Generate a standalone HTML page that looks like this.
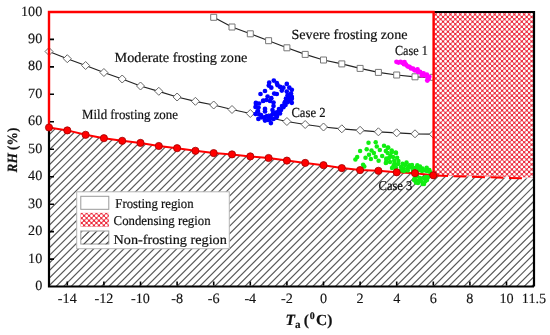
<!DOCTYPE html><html><head><meta charset="utf-8"><style>html,body{margin:0;padding:0;background:#fff;}svg{display:block;}text{font-family:"Liberation Serif",serif;fill:#111;stroke:#111;stroke-width:0.2px;text-rendering:geometricPrecision;}</style></head><body>
<svg width="550" height="335" viewBox="0 0 550 335">
<rect width="550" height="335" fill="#fff"/>
<defs><clipPath id="hc"><polygon points="49.0,127.5 67.3,130.4 85.6,134.8 103.9,138.2 122.2,140.8 140.5,142.9 158.8,146.0 177.1,148.2 195.4,150.8 213.7,153.1 232.0,154.4 250.3,156.4 268.6,158.0 286.9,160.6 305.2,162.9 323.5,165.2 341.8,168.1 360.1,170.1 378.4,170.8 396.7,172.3 415.0,173.2 433.3,175.3 534.0,178.6 534.0,286.5 49.0,286.5"/></clipPath>
<pattern id="xh" patternUnits="userSpaceOnUse" width="4.95" height="4.95" x="0.3" y="0.2">
<rect width="4.95" height="4.95" fill="#fff"/>



<path d="M-1.00,-1.00 L5.95,5.95 M-1.00,3.95 L1.00,5.95 M3.95,-1.00 L5.95,1.00" stroke="#ee3344" stroke-width="1.0" fill="none"/>
<path d="M-1.00,5.95 L5.95,-1.00 M-1.00,1.00 L1.00,-1.00 M3.95,5.95 L5.95,3.95" stroke="#ee3344" stroke-width="1.0" fill="none"/>
</pattern>
<clipPath id="lc"><rect x="81.3" y="231.5" width="27.2" height="12.8"/></clipPath>
</defs>
<path d="M-153.80,300.00L146.20,0.00M-146.25,300.00L153.75,0.00M-138.70,300.00L161.30,0.00M-131.15,300.00L168.85,0.00M-123.60,300.00L176.40,0.00M-116.05,300.00L183.95,0.00M-108.50,300.00L191.50,0.00M-100.95,300.00L199.05,0.00M-93.40,300.00L206.60,0.00M-85.85,300.00L214.15,0.00M-78.30,300.00L221.70,0.00M-70.75,300.00L229.25,0.00M-63.20,300.00L236.80,0.00M-55.65,300.00L244.35,0.00M-48.10,300.00L251.90,0.00M-40.55,300.00L259.45,0.00M-33.00,300.00L267.00,0.00M-25.45,300.00L274.55,0.00M-17.90,300.00L282.10,0.00M-10.35,300.00L289.65,0.00M-2.80,300.00L297.20,0.00M4.75,300.00L304.75,0.00M12.30,300.00L312.30,0.00M19.85,300.00L319.85,0.00M27.40,300.00L327.40,0.00M34.95,300.00L334.95,0.00M42.50,300.00L342.50,0.00M50.05,300.00L350.05,0.00M57.60,300.00L357.60,0.00M65.15,300.00L365.15,0.00M72.70,300.00L372.70,0.00M80.25,300.00L380.25,0.00M87.80,300.00L387.80,0.00M95.35,300.00L395.35,0.00M102.90,300.00L402.90,0.00M110.45,300.00L410.45,0.00M118.00,300.00L418.00,0.00M125.55,300.00L425.55,0.00M133.10,300.00L433.10,0.00M140.65,300.00L440.65,0.00M148.20,300.00L448.20,0.00M155.75,300.00L455.75,0.00M163.30,300.00L463.30,0.00M170.85,300.00L470.85,0.00M178.40,300.00L478.40,0.00M185.95,300.00L485.95,0.00M193.50,300.00L493.50,0.00M201.05,300.00L501.05,0.00M208.60,300.00L508.60,0.00M216.15,300.00L516.15,0.00M223.70,300.00L523.70,0.00M231.25,300.00L531.25,0.00M238.80,300.00L538.80,0.00M246.35,300.00L546.35,0.00M253.90,300.00L553.90,0.00M261.45,300.00L561.45,0.00M269.00,300.00L569.00,0.00M276.55,300.00L576.55,0.00M284.10,300.00L584.10,0.00M291.65,300.00L591.65,0.00M299.20,300.00L599.20,0.00M306.75,300.00L606.75,0.00M314.30,300.00L614.30,0.00M321.85,300.00L621.85,0.00M329.40,300.00L629.40,0.00M336.95,300.00L636.95,0.00M344.50,300.00L644.50,0.00M352.05,300.00L652.05,0.00M359.60,300.00L659.60,0.00M367.15,300.00L667.15,0.00M374.70,300.00L674.70,0.00M382.25,300.00L682.25,0.00M389.80,300.00L689.80,0.00M397.35,300.00L697.35,0.00M404.90,300.00L704.90,0.00M412.45,300.00L712.45,0.00M420.00,300.00L720.00,0.00M427.55,300.00L727.55,0.00M435.10,300.00L735.10,0.00M442.65,300.00L742.65,0.00M450.20,300.00L750.20,0.00M457.75,300.00L757.75,0.00M465.30,300.00L765.30,0.00M472.85,300.00L772.85,0.00M480.40,300.00L780.40,0.00M487.95,300.00L787.95,0.00M495.50,300.00L795.50,0.00M503.05,300.00L803.05,0.00M510.60,300.00L810.60,0.00M518.15,300.00L818.15,0.00M525.70,300.00L825.70,0.00" stroke="#5a5a5a" stroke-width="1.2" fill="none" clip-path="url(#hc)"/>
<polyline points="49.0,51.5 67.3,58.7 85.6,65.5 103.9,72.5 122.2,79.0 140.5,86.0 158.8,91.3 177.1,97.0 195.4,101.3 213.7,105.0 232.0,109.5 250.3,113.5 268.6,117.5 286.9,121.5 305.2,124.5 323.5,127.0 341.8,128.8 360.1,130.3 378.4,131.8 396.7,132.8 415.0,133.8 433.3,134.2" stroke="#222" stroke-width="1.2" fill="none"/>
<polyline points="213.7,17.3 232.0,27.0 250.3,33.8 268.6,40.7 286.9,47.8 305.2,54.4 323.5,60.0 341.8,63.9 360.1,68.4 378.4,72.4 396.7,75.0 415.0,76.8 433.3,77.3" stroke="#222" stroke-width="1.2" fill="none"/>
<polyline points="49.0,127.5 67.3,130.4 85.6,134.8 103.9,138.2 122.2,140.8 140.5,142.9 158.8,146.0 177.1,148.2 195.4,150.8 213.7,153.1 232.0,154.4 250.3,156.4 268.6,158.0 286.9,160.6 305.2,162.9 323.5,165.2 341.8,168.1 360.1,170.1 378.4,170.8 396.7,172.3 415.0,173.2 433.3,175.3" stroke="#f00" stroke-width="2" fill="none"/>
<path d="M49.0,47.5L53.0,51.5L49.0,55.5L45.0,51.5ZM67.3,54.7L71.3,58.7L67.3,62.7L63.3,58.7ZM85.6,61.5L89.6,65.5L85.6,69.5L81.6,65.5ZM103.9,68.5L107.9,72.5L103.9,76.5L99.9,72.5ZM122.2,75.0L126.2,79.0L122.2,83.0L118.2,79.0ZM140.5,82.0L144.5,86.0L140.5,90.0L136.5,86.0ZM158.8,87.3L162.8,91.3L158.8,95.3L154.8,91.3ZM177.1,93.0L181.1,97.0L177.1,101.0L173.1,97.0ZM195.4,97.3L199.4,101.3L195.4,105.3L191.4,101.3ZM213.7,101.0L217.7,105.0L213.7,109.0L209.7,105.0ZM232.0,105.5L236.0,109.5L232.0,113.5L228.0,109.5ZM250.3,109.5L254.3,113.5L250.3,117.5L246.3,113.5ZM268.6,113.5L272.6,117.5L268.6,121.5L264.6,117.5ZM286.9,117.5L290.9,121.5L286.9,125.5L282.9,121.5ZM305.2,120.5L309.2,124.5L305.2,128.5L301.2,124.5ZM323.5,123.0L327.5,127.0L323.5,131.0L319.5,127.0ZM341.8,124.8L345.8,128.8L341.8,132.8L337.8,128.8ZM360.1,126.3L364.1,130.3L360.1,134.3L356.1,130.3ZM378.4,127.8L382.4,131.8L378.4,135.8L374.4,131.8ZM396.7,128.8L400.7,132.8L396.7,136.8L392.7,132.8ZM415.0,129.8L419.0,133.8L415.0,137.8L411.0,133.8ZM433.3,130.2L437.3,134.2L433.3,138.2L429.3,134.2Z" fill="#fff" stroke="#666" stroke-width="1"/>
<path d="M210.7,14.3h6v6h-6ZM229.0,24.0h6v6h-6ZM247.3,30.8h6v6h-6ZM265.6,37.7h6v6h-6ZM283.9,44.8h6v6h-6ZM302.2,51.4h6v6h-6ZM320.5,57.0h6v6h-6ZM338.8,60.9h6v6h-6ZM357.1,65.4h6v6h-6ZM375.4,69.4h6v6h-6ZM393.7,72.0h6v6h-6ZM412.0,73.8h6v6h-6ZM430.3,74.3h6v6h-6Z" fill="#fff" stroke="#777" stroke-width="1"/>
<clipPath id="cc"><polygon points="433.3,12.0 534.0,12.0 534.0,177.6 433.3,175.3"/></clipPath>
<polygon points="433.3,12.0 534.0,12.0 534.0,177.6 433.3,175.3" fill="#fff"/>
<polygon points="433.3,12.0 534.0,12.0 534.0,177.6 433.3,175.3" fill="#ec2a3c"/>
<path d="M431.75,14.44a1.45,1.45 0 1,0 2.90,0a1.45,1.45 0 1,0 -2.90,0M434.21,11.98a1.45,1.45 0 1,0 2.90,0a1.45,1.45 0 1,0 -2.90,0M431.75,19.36a1.45,1.45 0 1,0 2.90,0a1.45,1.45 0 1,0 -2.90,0M434.21,16.90a1.45,1.45 0 1,0 2.90,0a1.45,1.45 0 1,0 -2.90,0M436.67,14.44a1.45,1.45 0 1,0 2.90,0a1.45,1.45 0 1,0 -2.90,0M439.13,11.98a1.45,1.45 0 1,0 2.90,0a1.45,1.45 0 1,0 -2.90,0M431.75,24.28a1.45,1.45 0 1,0 2.90,0a1.45,1.45 0 1,0 -2.90,0M434.21,21.82a1.45,1.45 0 1,0 2.90,0a1.45,1.45 0 1,0 -2.90,0M436.67,19.36a1.45,1.45 0 1,0 2.90,0a1.45,1.45 0 1,0 -2.90,0M439.13,16.90a1.45,1.45 0 1,0 2.90,0a1.45,1.45 0 1,0 -2.90,0M441.59,14.44a1.45,1.45 0 1,0 2.90,0a1.45,1.45 0 1,0 -2.90,0M444.05,11.98a1.45,1.45 0 1,0 2.90,0a1.45,1.45 0 1,0 -2.90,0M431.75,29.20a1.45,1.45 0 1,0 2.90,0a1.45,1.45 0 1,0 -2.90,0M434.21,26.74a1.45,1.45 0 1,0 2.90,0a1.45,1.45 0 1,0 -2.90,0M436.67,24.28a1.45,1.45 0 1,0 2.90,0a1.45,1.45 0 1,0 -2.90,0M439.13,21.82a1.45,1.45 0 1,0 2.90,0a1.45,1.45 0 1,0 -2.90,0M441.59,19.36a1.45,1.45 0 1,0 2.90,0a1.45,1.45 0 1,0 -2.90,0M444.05,16.90a1.45,1.45 0 1,0 2.90,0a1.45,1.45 0 1,0 -2.90,0M446.51,14.44a1.45,1.45 0 1,0 2.90,0a1.45,1.45 0 1,0 -2.90,0M448.97,11.98a1.45,1.45 0 1,0 2.90,0a1.45,1.45 0 1,0 -2.90,0M431.75,34.12a1.45,1.45 0 1,0 2.90,0a1.45,1.45 0 1,0 -2.90,0M434.21,31.66a1.45,1.45 0 1,0 2.90,0a1.45,1.45 0 1,0 -2.90,0M436.67,29.20a1.45,1.45 0 1,0 2.90,0a1.45,1.45 0 1,0 -2.90,0M439.13,26.74a1.45,1.45 0 1,0 2.90,0a1.45,1.45 0 1,0 -2.90,0M441.59,24.28a1.45,1.45 0 1,0 2.90,0a1.45,1.45 0 1,0 -2.90,0M444.05,21.82a1.45,1.45 0 1,0 2.90,0a1.45,1.45 0 1,0 -2.90,0M446.51,19.36a1.45,1.45 0 1,0 2.90,0a1.45,1.45 0 1,0 -2.90,0M448.97,16.90a1.45,1.45 0 1,0 2.90,0a1.45,1.45 0 1,0 -2.90,0M451.43,14.44a1.45,1.45 0 1,0 2.90,0a1.45,1.45 0 1,0 -2.90,0M453.89,11.98a1.45,1.45 0 1,0 2.90,0a1.45,1.45 0 1,0 -2.90,0M431.75,39.04a1.45,1.45 0 1,0 2.90,0a1.45,1.45 0 1,0 -2.90,0M434.21,36.58a1.45,1.45 0 1,0 2.90,0a1.45,1.45 0 1,0 -2.90,0M436.67,34.12a1.45,1.45 0 1,0 2.90,0a1.45,1.45 0 1,0 -2.90,0M439.13,31.66a1.45,1.45 0 1,0 2.90,0a1.45,1.45 0 1,0 -2.90,0M441.59,29.20a1.45,1.45 0 1,0 2.90,0a1.45,1.45 0 1,0 -2.90,0M444.05,26.74a1.45,1.45 0 1,0 2.90,0a1.45,1.45 0 1,0 -2.90,0M446.51,24.28a1.45,1.45 0 1,0 2.90,0a1.45,1.45 0 1,0 -2.90,0M448.97,21.82a1.45,1.45 0 1,0 2.90,0a1.45,1.45 0 1,0 -2.90,0M451.43,19.36a1.45,1.45 0 1,0 2.90,0a1.45,1.45 0 1,0 -2.90,0M453.89,16.90a1.45,1.45 0 1,0 2.90,0a1.45,1.45 0 1,0 -2.90,0M456.35,14.44a1.45,1.45 0 1,0 2.90,0a1.45,1.45 0 1,0 -2.90,0M458.81,11.98a1.45,1.45 0 1,0 2.90,0a1.45,1.45 0 1,0 -2.90,0M431.75,43.96a1.45,1.45 0 1,0 2.90,0a1.45,1.45 0 1,0 -2.90,0M434.21,41.50a1.45,1.45 0 1,0 2.90,0a1.45,1.45 0 1,0 -2.90,0M436.67,39.04a1.45,1.45 0 1,0 2.90,0a1.45,1.45 0 1,0 -2.90,0M439.13,36.58a1.45,1.45 0 1,0 2.90,0a1.45,1.45 0 1,0 -2.90,0M441.59,34.12a1.45,1.45 0 1,0 2.90,0a1.45,1.45 0 1,0 -2.90,0M444.05,31.66a1.45,1.45 0 1,0 2.90,0a1.45,1.45 0 1,0 -2.90,0M446.51,29.20a1.45,1.45 0 1,0 2.90,0a1.45,1.45 0 1,0 -2.90,0M448.97,26.74a1.45,1.45 0 1,0 2.90,0a1.45,1.45 0 1,0 -2.90,0M451.43,24.28a1.45,1.45 0 1,0 2.90,0a1.45,1.45 0 1,0 -2.90,0M453.89,21.82a1.45,1.45 0 1,0 2.90,0a1.45,1.45 0 1,0 -2.90,0M456.35,19.36a1.45,1.45 0 1,0 2.90,0a1.45,1.45 0 1,0 -2.90,0M458.81,16.90a1.45,1.45 0 1,0 2.90,0a1.45,1.45 0 1,0 -2.90,0M461.27,14.44a1.45,1.45 0 1,0 2.90,0a1.45,1.45 0 1,0 -2.90,0M463.73,11.98a1.45,1.45 0 1,0 2.90,0a1.45,1.45 0 1,0 -2.90,0M431.75,48.88a1.45,1.45 0 1,0 2.90,0a1.45,1.45 0 1,0 -2.90,0M434.21,46.42a1.45,1.45 0 1,0 2.90,0a1.45,1.45 0 1,0 -2.90,0M436.67,43.96a1.45,1.45 0 1,0 2.90,0a1.45,1.45 0 1,0 -2.90,0M439.13,41.50a1.45,1.45 0 1,0 2.90,0a1.45,1.45 0 1,0 -2.90,0M441.59,39.04a1.45,1.45 0 1,0 2.90,0a1.45,1.45 0 1,0 -2.90,0M444.05,36.58a1.45,1.45 0 1,0 2.90,0a1.45,1.45 0 1,0 -2.90,0M446.51,34.12a1.45,1.45 0 1,0 2.90,0a1.45,1.45 0 1,0 -2.90,0M448.97,31.66a1.45,1.45 0 1,0 2.90,0a1.45,1.45 0 1,0 -2.90,0M451.43,29.20a1.45,1.45 0 1,0 2.90,0a1.45,1.45 0 1,0 -2.90,0M453.89,26.74a1.45,1.45 0 1,0 2.90,0a1.45,1.45 0 1,0 -2.90,0M456.35,24.28a1.45,1.45 0 1,0 2.90,0a1.45,1.45 0 1,0 -2.90,0M458.81,21.82a1.45,1.45 0 1,0 2.90,0a1.45,1.45 0 1,0 -2.90,0M461.27,19.36a1.45,1.45 0 1,0 2.90,0a1.45,1.45 0 1,0 -2.90,0M463.73,16.90a1.45,1.45 0 1,0 2.90,0a1.45,1.45 0 1,0 -2.90,0M466.19,14.44a1.45,1.45 0 1,0 2.90,0a1.45,1.45 0 1,0 -2.90,0M468.65,11.98a1.45,1.45 0 1,0 2.90,0a1.45,1.45 0 1,0 -2.90,0M431.75,53.80a1.45,1.45 0 1,0 2.90,0a1.45,1.45 0 1,0 -2.90,0M434.21,51.34a1.45,1.45 0 1,0 2.90,0a1.45,1.45 0 1,0 -2.90,0M436.67,48.88a1.45,1.45 0 1,0 2.90,0a1.45,1.45 0 1,0 -2.90,0M439.13,46.42a1.45,1.45 0 1,0 2.90,0a1.45,1.45 0 1,0 -2.90,0M441.59,43.96a1.45,1.45 0 1,0 2.90,0a1.45,1.45 0 1,0 -2.90,0M444.05,41.50a1.45,1.45 0 1,0 2.90,0a1.45,1.45 0 1,0 -2.90,0M446.51,39.04a1.45,1.45 0 1,0 2.90,0a1.45,1.45 0 1,0 -2.90,0M448.97,36.58a1.45,1.45 0 1,0 2.90,0a1.45,1.45 0 1,0 -2.90,0M451.43,34.12a1.45,1.45 0 1,0 2.90,0a1.45,1.45 0 1,0 -2.90,0M453.89,31.66a1.45,1.45 0 1,0 2.90,0a1.45,1.45 0 1,0 -2.90,0M456.35,29.20a1.45,1.45 0 1,0 2.90,0a1.45,1.45 0 1,0 -2.90,0M458.81,26.74a1.45,1.45 0 1,0 2.90,0a1.45,1.45 0 1,0 -2.90,0M461.27,24.28a1.45,1.45 0 1,0 2.90,0a1.45,1.45 0 1,0 -2.90,0M463.73,21.82a1.45,1.45 0 1,0 2.90,0a1.45,1.45 0 1,0 -2.90,0M466.19,19.36a1.45,1.45 0 1,0 2.90,0a1.45,1.45 0 1,0 -2.90,0M468.65,16.90a1.45,1.45 0 1,0 2.90,0a1.45,1.45 0 1,0 -2.90,0M471.11,14.44a1.45,1.45 0 1,0 2.90,0a1.45,1.45 0 1,0 -2.90,0M473.57,11.98a1.45,1.45 0 1,0 2.90,0a1.45,1.45 0 1,0 -2.90,0M431.75,58.72a1.45,1.45 0 1,0 2.90,0a1.45,1.45 0 1,0 -2.90,0M434.21,56.26a1.45,1.45 0 1,0 2.90,0a1.45,1.45 0 1,0 -2.90,0M436.67,53.80a1.45,1.45 0 1,0 2.90,0a1.45,1.45 0 1,0 -2.90,0M439.13,51.34a1.45,1.45 0 1,0 2.90,0a1.45,1.45 0 1,0 -2.90,0M441.59,48.88a1.45,1.45 0 1,0 2.90,0a1.45,1.45 0 1,0 -2.90,0M444.05,46.42a1.45,1.45 0 1,0 2.90,0a1.45,1.45 0 1,0 -2.90,0M446.51,43.96a1.45,1.45 0 1,0 2.90,0a1.45,1.45 0 1,0 -2.90,0M448.97,41.50a1.45,1.45 0 1,0 2.90,0a1.45,1.45 0 1,0 -2.90,0M451.43,39.04a1.45,1.45 0 1,0 2.90,0a1.45,1.45 0 1,0 -2.90,0M453.89,36.58a1.45,1.45 0 1,0 2.90,0a1.45,1.45 0 1,0 -2.90,0M456.35,34.12a1.45,1.45 0 1,0 2.90,0a1.45,1.45 0 1,0 -2.90,0M458.81,31.66a1.45,1.45 0 1,0 2.90,0a1.45,1.45 0 1,0 -2.90,0M461.27,29.20a1.45,1.45 0 1,0 2.90,0a1.45,1.45 0 1,0 -2.90,0M463.73,26.74a1.45,1.45 0 1,0 2.90,0a1.45,1.45 0 1,0 -2.90,0M466.19,24.28a1.45,1.45 0 1,0 2.90,0a1.45,1.45 0 1,0 -2.90,0M468.65,21.82a1.45,1.45 0 1,0 2.90,0a1.45,1.45 0 1,0 -2.90,0M471.11,19.36a1.45,1.45 0 1,0 2.90,0a1.45,1.45 0 1,0 -2.90,0M473.57,16.90a1.45,1.45 0 1,0 2.90,0a1.45,1.45 0 1,0 -2.90,0M476.03,14.44a1.45,1.45 0 1,0 2.90,0a1.45,1.45 0 1,0 -2.90,0M478.49,11.98a1.45,1.45 0 1,0 2.90,0a1.45,1.45 0 1,0 -2.90,0M431.75,63.64a1.45,1.45 0 1,0 2.90,0a1.45,1.45 0 1,0 -2.90,0M434.21,61.18a1.45,1.45 0 1,0 2.90,0a1.45,1.45 0 1,0 -2.90,0M436.67,58.72a1.45,1.45 0 1,0 2.90,0a1.45,1.45 0 1,0 -2.90,0M439.13,56.26a1.45,1.45 0 1,0 2.90,0a1.45,1.45 0 1,0 -2.90,0M441.59,53.80a1.45,1.45 0 1,0 2.90,0a1.45,1.45 0 1,0 -2.90,0M444.05,51.34a1.45,1.45 0 1,0 2.90,0a1.45,1.45 0 1,0 -2.90,0M446.51,48.88a1.45,1.45 0 1,0 2.90,0a1.45,1.45 0 1,0 -2.90,0M448.97,46.42a1.45,1.45 0 1,0 2.90,0a1.45,1.45 0 1,0 -2.90,0M451.43,43.96a1.45,1.45 0 1,0 2.90,0a1.45,1.45 0 1,0 -2.90,0M453.89,41.50a1.45,1.45 0 1,0 2.90,0a1.45,1.45 0 1,0 -2.90,0M456.35,39.04a1.45,1.45 0 1,0 2.90,0a1.45,1.45 0 1,0 -2.90,0M458.81,36.58a1.45,1.45 0 1,0 2.90,0a1.45,1.45 0 1,0 -2.90,0M461.27,34.12a1.45,1.45 0 1,0 2.90,0a1.45,1.45 0 1,0 -2.90,0M463.73,31.66a1.45,1.45 0 1,0 2.90,0a1.45,1.45 0 1,0 -2.90,0M466.19,29.20a1.45,1.45 0 1,0 2.90,0a1.45,1.45 0 1,0 -2.90,0M468.65,26.74a1.45,1.45 0 1,0 2.90,0a1.45,1.45 0 1,0 -2.90,0M471.11,24.28a1.45,1.45 0 1,0 2.90,0a1.45,1.45 0 1,0 -2.90,0M473.57,21.82a1.45,1.45 0 1,0 2.90,0a1.45,1.45 0 1,0 -2.90,0M476.03,19.36a1.45,1.45 0 1,0 2.90,0a1.45,1.45 0 1,0 -2.90,0M478.49,16.90a1.45,1.45 0 1,0 2.90,0a1.45,1.45 0 1,0 -2.90,0M480.95,14.44a1.45,1.45 0 1,0 2.90,0a1.45,1.45 0 1,0 -2.90,0M483.41,11.98a1.45,1.45 0 1,0 2.90,0a1.45,1.45 0 1,0 -2.90,0M431.75,68.56a1.45,1.45 0 1,0 2.90,0a1.45,1.45 0 1,0 -2.90,0M434.21,66.10a1.45,1.45 0 1,0 2.90,0a1.45,1.45 0 1,0 -2.90,0M436.67,63.64a1.45,1.45 0 1,0 2.90,0a1.45,1.45 0 1,0 -2.90,0M439.13,61.18a1.45,1.45 0 1,0 2.90,0a1.45,1.45 0 1,0 -2.90,0M441.59,58.72a1.45,1.45 0 1,0 2.90,0a1.45,1.45 0 1,0 -2.90,0M444.05,56.26a1.45,1.45 0 1,0 2.90,0a1.45,1.45 0 1,0 -2.90,0M446.51,53.80a1.45,1.45 0 1,0 2.90,0a1.45,1.45 0 1,0 -2.90,0M448.97,51.34a1.45,1.45 0 1,0 2.90,0a1.45,1.45 0 1,0 -2.90,0M451.43,48.88a1.45,1.45 0 1,0 2.90,0a1.45,1.45 0 1,0 -2.90,0M453.89,46.42a1.45,1.45 0 1,0 2.90,0a1.45,1.45 0 1,0 -2.90,0M456.35,43.96a1.45,1.45 0 1,0 2.90,0a1.45,1.45 0 1,0 -2.90,0M458.81,41.50a1.45,1.45 0 1,0 2.90,0a1.45,1.45 0 1,0 -2.90,0M461.27,39.04a1.45,1.45 0 1,0 2.90,0a1.45,1.45 0 1,0 -2.90,0M463.73,36.58a1.45,1.45 0 1,0 2.90,0a1.45,1.45 0 1,0 -2.90,0M466.19,34.12a1.45,1.45 0 1,0 2.90,0a1.45,1.45 0 1,0 -2.90,0M468.65,31.66a1.45,1.45 0 1,0 2.90,0a1.45,1.45 0 1,0 -2.90,0M471.11,29.20a1.45,1.45 0 1,0 2.90,0a1.45,1.45 0 1,0 -2.90,0M473.57,26.74a1.45,1.45 0 1,0 2.90,0a1.45,1.45 0 1,0 -2.90,0M476.03,24.28a1.45,1.45 0 1,0 2.90,0a1.45,1.45 0 1,0 -2.90,0M478.49,21.82a1.45,1.45 0 1,0 2.90,0a1.45,1.45 0 1,0 -2.90,0M480.95,19.36a1.45,1.45 0 1,0 2.90,0a1.45,1.45 0 1,0 -2.90,0M483.41,16.90a1.45,1.45 0 1,0 2.90,0a1.45,1.45 0 1,0 -2.90,0M485.87,14.44a1.45,1.45 0 1,0 2.90,0a1.45,1.45 0 1,0 -2.90,0M488.33,11.98a1.45,1.45 0 1,0 2.90,0a1.45,1.45 0 1,0 -2.90,0M431.75,73.48a1.45,1.45 0 1,0 2.90,0a1.45,1.45 0 1,0 -2.90,0M434.21,71.02a1.45,1.45 0 1,0 2.90,0a1.45,1.45 0 1,0 -2.90,0M436.67,68.56a1.45,1.45 0 1,0 2.90,0a1.45,1.45 0 1,0 -2.90,0M439.13,66.10a1.45,1.45 0 1,0 2.90,0a1.45,1.45 0 1,0 -2.90,0M441.59,63.64a1.45,1.45 0 1,0 2.90,0a1.45,1.45 0 1,0 -2.90,0M444.05,61.18a1.45,1.45 0 1,0 2.90,0a1.45,1.45 0 1,0 -2.90,0M446.51,58.72a1.45,1.45 0 1,0 2.90,0a1.45,1.45 0 1,0 -2.90,0M448.97,56.26a1.45,1.45 0 1,0 2.90,0a1.45,1.45 0 1,0 -2.90,0M451.43,53.80a1.45,1.45 0 1,0 2.90,0a1.45,1.45 0 1,0 -2.90,0M453.89,51.34a1.45,1.45 0 1,0 2.90,0a1.45,1.45 0 1,0 -2.90,0M456.35,48.88a1.45,1.45 0 1,0 2.90,0a1.45,1.45 0 1,0 -2.90,0M458.81,46.42a1.45,1.45 0 1,0 2.90,0a1.45,1.45 0 1,0 -2.90,0M461.27,43.96a1.45,1.45 0 1,0 2.90,0a1.45,1.45 0 1,0 -2.90,0M463.73,41.50a1.45,1.45 0 1,0 2.90,0a1.45,1.45 0 1,0 -2.90,0M466.19,39.04a1.45,1.45 0 1,0 2.90,0a1.45,1.45 0 1,0 -2.90,0M468.65,36.58a1.45,1.45 0 1,0 2.90,0a1.45,1.45 0 1,0 -2.90,0M471.11,34.12a1.45,1.45 0 1,0 2.90,0a1.45,1.45 0 1,0 -2.90,0M473.57,31.66a1.45,1.45 0 1,0 2.90,0a1.45,1.45 0 1,0 -2.90,0M476.03,29.20a1.45,1.45 0 1,0 2.90,0a1.45,1.45 0 1,0 -2.90,0M478.49,26.74a1.45,1.45 0 1,0 2.90,0a1.45,1.45 0 1,0 -2.90,0M480.95,24.28a1.45,1.45 0 1,0 2.90,0a1.45,1.45 0 1,0 -2.90,0M483.41,21.82a1.45,1.45 0 1,0 2.90,0a1.45,1.45 0 1,0 -2.90,0M485.87,19.36a1.45,1.45 0 1,0 2.90,0a1.45,1.45 0 1,0 -2.90,0M488.33,16.90a1.45,1.45 0 1,0 2.90,0a1.45,1.45 0 1,0 -2.90,0M490.79,14.44a1.45,1.45 0 1,0 2.90,0a1.45,1.45 0 1,0 -2.90,0M493.25,11.98a1.45,1.45 0 1,0 2.90,0a1.45,1.45 0 1,0 -2.90,0M431.75,78.40a1.45,1.45 0 1,0 2.90,0a1.45,1.45 0 1,0 -2.90,0M434.21,75.94a1.45,1.45 0 1,0 2.90,0a1.45,1.45 0 1,0 -2.90,0M436.67,73.48a1.45,1.45 0 1,0 2.90,0a1.45,1.45 0 1,0 -2.90,0M439.13,71.02a1.45,1.45 0 1,0 2.90,0a1.45,1.45 0 1,0 -2.90,0M441.59,68.56a1.45,1.45 0 1,0 2.90,0a1.45,1.45 0 1,0 -2.90,0M444.05,66.10a1.45,1.45 0 1,0 2.90,0a1.45,1.45 0 1,0 -2.90,0M446.51,63.64a1.45,1.45 0 1,0 2.90,0a1.45,1.45 0 1,0 -2.90,0M448.97,61.18a1.45,1.45 0 1,0 2.90,0a1.45,1.45 0 1,0 -2.90,0M451.43,58.72a1.45,1.45 0 1,0 2.90,0a1.45,1.45 0 1,0 -2.90,0M453.89,56.26a1.45,1.45 0 1,0 2.90,0a1.45,1.45 0 1,0 -2.90,0M456.35,53.80a1.45,1.45 0 1,0 2.90,0a1.45,1.45 0 1,0 -2.90,0M458.81,51.34a1.45,1.45 0 1,0 2.90,0a1.45,1.45 0 1,0 -2.90,0M461.27,48.88a1.45,1.45 0 1,0 2.90,0a1.45,1.45 0 1,0 -2.90,0M463.73,46.42a1.45,1.45 0 1,0 2.90,0a1.45,1.45 0 1,0 -2.90,0M466.19,43.96a1.45,1.45 0 1,0 2.90,0a1.45,1.45 0 1,0 -2.90,0M468.65,41.50a1.45,1.45 0 1,0 2.90,0a1.45,1.45 0 1,0 -2.90,0M471.11,39.04a1.45,1.45 0 1,0 2.90,0a1.45,1.45 0 1,0 -2.90,0M473.57,36.58a1.45,1.45 0 1,0 2.90,0a1.45,1.45 0 1,0 -2.90,0M476.03,34.12a1.45,1.45 0 1,0 2.90,0a1.45,1.45 0 1,0 -2.90,0M478.49,31.66a1.45,1.45 0 1,0 2.90,0a1.45,1.45 0 1,0 -2.90,0M480.95,29.20a1.45,1.45 0 1,0 2.90,0a1.45,1.45 0 1,0 -2.90,0M483.41,26.74a1.45,1.45 0 1,0 2.90,0a1.45,1.45 0 1,0 -2.90,0M485.87,24.28a1.45,1.45 0 1,0 2.90,0a1.45,1.45 0 1,0 -2.90,0M488.33,21.82a1.45,1.45 0 1,0 2.90,0a1.45,1.45 0 1,0 -2.90,0M490.79,19.36a1.45,1.45 0 1,0 2.90,0a1.45,1.45 0 1,0 -2.90,0M493.25,16.90a1.45,1.45 0 1,0 2.90,0a1.45,1.45 0 1,0 -2.90,0M495.71,14.44a1.45,1.45 0 1,0 2.90,0a1.45,1.45 0 1,0 -2.90,0M498.17,11.98a1.45,1.45 0 1,0 2.90,0a1.45,1.45 0 1,0 -2.90,0M431.75,83.32a1.45,1.45 0 1,0 2.90,0a1.45,1.45 0 1,0 -2.90,0M434.21,80.86a1.45,1.45 0 1,0 2.90,0a1.45,1.45 0 1,0 -2.90,0M436.67,78.40a1.45,1.45 0 1,0 2.90,0a1.45,1.45 0 1,0 -2.90,0M439.13,75.94a1.45,1.45 0 1,0 2.90,0a1.45,1.45 0 1,0 -2.90,0M441.59,73.48a1.45,1.45 0 1,0 2.90,0a1.45,1.45 0 1,0 -2.90,0M444.05,71.02a1.45,1.45 0 1,0 2.90,0a1.45,1.45 0 1,0 -2.90,0M446.51,68.56a1.45,1.45 0 1,0 2.90,0a1.45,1.45 0 1,0 -2.90,0M448.97,66.10a1.45,1.45 0 1,0 2.90,0a1.45,1.45 0 1,0 -2.90,0M451.43,63.64a1.45,1.45 0 1,0 2.90,0a1.45,1.45 0 1,0 -2.90,0M453.89,61.18a1.45,1.45 0 1,0 2.90,0a1.45,1.45 0 1,0 -2.90,0M456.35,58.72a1.45,1.45 0 1,0 2.90,0a1.45,1.45 0 1,0 -2.90,0M458.81,56.26a1.45,1.45 0 1,0 2.90,0a1.45,1.45 0 1,0 -2.90,0M461.27,53.80a1.45,1.45 0 1,0 2.90,0a1.45,1.45 0 1,0 -2.90,0M463.73,51.34a1.45,1.45 0 1,0 2.90,0a1.45,1.45 0 1,0 -2.90,0M466.19,48.88a1.45,1.45 0 1,0 2.90,0a1.45,1.45 0 1,0 -2.90,0M468.65,46.42a1.45,1.45 0 1,0 2.90,0a1.45,1.45 0 1,0 -2.90,0M471.11,43.96a1.45,1.45 0 1,0 2.90,0a1.45,1.45 0 1,0 -2.90,0M473.57,41.50a1.45,1.45 0 1,0 2.90,0a1.45,1.45 0 1,0 -2.90,0M476.03,39.04a1.45,1.45 0 1,0 2.90,0a1.45,1.45 0 1,0 -2.90,0M478.49,36.58a1.45,1.45 0 1,0 2.90,0a1.45,1.45 0 1,0 -2.90,0M480.95,34.12a1.45,1.45 0 1,0 2.90,0a1.45,1.45 0 1,0 -2.90,0M483.41,31.66a1.45,1.45 0 1,0 2.90,0a1.45,1.45 0 1,0 -2.90,0M485.87,29.20a1.45,1.45 0 1,0 2.90,0a1.45,1.45 0 1,0 -2.90,0M488.33,26.74a1.45,1.45 0 1,0 2.90,0a1.45,1.45 0 1,0 -2.90,0M490.79,24.28a1.45,1.45 0 1,0 2.90,0a1.45,1.45 0 1,0 -2.90,0M493.25,21.82a1.45,1.45 0 1,0 2.90,0a1.45,1.45 0 1,0 -2.90,0M495.71,19.36a1.45,1.45 0 1,0 2.90,0a1.45,1.45 0 1,0 -2.90,0M498.17,16.90a1.45,1.45 0 1,0 2.90,0a1.45,1.45 0 1,0 -2.90,0M500.63,14.44a1.45,1.45 0 1,0 2.90,0a1.45,1.45 0 1,0 -2.90,0M503.09,11.98a1.45,1.45 0 1,0 2.90,0a1.45,1.45 0 1,0 -2.90,0M431.75,88.24a1.45,1.45 0 1,0 2.90,0a1.45,1.45 0 1,0 -2.90,0M434.21,85.78a1.45,1.45 0 1,0 2.90,0a1.45,1.45 0 1,0 -2.90,0M436.67,83.32a1.45,1.45 0 1,0 2.90,0a1.45,1.45 0 1,0 -2.90,0M439.13,80.86a1.45,1.45 0 1,0 2.90,0a1.45,1.45 0 1,0 -2.90,0M441.59,78.40a1.45,1.45 0 1,0 2.90,0a1.45,1.45 0 1,0 -2.90,0M444.05,75.94a1.45,1.45 0 1,0 2.90,0a1.45,1.45 0 1,0 -2.90,0M446.51,73.48a1.45,1.45 0 1,0 2.90,0a1.45,1.45 0 1,0 -2.90,0M448.97,71.02a1.45,1.45 0 1,0 2.90,0a1.45,1.45 0 1,0 -2.90,0M451.43,68.56a1.45,1.45 0 1,0 2.90,0a1.45,1.45 0 1,0 -2.90,0M453.89,66.10a1.45,1.45 0 1,0 2.90,0a1.45,1.45 0 1,0 -2.90,0M456.35,63.64a1.45,1.45 0 1,0 2.90,0a1.45,1.45 0 1,0 -2.90,0M458.81,61.18a1.45,1.45 0 1,0 2.90,0a1.45,1.45 0 1,0 -2.90,0M461.27,58.72a1.45,1.45 0 1,0 2.90,0a1.45,1.45 0 1,0 -2.90,0M463.73,56.26a1.45,1.45 0 1,0 2.90,0a1.45,1.45 0 1,0 -2.90,0M466.19,53.80a1.45,1.45 0 1,0 2.90,0a1.45,1.45 0 1,0 -2.90,0M468.65,51.34a1.45,1.45 0 1,0 2.90,0a1.45,1.45 0 1,0 -2.90,0M471.11,48.88a1.45,1.45 0 1,0 2.90,0a1.45,1.45 0 1,0 -2.90,0M473.57,46.42a1.45,1.45 0 1,0 2.90,0a1.45,1.45 0 1,0 -2.90,0M476.03,43.96a1.45,1.45 0 1,0 2.90,0a1.45,1.45 0 1,0 -2.90,0M478.49,41.50a1.45,1.45 0 1,0 2.90,0a1.45,1.45 0 1,0 -2.90,0M480.95,39.04a1.45,1.45 0 1,0 2.90,0a1.45,1.45 0 1,0 -2.90,0M483.41,36.58a1.45,1.45 0 1,0 2.90,0a1.45,1.45 0 1,0 -2.90,0M485.87,34.12a1.45,1.45 0 1,0 2.90,0a1.45,1.45 0 1,0 -2.90,0M488.33,31.66a1.45,1.45 0 1,0 2.90,0a1.45,1.45 0 1,0 -2.90,0M490.79,29.20a1.45,1.45 0 1,0 2.90,0a1.45,1.45 0 1,0 -2.90,0M493.25,26.74a1.45,1.45 0 1,0 2.90,0a1.45,1.45 0 1,0 -2.90,0M495.71,24.28a1.45,1.45 0 1,0 2.90,0a1.45,1.45 0 1,0 -2.90,0M498.17,21.82a1.45,1.45 0 1,0 2.90,0a1.45,1.45 0 1,0 -2.90,0M500.63,19.36a1.45,1.45 0 1,0 2.90,0a1.45,1.45 0 1,0 -2.90,0M503.09,16.90a1.45,1.45 0 1,0 2.90,0a1.45,1.45 0 1,0 -2.90,0M505.55,14.44a1.45,1.45 0 1,0 2.90,0a1.45,1.45 0 1,0 -2.90,0M508.01,11.98a1.45,1.45 0 1,0 2.90,0a1.45,1.45 0 1,0 -2.90,0M431.75,93.16a1.45,1.45 0 1,0 2.90,0a1.45,1.45 0 1,0 -2.90,0M434.21,90.70a1.45,1.45 0 1,0 2.90,0a1.45,1.45 0 1,0 -2.90,0M436.67,88.24a1.45,1.45 0 1,0 2.90,0a1.45,1.45 0 1,0 -2.90,0M439.13,85.78a1.45,1.45 0 1,0 2.90,0a1.45,1.45 0 1,0 -2.90,0M441.59,83.32a1.45,1.45 0 1,0 2.90,0a1.45,1.45 0 1,0 -2.90,0M444.05,80.86a1.45,1.45 0 1,0 2.90,0a1.45,1.45 0 1,0 -2.90,0M446.51,78.40a1.45,1.45 0 1,0 2.90,0a1.45,1.45 0 1,0 -2.90,0M448.97,75.94a1.45,1.45 0 1,0 2.90,0a1.45,1.45 0 1,0 -2.90,0M451.43,73.48a1.45,1.45 0 1,0 2.90,0a1.45,1.45 0 1,0 -2.90,0M453.89,71.02a1.45,1.45 0 1,0 2.90,0a1.45,1.45 0 1,0 -2.90,0M456.35,68.56a1.45,1.45 0 1,0 2.90,0a1.45,1.45 0 1,0 -2.90,0M458.81,66.10a1.45,1.45 0 1,0 2.90,0a1.45,1.45 0 1,0 -2.90,0M461.27,63.64a1.45,1.45 0 1,0 2.90,0a1.45,1.45 0 1,0 -2.90,0M463.73,61.18a1.45,1.45 0 1,0 2.90,0a1.45,1.45 0 1,0 -2.90,0M466.19,58.72a1.45,1.45 0 1,0 2.90,0a1.45,1.45 0 1,0 -2.90,0M468.65,56.26a1.45,1.45 0 1,0 2.90,0a1.45,1.45 0 1,0 -2.90,0M471.11,53.80a1.45,1.45 0 1,0 2.90,0a1.45,1.45 0 1,0 -2.90,0M473.57,51.34a1.45,1.45 0 1,0 2.90,0a1.45,1.45 0 1,0 -2.90,0M476.03,48.88a1.45,1.45 0 1,0 2.90,0a1.45,1.45 0 1,0 -2.90,0M478.49,46.42a1.45,1.45 0 1,0 2.90,0a1.45,1.45 0 1,0 -2.90,0M480.95,43.96a1.45,1.45 0 1,0 2.90,0a1.45,1.45 0 1,0 -2.90,0M483.41,41.50a1.45,1.45 0 1,0 2.90,0a1.45,1.45 0 1,0 -2.90,0M485.87,39.04a1.45,1.45 0 1,0 2.90,0a1.45,1.45 0 1,0 -2.90,0M488.33,36.58a1.45,1.45 0 1,0 2.90,0a1.45,1.45 0 1,0 -2.90,0M490.79,34.12a1.45,1.45 0 1,0 2.90,0a1.45,1.45 0 1,0 -2.90,0M493.25,31.66a1.45,1.45 0 1,0 2.90,0a1.45,1.45 0 1,0 -2.90,0M495.71,29.20a1.45,1.45 0 1,0 2.90,0a1.45,1.45 0 1,0 -2.90,0M498.17,26.74a1.45,1.45 0 1,0 2.90,0a1.45,1.45 0 1,0 -2.90,0M500.63,24.28a1.45,1.45 0 1,0 2.90,0a1.45,1.45 0 1,0 -2.90,0M503.09,21.82a1.45,1.45 0 1,0 2.90,0a1.45,1.45 0 1,0 -2.90,0M505.55,19.36a1.45,1.45 0 1,0 2.90,0a1.45,1.45 0 1,0 -2.90,0M508.01,16.90a1.45,1.45 0 1,0 2.90,0a1.45,1.45 0 1,0 -2.90,0M510.47,14.44a1.45,1.45 0 1,0 2.90,0a1.45,1.45 0 1,0 -2.90,0M512.93,11.98a1.45,1.45 0 1,0 2.90,0a1.45,1.45 0 1,0 -2.90,0M431.75,98.08a1.45,1.45 0 1,0 2.90,0a1.45,1.45 0 1,0 -2.90,0M434.21,95.62a1.45,1.45 0 1,0 2.90,0a1.45,1.45 0 1,0 -2.90,0M436.67,93.16a1.45,1.45 0 1,0 2.90,0a1.45,1.45 0 1,0 -2.90,0M439.13,90.70a1.45,1.45 0 1,0 2.90,0a1.45,1.45 0 1,0 -2.90,0M441.59,88.24a1.45,1.45 0 1,0 2.90,0a1.45,1.45 0 1,0 -2.90,0M444.05,85.78a1.45,1.45 0 1,0 2.90,0a1.45,1.45 0 1,0 -2.90,0M446.51,83.32a1.45,1.45 0 1,0 2.90,0a1.45,1.45 0 1,0 -2.90,0M448.97,80.86a1.45,1.45 0 1,0 2.90,0a1.45,1.45 0 1,0 -2.90,0M451.43,78.40a1.45,1.45 0 1,0 2.90,0a1.45,1.45 0 1,0 -2.90,0M453.89,75.94a1.45,1.45 0 1,0 2.90,0a1.45,1.45 0 1,0 -2.90,0M456.35,73.48a1.45,1.45 0 1,0 2.90,0a1.45,1.45 0 1,0 -2.90,0M458.81,71.02a1.45,1.45 0 1,0 2.90,0a1.45,1.45 0 1,0 -2.90,0M461.27,68.56a1.45,1.45 0 1,0 2.90,0a1.45,1.45 0 1,0 -2.90,0M463.73,66.10a1.45,1.45 0 1,0 2.90,0a1.45,1.45 0 1,0 -2.90,0M466.19,63.64a1.45,1.45 0 1,0 2.90,0a1.45,1.45 0 1,0 -2.90,0M468.65,61.18a1.45,1.45 0 1,0 2.90,0a1.45,1.45 0 1,0 -2.90,0M471.11,58.72a1.45,1.45 0 1,0 2.90,0a1.45,1.45 0 1,0 -2.90,0M473.57,56.26a1.45,1.45 0 1,0 2.90,0a1.45,1.45 0 1,0 -2.90,0M476.03,53.80a1.45,1.45 0 1,0 2.90,0a1.45,1.45 0 1,0 -2.90,0M478.49,51.34a1.45,1.45 0 1,0 2.90,0a1.45,1.45 0 1,0 -2.90,0M480.95,48.88a1.45,1.45 0 1,0 2.90,0a1.45,1.45 0 1,0 -2.90,0M483.41,46.42a1.45,1.45 0 1,0 2.90,0a1.45,1.45 0 1,0 -2.90,0M485.87,43.96a1.45,1.45 0 1,0 2.90,0a1.45,1.45 0 1,0 -2.90,0M488.33,41.50a1.45,1.45 0 1,0 2.90,0a1.45,1.45 0 1,0 -2.90,0M490.79,39.04a1.45,1.45 0 1,0 2.90,0a1.45,1.45 0 1,0 -2.90,0M493.25,36.58a1.45,1.45 0 1,0 2.90,0a1.45,1.45 0 1,0 -2.90,0M495.71,34.12a1.45,1.45 0 1,0 2.90,0a1.45,1.45 0 1,0 -2.90,0M498.17,31.66a1.45,1.45 0 1,0 2.90,0a1.45,1.45 0 1,0 -2.90,0M500.63,29.20a1.45,1.45 0 1,0 2.90,0a1.45,1.45 0 1,0 -2.90,0M503.09,26.74a1.45,1.45 0 1,0 2.90,0a1.45,1.45 0 1,0 -2.90,0M505.55,24.28a1.45,1.45 0 1,0 2.90,0a1.45,1.45 0 1,0 -2.90,0M508.01,21.82a1.45,1.45 0 1,0 2.90,0a1.45,1.45 0 1,0 -2.90,0M510.47,19.36a1.45,1.45 0 1,0 2.90,0a1.45,1.45 0 1,0 -2.90,0M512.93,16.90a1.45,1.45 0 1,0 2.90,0a1.45,1.45 0 1,0 -2.90,0M515.39,14.44a1.45,1.45 0 1,0 2.90,0a1.45,1.45 0 1,0 -2.90,0M517.85,11.98a1.45,1.45 0 1,0 2.90,0a1.45,1.45 0 1,0 -2.90,0M431.75,103.00a1.45,1.45 0 1,0 2.90,0a1.45,1.45 0 1,0 -2.90,0M434.21,100.54a1.45,1.45 0 1,0 2.90,0a1.45,1.45 0 1,0 -2.90,0M436.67,98.08a1.45,1.45 0 1,0 2.90,0a1.45,1.45 0 1,0 -2.90,0M439.13,95.62a1.45,1.45 0 1,0 2.90,0a1.45,1.45 0 1,0 -2.90,0M441.59,93.16a1.45,1.45 0 1,0 2.90,0a1.45,1.45 0 1,0 -2.90,0M444.05,90.70a1.45,1.45 0 1,0 2.90,0a1.45,1.45 0 1,0 -2.90,0M446.51,88.24a1.45,1.45 0 1,0 2.90,0a1.45,1.45 0 1,0 -2.90,0M448.97,85.78a1.45,1.45 0 1,0 2.90,0a1.45,1.45 0 1,0 -2.90,0M451.43,83.32a1.45,1.45 0 1,0 2.90,0a1.45,1.45 0 1,0 -2.90,0M453.89,80.86a1.45,1.45 0 1,0 2.90,0a1.45,1.45 0 1,0 -2.90,0M456.35,78.40a1.45,1.45 0 1,0 2.90,0a1.45,1.45 0 1,0 -2.90,0M458.81,75.94a1.45,1.45 0 1,0 2.90,0a1.45,1.45 0 1,0 -2.90,0M461.27,73.48a1.45,1.45 0 1,0 2.90,0a1.45,1.45 0 1,0 -2.90,0M463.73,71.02a1.45,1.45 0 1,0 2.90,0a1.45,1.45 0 1,0 -2.90,0M466.19,68.56a1.45,1.45 0 1,0 2.90,0a1.45,1.45 0 1,0 -2.90,0M468.65,66.10a1.45,1.45 0 1,0 2.90,0a1.45,1.45 0 1,0 -2.90,0M471.11,63.64a1.45,1.45 0 1,0 2.90,0a1.45,1.45 0 1,0 -2.90,0M473.57,61.18a1.45,1.45 0 1,0 2.90,0a1.45,1.45 0 1,0 -2.90,0M476.03,58.72a1.45,1.45 0 1,0 2.90,0a1.45,1.45 0 1,0 -2.90,0M478.49,56.26a1.45,1.45 0 1,0 2.90,0a1.45,1.45 0 1,0 -2.90,0M480.95,53.80a1.45,1.45 0 1,0 2.90,0a1.45,1.45 0 1,0 -2.90,0M483.41,51.34a1.45,1.45 0 1,0 2.90,0a1.45,1.45 0 1,0 -2.90,0M485.87,48.88a1.45,1.45 0 1,0 2.90,0a1.45,1.45 0 1,0 -2.90,0M488.33,46.42a1.45,1.45 0 1,0 2.90,0a1.45,1.45 0 1,0 -2.90,0M490.79,43.96a1.45,1.45 0 1,0 2.90,0a1.45,1.45 0 1,0 -2.90,0M493.25,41.50a1.45,1.45 0 1,0 2.90,0a1.45,1.45 0 1,0 -2.90,0M495.71,39.04a1.45,1.45 0 1,0 2.90,0a1.45,1.45 0 1,0 -2.90,0M498.17,36.58a1.45,1.45 0 1,0 2.90,0a1.45,1.45 0 1,0 -2.90,0M500.63,34.12a1.45,1.45 0 1,0 2.90,0a1.45,1.45 0 1,0 -2.90,0M503.09,31.66a1.45,1.45 0 1,0 2.90,0a1.45,1.45 0 1,0 -2.90,0M505.55,29.20a1.45,1.45 0 1,0 2.90,0a1.45,1.45 0 1,0 -2.90,0M508.01,26.74a1.45,1.45 0 1,0 2.90,0a1.45,1.45 0 1,0 -2.90,0M510.47,24.28a1.45,1.45 0 1,0 2.90,0a1.45,1.45 0 1,0 -2.90,0M512.93,21.82a1.45,1.45 0 1,0 2.90,0a1.45,1.45 0 1,0 -2.90,0M515.39,19.36a1.45,1.45 0 1,0 2.90,0a1.45,1.45 0 1,0 -2.90,0M517.85,16.90a1.45,1.45 0 1,0 2.90,0a1.45,1.45 0 1,0 -2.90,0M520.31,14.44a1.45,1.45 0 1,0 2.90,0a1.45,1.45 0 1,0 -2.90,0M522.77,11.98a1.45,1.45 0 1,0 2.90,0a1.45,1.45 0 1,0 -2.90,0M431.75,107.92a1.45,1.45 0 1,0 2.90,0a1.45,1.45 0 1,0 -2.90,0M434.21,105.46a1.45,1.45 0 1,0 2.90,0a1.45,1.45 0 1,0 -2.90,0M436.67,103.00a1.45,1.45 0 1,0 2.90,0a1.45,1.45 0 1,0 -2.90,0M439.13,100.54a1.45,1.45 0 1,0 2.90,0a1.45,1.45 0 1,0 -2.90,0M441.59,98.08a1.45,1.45 0 1,0 2.90,0a1.45,1.45 0 1,0 -2.90,0M444.05,95.62a1.45,1.45 0 1,0 2.90,0a1.45,1.45 0 1,0 -2.90,0M446.51,93.16a1.45,1.45 0 1,0 2.90,0a1.45,1.45 0 1,0 -2.90,0M448.97,90.70a1.45,1.45 0 1,0 2.90,0a1.45,1.45 0 1,0 -2.90,0M451.43,88.24a1.45,1.45 0 1,0 2.90,0a1.45,1.45 0 1,0 -2.90,0M453.89,85.78a1.45,1.45 0 1,0 2.90,0a1.45,1.45 0 1,0 -2.90,0M456.35,83.32a1.45,1.45 0 1,0 2.90,0a1.45,1.45 0 1,0 -2.90,0M458.81,80.86a1.45,1.45 0 1,0 2.90,0a1.45,1.45 0 1,0 -2.90,0M461.27,78.40a1.45,1.45 0 1,0 2.90,0a1.45,1.45 0 1,0 -2.90,0M463.73,75.94a1.45,1.45 0 1,0 2.90,0a1.45,1.45 0 1,0 -2.90,0M466.19,73.48a1.45,1.45 0 1,0 2.90,0a1.45,1.45 0 1,0 -2.90,0M468.65,71.02a1.45,1.45 0 1,0 2.90,0a1.45,1.45 0 1,0 -2.90,0M471.11,68.56a1.45,1.45 0 1,0 2.90,0a1.45,1.45 0 1,0 -2.90,0M473.57,66.10a1.45,1.45 0 1,0 2.90,0a1.45,1.45 0 1,0 -2.90,0M476.03,63.64a1.45,1.45 0 1,0 2.90,0a1.45,1.45 0 1,0 -2.90,0M478.49,61.18a1.45,1.45 0 1,0 2.90,0a1.45,1.45 0 1,0 -2.90,0M480.95,58.72a1.45,1.45 0 1,0 2.90,0a1.45,1.45 0 1,0 -2.90,0M483.41,56.26a1.45,1.45 0 1,0 2.90,0a1.45,1.45 0 1,0 -2.90,0M485.87,53.80a1.45,1.45 0 1,0 2.90,0a1.45,1.45 0 1,0 -2.90,0M488.33,51.34a1.45,1.45 0 1,0 2.90,0a1.45,1.45 0 1,0 -2.90,0M490.79,48.88a1.45,1.45 0 1,0 2.90,0a1.45,1.45 0 1,0 -2.90,0M493.25,46.42a1.45,1.45 0 1,0 2.90,0a1.45,1.45 0 1,0 -2.90,0M495.71,43.96a1.45,1.45 0 1,0 2.90,0a1.45,1.45 0 1,0 -2.90,0M498.17,41.50a1.45,1.45 0 1,0 2.90,0a1.45,1.45 0 1,0 -2.90,0M500.63,39.04a1.45,1.45 0 1,0 2.90,0a1.45,1.45 0 1,0 -2.90,0M503.09,36.58a1.45,1.45 0 1,0 2.90,0a1.45,1.45 0 1,0 -2.90,0M505.55,34.12a1.45,1.45 0 1,0 2.90,0a1.45,1.45 0 1,0 -2.90,0M508.01,31.66a1.45,1.45 0 1,0 2.90,0a1.45,1.45 0 1,0 -2.90,0M510.47,29.20a1.45,1.45 0 1,0 2.90,0a1.45,1.45 0 1,0 -2.90,0M512.93,26.74a1.45,1.45 0 1,0 2.90,0a1.45,1.45 0 1,0 -2.90,0M515.39,24.28a1.45,1.45 0 1,0 2.90,0a1.45,1.45 0 1,0 -2.90,0M517.85,21.82a1.45,1.45 0 1,0 2.90,0a1.45,1.45 0 1,0 -2.90,0M520.31,19.36a1.45,1.45 0 1,0 2.90,0a1.45,1.45 0 1,0 -2.90,0M522.77,16.90a1.45,1.45 0 1,0 2.90,0a1.45,1.45 0 1,0 -2.90,0M525.23,14.44a1.45,1.45 0 1,0 2.90,0a1.45,1.45 0 1,0 -2.90,0M527.69,11.98a1.45,1.45 0 1,0 2.90,0a1.45,1.45 0 1,0 -2.90,0M431.75,112.84a1.45,1.45 0 1,0 2.90,0a1.45,1.45 0 1,0 -2.90,0M434.21,110.38a1.45,1.45 0 1,0 2.90,0a1.45,1.45 0 1,0 -2.90,0M436.67,107.92a1.45,1.45 0 1,0 2.90,0a1.45,1.45 0 1,0 -2.90,0M439.13,105.46a1.45,1.45 0 1,0 2.90,0a1.45,1.45 0 1,0 -2.90,0M441.59,103.00a1.45,1.45 0 1,0 2.90,0a1.45,1.45 0 1,0 -2.90,0M444.05,100.54a1.45,1.45 0 1,0 2.90,0a1.45,1.45 0 1,0 -2.90,0M446.51,98.08a1.45,1.45 0 1,0 2.90,0a1.45,1.45 0 1,0 -2.90,0M448.97,95.62a1.45,1.45 0 1,0 2.90,0a1.45,1.45 0 1,0 -2.90,0M451.43,93.16a1.45,1.45 0 1,0 2.90,0a1.45,1.45 0 1,0 -2.90,0M453.89,90.70a1.45,1.45 0 1,0 2.90,0a1.45,1.45 0 1,0 -2.90,0M456.35,88.24a1.45,1.45 0 1,0 2.90,0a1.45,1.45 0 1,0 -2.90,0M458.81,85.78a1.45,1.45 0 1,0 2.90,0a1.45,1.45 0 1,0 -2.90,0M461.27,83.32a1.45,1.45 0 1,0 2.90,0a1.45,1.45 0 1,0 -2.90,0M463.73,80.86a1.45,1.45 0 1,0 2.90,0a1.45,1.45 0 1,0 -2.90,0M466.19,78.40a1.45,1.45 0 1,0 2.90,0a1.45,1.45 0 1,0 -2.90,0M468.65,75.94a1.45,1.45 0 1,0 2.90,0a1.45,1.45 0 1,0 -2.90,0M471.11,73.48a1.45,1.45 0 1,0 2.90,0a1.45,1.45 0 1,0 -2.90,0M473.57,71.02a1.45,1.45 0 1,0 2.90,0a1.45,1.45 0 1,0 -2.90,0M476.03,68.56a1.45,1.45 0 1,0 2.90,0a1.45,1.45 0 1,0 -2.90,0M478.49,66.10a1.45,1.45 0 1,0 2.90,0a1.45,1.45 0 1,0 -2.90,0M480.95,63.64a1.45,1.45 0 1,0 2.90,0a1.45,1.45 0 1,0 -2.90,0M483.41,61.18a1.45,1.45 0 1,0 2.90,0a1.45,1.45 0 1,0 -2.90,0M485.87,58.72a1.45,1.45 0 1,0 2.90,0a1.45,1.45 0 1,0 -2.90,0M488.33,56.26a1.45,1.45 0 1,0 2.90,0a1.45,1.45 0 1,0 -2.90,0M490.79,53.80a1.45,1.45 0 1,0 2.90,0a1.45,1.45 0 1,0 -2.90,0M493.25,51.34a1.45,1.45 0 1,0 2.90,0a1.45,1.45 0 1,0 -2.90,0M495.71,48.88a1.45,1.45 0 1,0 2.90,0a1.45,1.45 0 1,0 -2.90,0M498.17,46.42a1.45,1.45 0 1,0 2.90,0a1.45,1.45 0 1,0 -2.90,0M500.63,43.96a1.45,1.45 0 1,0 2.90,0a1.45,1.45 0 1,0 -2.90,0M503.09,41.50a1.45,1.45 0 1,0 2.90,0a1.45,1.45 0 1,0 -2.90,0M505.55,39.04a1.45,1.45 0 1,0 2.90,0a1.45,1.45 0 1,0 -2.90,0M508.01,36.58a1.45,1.45 0 1,0 2.90,0a1.45,1.45 0 1,0 -2.90,0M510.47,34.12a1.45,1.45 0 1,0 2.90,0a1.45,1.45 0 1,0 -2.90,0M512.93,31.66a1.45,1.45 0 1,0 2.90,0a1.45,1.45 0 1,0 -2.90,0M515.39,29.20a1.45,1.45 0 1,0 2.90,0a1.45,1.45 0 1,0 -2.90,0M517.85,26.74a1.45,1.45 0 1,0 2.90,0a1.45,1.45 0 1,0 -2.90,0M520.31,24.28a1.45,1.45 0 1,0 2.90,0a1.45,1.45 0 1,0 -2.90,0M522.77,21.82a1.45,1.45 0 1,0 2.90,0a1.45,1.45 0 1,0 -2.90,0M525.23,19.36a1.45,1.45 0 1,0 2.90,0a1.45,1.45 0 1,0 -2.90,0M527.69,16.90a1.45,1.45 0 1,0 2.90,0a1.45,1.45 0 1,0 -2.90,0M530.15,14.44a1.45,1.45 0 1,0 2.90,0a1.45,1.45 0 1,0 -2.90,0M532.61,11.98a1.45,1.45 0 1,0 2.90,0a1.45,1.45 0 1,0 -2.90,0M431.75,117.76a1.45,1.45 0 1,0 2.90,0a1.45,1.45 0 1,0 -2.90,0M434.21,115.30a1.45,1.45 0 1,0 2.90,0a1.45,1.45 0 1,0 -2.90,0M436.67,112.84a1.45,1.45 0 1,0 2.90,0a1.45,1.45 0 1,0 -2.90,0M439.13,110.38a1.45,1.45 0 1,0 2.90,0a1.45,1.45 0 1,0 -2.90,0M441.59,107.92a1.45,1.45 0 1,0 2.90,0a1.45,1.45 0 1,0 -2.90,0M444.05,105.46a1.45,1.45 0 1,0 2.90,0a1.45,1.45 0 1,0 -2.90,0M446.51,103.00a1.45,1.45 0 1,0 2.90,0a1.45,1.45 0 1,0 -2.90,0M448.97,100.54a1.45,1.45 0 1,0 2.90,0a1.45,1.45 0 1,0 -2.90,0M451.43,98.08a1.45,1.45 0 1,0 2.90,0a1.45,1.45 0 1,0 -2.90,0M453.89,95.62a1.45,1.45 0 1,0 2.90,0a1.45,1.45 0 1,0 -2.90,0M456.35,93.16a1.45,1.45 0 1,0 2.90,0a1.45,1.45 0 1,0 -2.90,0M458.81,90.70a1.45,1.45 0 1,0 2.90,0a1.45,1.45 0 1,0 -2.90,0M461.27,88.24a1.45,1.45 0 1,0 2.90,0a1.45,1.45 0 1,0 -2.90,0M463.73,85.78a1.45,1.45 0 1,0 2.90,0a1.45,1.45 0 1,0 -2.90,0M466.19,83.32a1.45,1.45 0 1,0 2.90,0a1.45,1.45 0 1,0 -2.90,0M468.65,80.86a1.45,1.45 0 1,0 2.90,0a1.45,1.45 0 1,0 -2.90,0M471.11,78.40a1.45,1.45 0 1,0 2.90,0a1.45,1.45 0 1,0 -2.90,0M473.57,75.94a1.45,1.45 0 1,0 2.90,0a1.45,1.45 0 1,0 -2.90,0M476.03,73.48a1.45,1.45 0 1,0 2.90,0a1.45,1.45 0 1,0 -2.90,0M478.49,71.02a1.45,1.45 0 1,0 2.90,0a1.45,1.45 0 1,0 -2.90,0M480.95,68.56a1.45,1.45 0 1,0 2.90,0a1.45,1.45 0 1,0 -2.90,0M483.41,66.10a1.45,1.45 0 1,0 2.90,0a1.45,1.45 0 1,0 -2.90,0M485.87,63.64a1.45,1.45 0 1,0 2.90,0a1.45,1.45 0 1,0 -2.90,0M488.33,61.18a1.45,1.45 0 1,0 2.90,0a1.45,1.45 0 1,0 -2.90,0M490.79,58.72a1.45,1.45 0 1,0 2.90,0a1.45,1.45 0 1,0 -2.90,0M493.25,56.26a1.45,1.45 0 1,0 2.90,0a1.45,1.45 0 1,0 -2.90,0M495.71,53.80a1.45,1.45 0 1,0 2.90,0a1.45,1.45 0 1,0 -2.90,0M498.17,51.34a1.45,1.45 0 1,0 2.90,0a1.45,1.45 0 1,0 -2.90,0M500.63,48.88a1.45,1.45 0 1,0 2.90,0a1.45,1.45 0 1,0 -2.90,0M503.09,46.42a1.45,1.45 0 1,0 2.90,0a1.45,1.45 0 1,0 -2.90,0M505.55,43.96a1.45,1.45 0 1,0 2.90,0a1.45,1.45 0 1,0 -2.90,0M508.01,41.50a1.45,1.45 0 1,0 2.90,0a1.45,1.45 0 1,0 -2.90,0M510.47,39.04a1.45,1.45 0 1,0 2.90,0a1.45,1.45 0 1,0 -2.90,0M512.93,36.58a1.45,1.45 0 1,0 2.90,0a1.45,1.45 0 1,0 -2.90,0M515.39,34.12a1.45,1.45 0 1,0 2.90,0a1.45,1.45 0 1,0 -2.90,0M517.85,31.66a1.45,1.45 0 1,0 2.90,0a1.45,1.45 0 1,0 -2.90,0M520.31,29.20a1.45,1.45 0 1,0 2.90,0a1.45,1.45 0 1,0 -2.90,0M522.77,26.74a1.45,1.45 0 1,0 2.90,0a1.45,1.45 0 1,0 -2.90,0M525.23,24.28a1.45,1.45 0 1,0 2.90,0a1.45,1.45 0 1,0 -2.90,0M527.69,21.82a1.45,1.45 0 1,0 2.90,0a1.45,1.45 0 1,0 -2.90,0M530.15,19.36a1.45,1.45 0 1,0 2.90,0a1.45,1.45 0 1,0 -2.90,0M532.61,16.90a1.45,1.45 0 1,0 2.90,0a1.45,1.45 0 1,0 -2.90,0M431.75,122.68a1.45,1.45 0 1,0 2.90,0a1.45,1.45 0 1,0 -2.90,0M434.21,120.22a1.45,1.45 0 1,0 2.90,0a1.45,1.45 0 1,0 -2.90,0M436.67,117.76a1.45,1.45 0 1,0 2.90,0a1.45,1.45 0 1,0 -2.90,0M439.13,115.30a1.45,1.45 0 1,0 2.90,0a1.45,1.45 0 1,0 -2.90,0M441.59,112.84a1.45,1.45 0 1,0 2.90,0a1.45,1.45 0 1,0 -2.90,0M444.05,110.38a1.45,1.45 0 1,0 2.90,0a1.45,1.45 0 1,0 -2.90,0M446.51,107.92a1.45,1.45 0 1,0 2.90,0a1.45,1.45 0 1,0 -2.90,0M448.97,105.46a1.45,1.45 0 1,0 2.90,0a1.45,1.45 0 1,0 -2.90,0M451.43,103.00a1.45,1.45 0 1,0 2.90,0a1.45,1.45 0 1,0 -2.90,0M453.89,100.54a1.45,1.45 0 1,0 2.90,0a1.45,1.45 0 1,0 -2.90,0M456.35,98.08a1.45,1.45 0 1,0 2.90,0a1.45,1.45 0 1,0 -2.90,0M458.81,95.62a1.45,1.45 0 1,0 2.90,0a1.45,1.45 0 1,0 -2.90,0M461.27,93.16a1.45,1.45 0 1,0 2.90,0a1.45,1.45 0 1,0 -2.90,0M463.73,90.70a1.45,1.45 0 1,0 2.90,0a1.45,1.45 0 1,0 -2.90,0M466.19,88.24a1.45,1.45 0 1,0 2.90,0a1.45,1.45 0 1,0 -2.90,0M468.65,85.78a1.45,1.45 0 1,0 2.90,0a1.45,1.45 0 1,0 -2.90,0M471.11,83.32a1.45,1.45 0 1,0 2.90,0a1.45,1.45 0 1,0 -2.90,0M473.57,80.86a1.45,1.45 0 1,0 2.90,0a1.45,1.45 0 1,0 -2.90,0M476.03,78.40a1.45,1.45 0 1,0 2.90,0a1.45,1.45 0 1,0 -2.90,0M478.49,75.94a1.45,1.45 0 1,0 2.90,0a1.45,1.45 0 1,0 -2.90,0M480.95,73.48a1.45,1.45 0 1,0 2.90,0a1.45,1.45 0 1,0 -2.90,0M483.41,71.02a1.45,1.45 0 1,0 2.90,0a1.45,1.45 0 1,0 -2.90,0M485.87,68.56a1.45,1.45 0 1,0 2.90,0a1.45,1.45 0 1,0 -2.90,0M488.33,66.10a1.45,1.45 0 1,0 2.90,0a1.45,1.45 0 1,0 -2.90,0M490.79,63.64a1.45,1.45 0 1,0 2.90,0a1.45,1.45 0 1,0 -2.90,0M493.25,61.18a1.45,1.45 0 1,0 2.90,0a1.45,1.45 0 1,0 -2.90,0M495.71,58.72a1.45,1.45 0 1,0 2.90,0a1.45,1.45 0 1,0 -2.90,0M498.17,56.26a1.45,1.45 0 1,0 2.90,0a1.45,1.45 0 1,0 -2.90,0M500.63,53.80a1.45,1.45 0 1,0 2.90,0a1.45,1.45 0 1,0 -2.90,0M503.09,51.34a1.45,1.45 0 1,0 2.90,0a1.45,1.45 0 1,0 -2.90,0M505.55,48.88a1.45,1.45 0 1,0 2.90,0a1.45,1.45 0 1,0 -2.90,0M508.01,46.42a1.45,1.45 0 1,0 2.90,0a1.45,1.45 0 1,0 -2.90,0M510.47,43.96a1.45,1.45 0 1,0 2.90,0a1.45,1.45 0 1,0 -2.90,0M512.93,41.50a1.45,1.45 0 1,0 2.90,0a1.45,1.45 0 1,0 -2.90,0M515.39,39.04a1.45,1.45 0 1,0 2.90,0a1.45,1.45 0 1,0 -2.90,0M517.85,36.58a1.45,1.45 0 1,0 2.90,0a1.45,1.45 0 1,0 -2.90,0M520.31,34.12a1.45,1.45 0 1,0 2.90,0a1.45,1.45 0 1,0 -2.90,0M522.77,31.66a1.45,1.45 0 1,0 2.90,0a1.45,1.45 0 1,0 -2.90,0M525.23,29.20a1.45,1.45 0 1,0 2.90,0a1.45,1.45 0 1,0 -2.90,0M527.69,26.74a1.45,1.45 0 1,0 2.90,0a1.45,1.45 0 1,0 -2.90,0M530.15,24.28a1.45,1.45 0 1,0 2.90,0a1.45,1.45 0 1,0 -2.90,0M532.61,21.82a1.45,1.45 0 1,0 2.90,0a1.45,1.45 0 1,0 -2.90,0M431.75,127.60a1.45,1.45 0 1,0 2.90,0a1.45,1.45 0 1,0 -2.90,0M434.21,125.14a1.45,1.45 0 1,0 2.90,0a1.45,1.45 0 1,0 -2.90,0M436.67,122.68a1.45,1.45 0 1,0 2.90,0a1.45,1.45 0 1,0 -2.90,0M439.13,120.22a1.45,1.45 0 1,0 2.90,0a1.45,1.45 0 1,0 -2.90,0M441.59,117.76a1.45,1.45 0 1,0 2.90,0a1.45,1.45 0 1,0 -2.90,0M444.05,115.30a1.45,1.45 0 1,0 2.90,0a1.45,1.45 0 1,0 -2.90,0M446.51,112.84a1.45,1.45 0 1,0 2.90,0a1.45,1.45 0 1,0 -2.90,0M448.97,110.38a1.45,1.45 0 1,0 2.90,0a1.45,1.45 0 1,0 -2.90,0M451.43,107.92a1.45,1.45 0 1,0 2.90,0a1.45,1.45 0 1,0 -2.90,0M453.89,105.46a1.45,1.45 0 1,0 2.90,0a1.45,1.45 0 1,0 -2.90,0M456.35,103.00a1.45,1.45 0 1,0 2.90,0a1.45,1.45 0 1,0 -2.90,0M458.81,100.54a1.45,1.45 0 1,0 2.90,0a1.45,1.45 0 1,0 -2.90,0M461.27,98.08a1.45,1.45 0 1,0 2.90,0a1.45,1.45 0 1,0 -2.90,0M463.73,95.62a1.45,1.45 0 1,0 2.90,0a1.45,1.45 0 1,0 -2.90,0M466.19,93.16a1.45,1.45 0 1,0 2.90,0a1.45,1.45 0 1,0 -2.90,0M468.65,90.70a1.45,1.45 0 1,0 2.90,0a1.45,1.45 0 1,0 -2.90,0M471.11,88.24a1.45,1.45 0 1,0 2.90,0a1.45,1.45 0 1,0 -2.90,0M473.57,85.78a1.45,1.45 0 1,0 2.90,0a1.45,1.45 0 1,0 -2.90,0M476.03,83.32a1.45,1.45 0 1,0 2.90,0a1.45,1.45 0 1,0 -2.90,0M478.49,80.86a1.45,1.45 0 1,0 2.90,0a1.45,1.45 0 1,0 -2.90,0M480.95,78.40a1.45,1.45 0 1,0 2.90,0a1.45,1.45 0 1,0 -2.90,0M483.41,75.94a1.45,1.45 0 1,0 2.90,0a1.45,1.45 0 1,0 -2.90,0M485.87,73.48a1.45,1.45 0 1,0 2.90,0a1.45,1.45 0 1,0 -2.90,0M488.33,71.02a1.45,1.45 0 1,0 2.90,0a1.45,1.45 0 1,0 -2.90,0M490.79,68.56a1.45,1.45 0 1,0 2.90,0a1.45,1.45 0 1,0 -2.90,0M493.25,66.10a1.45,1.45 0 1,0 2.90,0a1.45,1.45 0 1,0 -2.90,0M495.71,63.64a1.45,1.45 0 1,0 2.90,0a1.45,1.45 0 1,0 -2.90,0M498.17,61.18a1.45,1.45 0 1,0 2.90,0a1.45,1.45 0 1,0 -2.90,0M500.63,58.72a1.45,1.45 0 1,0 2.90,0a1.45,1.45 0 1,0 -2.90,0M503.09,56.26a1.45,1.45 0 1,0 2.90,0a1.45,1.45 0 1,0 -2.90,0M505.55,53.80a1.45,1.45 0 1,0 2.90,0a1.45,1.45 0 1,0 -2.90,0M508.01,51.34a1.45,1.45 0 1,0 2.90,0a1.45,1.45 0 1,0 -2.90,0M510.47,48.88a1.45,1.45 0 1,0 2.90,0a1.45,1.45 0 1,0 -2.90,0M512.93,46.42a1.45,1.45 0 1,0 2.90,0a1.45,1.45 0 1,0 -2.90,0M515.39,43.96a1.45,1.45 0 1,0 2.90,0a1.45,1.45 0 1,0 -2.90,0M517.85,41.50a1.45,1.45 0 1,0 2.90,0a1.45,1.45 0 1,0 -2.90,0M520.31,39.04a1.45,1.45 0 1,0 2.90,0a1.45,1.45 0 1,0 -2.90,0M522.77,36.58a1.45,1.45 0 1,0 2.90,0a1.45,1.45 0 1,0 -2.90,0M525.23,34.12a1.45,1.45 0 1,0 2.90,0a1.45,1.45 0 1,0 -2.90,0M527.69,31.66a1.45,1.45 0 1,0 2.90,0a1.45,1.45 0 1,0 -2.90,0M530.15,29.20a1.45,1.45 0 1,0 2.90,0a1.45,1.45 0 1,0 -2.90,0M532.61,26.74a1.45,1.45 0 1,0 2.90,0a1.45,1.45 0 1,0 -2.90,0M431.75,132.52a1.45,1.45 0 1,0 2.90,0a1.45,1.45 0 1,0 -2.90,0M434.21,130.06a1.45,1.45 0 1,0 2.90,0a1.45,1.45 0 1,0 -2.90,0M436.67,127.60a1.45,1.45 0 1,0 2.90,0a1.45,1.45 0 1,0 -2.90,0M439.13,125.14a1.45,1.45 0 1,0 2.90,0a1.45,1.45 0 1,0 -2.90,0M441.59,122.68a1.45,1.45 0 1,0 2.90,0a1.45,1.45 0 1,0 -2.90,0M444.05,120.22a1.45,1.45 0 1,0 2.90,0a1.45,1.45 0 1,0 -2.90,0M446.51,117.76a1.45,1.45 0 1,0 2.90,0a1.45,1.45 0 1,0 -2.90,0M448.97,115.30a1.45,1.45 0 1,0 2.90,0a1.45,1.45 0 1,0 -2.90,0M451.43,112.84a1.45,1.45 0 1,0 2.90,0a1.45,1.45 0 1,0 -2.90,0M453.89,110.38a1.45,1.45 0 1,0 2.90,0a1.45,1.45 0 1,0 -2.90,0M456.35,107.92a1.45,1.45 0 1,0 2.90,0a1.45,1.45 0 1,0 -2.90,0M458.81,105.46a1.45,1.45 0 1,0 2.90,0a1.45,1.45 0 1,0 -2.90,0M461.27,103.00a1.45,1.45 0 1,0 2.90,0a1.45,1.45 0 1,0 -2.90,0M463.73,100.54a1.45,1.45 0 1,0 2.90,0a1.45,1.45 0 1,0 -2.90,0M466.19,98.08a1.45,1.45 0 1,0 2.90,0a1.45,1.45 0 1,0 -2.90,0M468.65,95.62a1.45,1.45 0 1,0 2.90,0a1.45,1.45 0 1,0 -2.90,0M471.11,93.16a1.45,1.45 0 1,0 2.90,0a1.45,1.45 0 1,0 -2.90,0M473.57,90.70a1.45,1.45 0 1,0 2.90,0a1.45,1.45 0 1,0 -2.90,0M476.03,88.24a1.45,1.45 0 1,0 2.90,0a1.45,1.45 0 1,0 -2.90,0M478.49,85.78a1.45,1.45 0 1,0 2.90,0a1.45,1.45 0 1,0 -2.90,0M480.95,83.32a1.45,1.45 0 1,0 2.90,0a1.45,1.45 0 1,0 -2.90,0M483.41,80.86a1.45,1.45 0 1,0 2.90,0a1.45,1.45 0 1,0 -2.90,0M485.87,78.40a1.45,1.45 0 1,0 2.90,0a1.45,1.45 0 1,0 -2.90,0M488.33,75.94a1.45,1.45 0 1,0 2.90,0a1.45,1.45 0 1,0 -2.90,0M490.79,73.48a1.45,1.45 0 1,0 2.90,0a1.45,1.45 0 1,0 -2.90,0M493.25,71.02a1.45,1.45 0 1,0 2.90,0a1.45,1.45 0 1,0 -2.90,0M495.71,68.56a1.45,1.45 0 1,0 2.90,0a1.45,1.45 0 1,0 -2.90,0M498.17,66.10a1.45,1.45 0 1,0 2.90,0a1.45,1.45 0 1,0 -2.90,0M500.63,63.64a1.45,1.45 0 1,0 2.90,0a1.45,1.45 0 1,0 -2.90,0M503.09,61.18a1.45,1.45 0 1,0 2.90,0a1.45,1.45 0 1,0 -2.90,0M505.55,58.72a1.45,1.45 0 1,0 2.90,0a1.45,1.45 0 1,0 -2.90,0M508.01,56.26a1.45,1.45 0 1,0 2.90,0a1.45,1.45 0 1,0 -2.90,0M510.47,53.80a1.45,1.45 0 1,0 2.90,0a1.45,1.45 0 1,0 -2.90,0M512.93,51.34a1.45,1.45 0 1,0 2.90,0a1.45,1.45 0 1,0 -2.90,0M515.39,48.88a1.45,1.45 0 1,0 2.90,0a1.45,1.45 0 1,0 -2.90,0M517.85,46.42a1.45,1.45 0 1,0 2.90,0a1.45,1.45 0 1,0 -2.90,0M520.31,43.96a1.45,1.45 0 1,0 2.90,0a1.45,1.45 0 1,0 -2.90,0M522.77,41.50a1.45,1.45 0 1,0 2.90,0a1.45,1.45 0 1,0 -2.90,0M525.23,39.04a1.45,1.45 0 1,0 2.90,0a1.45,1.45 0 1,0 -2.90,0M527.69,36.58a1.45,1.45 0 1,0 2.90,0a1.45,1.45 0 1,0 -2.90,0M530.15,34.12a1.45,1.45 0 1,0 2.90,0a1.45,1.45 0 1,0 -2.90,0M532.61,31.66a1.45,1.45 0 1,0 2.90,0a1.45,1.45 0 1,0 -2.90,0M431.75,137.44a1.45,1.45 0 1,0 2.90,0a1.45,1.45 0 1,0 -2.90,0M434.21,134.98a1.45,1.45 0 1,0 2.90,0a1.45,1.45 0 1,0 -2.90,0M436.67,132.52a1.45,1.45 0 1,0 2.90,0a1.45,1.45 0 1,0 -2.90,0M439.13,130.06a1.45,1.45 0 1,0 2.90,0a1.45,1.45 0 1,0 -2.90,0M441.59,127.60a1.45,1.45 0 1,0 2.90,0a1.45,1.45 0 1,0 -2.90,0M444.05,125.14a1.45,1.45 0 1,0 2.90,0a1.45,1.45 0 1,0 -2.90,0M446.51,122.68a1.45,1.45 0 1,0 2.90,0a1.45,1.45 0 1,0 -2.90,0M448.97,120.22a1.45,1.45 0 1,0 2.90,0a1.45,1.45 0 1,0 -2.90,0M451.43,117.76a1.45,1.45 0 1,0 2.90,0a1.45,1.45 0 1,0 -2.90,0M453.89,115.30a1.45,1.45 0 1,0 2.90,0a1.45,1.45 0 1,0 -2.90,0M456.35,112.84a1.45,1.45 0 1,0 2.90,0a1.45,1.45 0 1,0 -2.90,0M458.81,110.38a1.45,1.45 0 1,0 2.90,0a1.45,1.45 0 1,0 -2.90,0M461.27,107.92a1.45,1.45 0 1,0 2.90,0a1.45,1.45 0 1,0 -2.90,0M463.73,105.46a1.45,1.45 0 1,0 2.90,0a1.45,1.45 0 1,0 -2.90,0M466.19,103.00a1.45,1.45 0 1,0 2.90,0a1.45,1.45 0 1,0 -2.90,0M468.65,100.54a1.45,1.45 0 1,0 2.90,0a1.45,1.45 0 1,0 -2.90,0M471.11,98.08a1.45,1.45 0 1,0 2.90,0a1.45,1.45 0 1,0 -2.90,0M473.57,95.62a1.45,1.45 0 1,0 2.90,0a1.45,1.45 0 1,0 -2.90,0M476.03,93.16a1.45,1.45 0 1,0 2.90,0a1.45,1.45 0 1,0 -2.90,0M478.49,90.70a1.45,1.45 0 1,0 2.90,0a1.45,1.45 0 1,0 -2.90,0M480.95,88.24a1.45,1.45 0 1,0 2.90,0a1.45,1.45 0 1,0 -2.90,0M483.41,85.78a1.45,1.45 0 1,0 2.90,0a1.45,1.45 0 1,0 -2.90,0M485.87,83.32a1.45,1.45 0 1,0 2.90,0a1.45,1.45 0 1,0 -2.90,0M488.33,80.86a1.45,1.45 0 1,0 2.90,0a1.45,1.45 0 1,0 -2.90,0M490.79,78.40a1.45,1.45 0 1,0 2.90,0a1.45,1.45 0 1,0 -2.90,0M493.25,75.94a1.45,1.45 0 1,0 2.90,0a1.45,1.45 0 1,0 -2.90,0M495.71,73.48a1.45,1.45 0 1,0 2.90,0a1.45,1.45 0 1,0 -2.90,0M498.17,71.02a1.45,1.45 0 1,0 2.90,0a1.45,1.45 0 1,0 -2.90,0M500.63,68.56a1.45,1.45 0 1,0 2.90,0a1.45,1.45 0 1,0 -2.90,0M503.09,66.10a1.45,1.45 0 1,0 2.90,0a1.45,1.45 0 1,0 -2.90,0M505.55,63.64a1.45,1.45 0 1,0 2.90,0a1.45,1.45 0 1,0 -2.90,0M508.01,61.18a1.45,1.45 0 1,0 2.90,0a1.45,1.45 0 1,0 -2.90,0M510.47,58.72a1.45,1.45 0 1,0 2.90,0a1.45,1.45 0 1,0 -2.90,0M512.93,56.26a1.45,1.45 0 1,0 2.90,0a1.45,1.45 0 1,0 -2.90,0M515.39,53.80a1.45,1.45 0 1,0 2.90,0a1.45,1.45 0 1,0 -2.90,0M517.85,51.34a1.45,1.45 0 1,0 2.90,0a1.45,1.45 0 1,0 -2.90,0M520.31,48.88a1.45,1.45 0 1,0 2.90,0a1.45,1.45 0 1,0 -2.90,0M522.77,46.42a1.45,1.45 0 1,0 2.90,0a1.45,1.45 0 1,0 -2.90,0M525.23,43.96a1.45,1.45 0 1,0 2.90,0a1.45,1.45 0 1,0 -2.90,0M527.69,41.50a1.45,1.45 0 1,0 2.90,0a1.45,1.45 0 1,0 -2.90,0M530.15,39.04a1.45,1.45 0 1,0 2.90,0a1.45,1.45 0 1,0 -2.90,0M532.61,36.58a1.45,1.45 0 1,0 2.90,0a1.45,1.45 0 1,0 -2.90,0M431.75,142.36a1.45,1.45 0 1,0 2.90,0a1.45,1.45 0 1,0 -2.90,0M434.21,139.90a1.45,1.45 0 1,0 2.90,0a1.45,1.45 0 1,0 -2.90,0M436.67,137.44a1.45,1.45 0 1,0 2.90,0a1.45,1.45 0 1,0 -2.90,0M439.13,134.98a1.45,1.45 0 1,0 2.90,0a1.45,1.45 0 1,0 -2.90,0M441.59,132.52a1.45,1.45 0 1,0 2.90,0a1.45,1.45 0 1,0 -2.90,0M444.05,130.06a1.45,1.45 0 1,0 2.90,0a1.45,1.45 0 1,0 -2.90,0M446.51,127.60a1.45,1.45 0 1,0 2.90,0a1.45,1.45 0 1,0 -2.90,0M448.97,125.14a1.45,1.45 0 1,0 2.90,0a1.45,1.45 0 1,0 -2.90,0M451.43,122.68a1.45,1.45 0 1,0 2.90,0a1.45,1.45 0 1,0 -2.90,0M453.89,120.22a1.45,1.45 0 1,0 2.90,0a1.45,1.45 0 1,0 -2.90,0M456.35,117.76a1.45,1.45 0 1,0 2.90,0a1.45,1.45 0 1,0 -2.90,0M458.81,115.30a1.45,1.45 0 1,0 2.90,0a1.45,1.45 0 1,0 -2.90,0M461.27,112.84a1.45,1.45 0 1,0 2.90,0a1.45,1.45 0 1,0 -2.90,0M463.73,110.38a1.45,1.45 0 1,0 2.90,0a1.45,1.45 0 1,0 -2.90,0M466.19,107.92a1.45,1.45 0 1,0 2.90,0a1.45,1.45 0 1,0 -2.90,0M468.65,105.46a1.45,1.45 0 1,0 2.90,0a1.45,1.45 0 1,0 -2.90,0M471.11,103.00a1.45,1.45 0 1,0 2.90,0a1.45,1.45 0 1,0 -2.90,0M473.57,100.54a1.45,1.45 0 1,0 2.90,0a1.45,1.45 0 1,0 -2.90,0M476.03,98.08a1.45,1.45 0 1,0 2.90,0a1.45,1.45 0 1,0 -2.90,0M478.49,95.62a1.45,1.45 0 1,0 2.90,0a1.45,1.45 0 1,0 -2.90,0M480.95,93.16a1.45,1.45 0 1,0 2.90,0a1.45,1.45 0 1,0 -2.90,0M483.41,90.70a1.45,1.45 0 1,0 2.90,0a1.45,1.45 0 1,0 -2.90,0M485.87,88.24a1.45,1.45 0 1,0 2.90,0a1.45,1.45 0 1,0 -2.90,0M488.33,85.78a1.45,1.45 0 1,0 2.90,0a1.45,1.45 0 1,0 -2.90,0M490.79,83.32a1.45,1.45 0 1,0 2.90,0a1.45,1.45 0 1,0 -2.90,0M493.25,80.86a1.45,1.45 0 1,0 2.90,0a1.45,1.45 0 1,0 -2.90,0M495.71,78.40a1.45,1.45 0 1,0 2.90,0a1.45,1.45 0 1,0 -2.90,0M498.17,75.94a1.45,1.45 0 1,0 2.90,0a1.45,1.45 0 1,0 -2.90,0M500.63,73.48a1.45,1.45 0 1,0 2.90,0a1.45,1.45 0 1,0 -2.90,0M503.09,71.02a1.45,1.45 0 1,0 2.90,0a1.45,1.45 0 1,0 -2.90,0M505.55,68.56a1.45,1.45 0 1,0 2.90,0a1.45,1.45 0 1,0 -2.90,0M508.01,66.10a1.45,1.45 0 1,0 2.90,0a1.45,1.45 0 1,0 -2.90,0M510.47,63.64a1.45,1.45 0 1,0 2.90,0a1.45,1.45 0 1,0 -2.90,0M512.93,61.18a1.45,1.45 0 1,0 2.90,0a1.45,1.45 0 1,0 -2.90,0M515.39,58.72a1.45,1.45 0 1,0 2.90,0a1.45,1.45 0 1,0 -2.90,0M517.85,56.26a1.45,1.45 0 1,0 2.90,0a1.45,1.45 0 1,0 -2.90,0M520.31,53.80a1.45,1.45 0 1,0 2.90,0a1.45,1.45 0 1,0 -2.90,0M522.77,51.34a1.45,1.45 0 1,0 2.90,0a1.45,1.45 0 1,0 -2.90,0M525.23,48.88a1.45,1.45 0 1,0 2.90,0a1.45,1.45 0 1,0 -2.90,0M527.69,46.42a1.45,1.45 0 1,0 2.90,0a1.45,1.45 0 1,0 -2.90,0M530.15,43.96a1.45,1.45 0 1,0 2.90,0a1.45,1.45 0 1,0 -2.90,0M532.61,41.50a1.45,1.45 0 1,0 2.90,0a1.45,1.45 0 1,0 -2.90,0M431.75,147.28a1.45,1.45 0 1,0 2.90,0a1.45,1.45 0 1,0 -2.90,0M434.21,144.82a1.45,1.45 0 1,0 2.90,0a1.45,1.45 0 1,0 -2.90,0M436.67,142.36a1.45,1.45 0 1,0 2.90,0a1.45,1.45 0 1,0 -2.90,0M439.13,139.90a1.45,1.45 0 1,0 2.90,0a1.45,1.45 0 1,0 -2.90,0M441.59,137.44a1.45,1.45 0 1,0 2.90,0a1.45,1.45 0 1,0 -2.90,0M444.05,134.98a1.45,1.45 0 1,0 2.90,0a1.45,1.45 0 1,0 -2.90,0M446.51,132.52a1.45,1.45 0 1,0 2.90,0a1.45,1.45 0 1,0 -2.90,0M448.97,130.06a1.45,1.45 0 1,0 2.90,0a1.45,1.45 0 1,0 -2.90,0M451.43,127.60a1.45,1.45 0 1,0 2.90,0a1.45,1.45 0 1,0 -2.90,0M453.89,125.14a1.45,1.45 0 1,0 2.90,0a1.45,1.45 0 1,0 -2.90,0M456.35,122.68a1.45,1.45 0 1,0 2.90,0a1.45,1.45 0 1,0 -2.90,0M458.81,120.22a1.45,1.45 0 1,0 2.90,0a1.45,1.45 0 1,0 -2.90,0M461.27,117.76a1.45,1.45 0 1,0 2.90,0a1.45,1.45 0 1,0 -2.90,0M463.73,115.30a1.45,1.45 0 1,0 2.90,0a1.45,1.45 0 1,0 -2.90,0M466.19,112.84a1.45,1.45 0 1,0 2.90,0a1.45,1.45 0 1,0 -2.90,0M468.65,110.38a1.45,1.45 0 1,0 2.90,0a1.45,1.45 0 1,0 -2.90,0M471.11,107.92a1.45,1.45 0 1,0 2.90,0a1.45,1.45 0 1,0 -2.90,0M473.57,105.46a1.45,1.45 0 1,0 2.90,0a1.45,1.45 0 1,0 -2.90,0M476.03,103.00a1.45,1.45 0 1,0 2.90,0a1.45,1.45 0 1,0 -2.90,0M478.49,100.54a1.45,1.45 0 1,0 2.90,0a1.45,1.45 0 1,0 -2.90,0M480.95,98.08a1.45,1.45 0 1,0 2.90,0a1.45,1.45 0 1,0 -2.90,0M483.41,95.62a1.45,1.45 0 1,0 2.90,0a1.45,1.45 0 1,0 -2.90,0M485.87,93.16a1.45,1.45 0 1,0 2.90,0a1.45,1.45 0 1,0 -2.90,0M488.33,90.70a1.45,1.45 0 1,0 2.90,0a1.45,1.45 0 1,0 -2.90,0M490.79,88.24a1.45,1.45 0 1,0 2.90,0a1.45,1.45 0 1,0 -2.90,0M493.25,85.78a1.45,1.45 0 1,0 2.90,0a1.45,1.45 0 1,0 -2.90,0M495.71,83.32a1.45,1.45 0 1,0 2.90,0a1.45,1.45 0 1,0 -2.90,0M498.17,80.86a1.45,1.45 0 1,0 2.90,0a1.45,1.45 0 1,0 -2.90,0M500.63,78.40a1.45,1.45 0 1,0 2.90,0a1.45,1.45 0 1,0 -2.90,0M503.09,75.94a1.45,1.45 0 1,0 2.90,0a1.45,1.45 0 1,0 -2.90,0M505.55,73.48a1.45,1.45 0 1,0 2.90,0a1.45,1.45 0 1,0 -2.90,0M508.01,71.02a1.45,1.45 0 1,0 2.90,0a1.45,1.45 0 1,0 -2.90,0M510.47,68.56a1.45,1.45 0 1,0 2.90,0a1.45,1.45 0 1,0 -2.90,0M512.93,66.10a1.45,1.45 0 1,0 2.90,0a1.45,1.45 0 1,0 -2.90,0M515.39,63.64a1.45,1.45 0 1,0 2.90,0a1.45,1.45 0 1,0 -2.90,0M517.85,61.18a1.45,1.45 0 1,0 2.90,0a1.45,1.45 0 1,0 -2.90,0M520.31,58.72a1.45,1.45 0 1,0 2.90,0a1.45,1.45 0 1,0 -2.90,0M522.77,56.26a1.45,1.45 0 1,0 2.90,0a1.45,1.45 0 1,0 -2.90,0M525.23,53.80a1.45,1.45 0 1,0 2.90,0a1.45,1.45 0 1,0 -2.90,0M527.69,51.34a1.45,1.45 0 1,0 2.90,0a1.45,1.45 0 1,0 -2.90,0M530.15,48.88a1.45,1.45 0 1,0 2.90,0a1.45,1.45 0 1,0 -2.90,0M532.61,46.42a1.45,1.45 0 1,0 2.90,0a1.45,1.45 0 1,0 -2.90,0M431.75,152.20a1.45,1.45 0 1,0 2.90,0a1.45,1.45 0 1,0 -2.90,0M434.21,149.74a1.45,1.45 0 1,0 2.90,0a1.45,1.45 0 1,0 -2.90,0M436.67,147.28a1.45,1.45 0 1,0 2.90,0a1.45,1.45 0 1,0 -2.90,0M439.13,144.82a1.45,1.45 0 1,0 2.90,0a1.45,1.45 0 1,0 -2.90,0M441.59,142.36a1.45,1.45 0 1,0 2.90,0a1.45,1.45 0 1,0 -2.90,0M444.05,139.90a1.45,1.45 0 1,0 2.90,0a1.45,1.45 0 1,0 -2.90,0M446.51,137.44a1.45,1.45 0 1,0 2.90,0a1.45,1.45 0 1,0 -2.90,0M448.97,134.98a1.45,1.45 0 1,0 2.90,0a1.45,1.45 0 1,0 -2.90,0M451.43,132.52a1.45,1.45 0 1,0 2.90,0a1.45,1.45 0 1,0 -2.90,0M453.89,130.06a1.45,1.45 0 1,0 2.90,0a1.45,1.45 0 1,0 -2.90,0M456.35,127.60a1.45,1.45 0 1,0 2.90,0a1.45,1.45 0 1,0 -2.90,0M458.81,125.14a1.45,1.45 0 1,0 2.90,0a1.45,1.45 0 1,0 -2.90,0M461.27,122.68a1.45,1.45 0 1,0 2.90,0a1.45,1.45 0 1,0 -2.90,0M463.73,120.22a1.45,1.45 0 1,0 2.90,0a1.45,1.45 0 1,0 -2.90,0M466.19,117.76a1.45,1.45 0 1,0 2.90,0a1.45,1.45 0 1,0 -2.90,0M468.65,115.30a1.45,1.45 0 1,0 2.90,0a1.45,1.45 0 1,0 -2.90,0M471.11,112.84a1.45,1.45 0 1,0 2.90,0a1.45,1.45 0 1,0 -2.90,0M473.57,110.38a1.45,1.45 0 1,0 2.90,0a1.45,1.45 0 1,0 -2.90,0M476.03,107.92a1.45,1.45 0 1,0 2.90,0a1.45,1.45 0 1,0 -2.90,0M478.49,105.46a1.45,1.45 0 1,0 2.90,0a1.45,1.45 0 1,0 -2.90,0M480.95,103.00a1.45,1.45 0 1,0 2.90,0a1.45,1.45 0 1,0 -2.90,0M483.41,100.54a1.45,1.45 0 1,0 2.90,0a1.45,1.45 0 1,0 -2.90,0M485.87,98.08a1.45,1.45 0 1,0 2.90,0a1.45,1.45 0 1,0 -2.90,0M488.33,95.62a1.45,1.45 0 1,0 2.90,0a1.45,1.45 0 1,0 -2.90,0M490.79,93.16a1.45,1.45 0 1,0 2.90,0a1.45,1.45 0 1,0 -2.90,0M493.25,90.70a1.45,1.45 0 1,0 2.90,0a1.45,1.45 0 1,0 -2.90,0M495.71,88.24a1.45,1.45 0 1,0 2.90,0a1.45,1.45 0 1,0 -2.90,0M498.17,85.78a1.45,1.45 0 1,0 2.90,0a1.45,1.45 0 1,0 -2.90,0M500.63,83.32a1.45,1.45 0 1,0 2.90,0a1.45,1.45 0 1,0 -2.90,0M503.09,80.86a1.45,1.45 0 1,0 2.90,0a1.45,1.45 0 1,0 -2.90,0M505.55,78.40a1.45,1.45 0 1,0 2.90,0a1.45,1.45 0 1,0 -2.90,0M508.01,75.94a1.45,1.45 0 1,0 2.90,0a1.45,1.45 0 1,0 -2.90,0M510.47,73.48a1.45,1.45 0 1,0 2.90,0a1.45,1.45 0 1,0 -2.90,0M512.93,71.02a1.45,1.45 0 1,0 2.90,0a1.45,1.45 0 1,0 -2.90,0M515.39,68.56a1.45,1.45 0 1,0 2.90,0a1.45,1.45 0 1,0 -2.90,0M517.85,66.10a1.45,1.45 0 1,0 2.90,0a1.45,1.45 0 1,0 -2.90,0M520.31,63.64a1.45,1.45 0 1,0 2.90,0a1.45,1.45 0 1,0 -2.90,0M522.77,61.18a1.45,1.45 0 1,0 2.90,0a1.45,1.45 0 1,0 -2.90,0M525.23,58.72a1.45,1.45 0 1,0 2.90,0a1.45,1.45 0 1,0 -2.90,0M527.69,56.26a1.45,1.45 0 1,0 2.90,0a1.45,1.45 0 1,0 -2.90,0M530.15,53.80a1.45,1.45 0 1,0 2.90,0a1.45,1.45 0 1,0 -2.90,0M532.61,51.34a1.45,1.45 0 1,0 2.90,0a1.45,1.45 0 1,0 -2.90,0M431.75,157.12a1.45,1.45 0 1,0 2.90,0a1.45,1.45 0 1,0 -2.90,0M434.21,154.66a1.45,1.45 0 1,0 2.90,0a1.45,1.45 0 1,0 -2.90,0M436.67,152.20a1.45,1.45 0 1,0 2.90,0a1.45,1.45 0 1,0 -2.90,0M439.13,149.74a1.45,1.45 0 1,0 2.90,0a1.45,1.45 0 1,0 -2.90,0M441.59,147.28a1.45,1.45 0 1,0 2.90,0a1.45,1.45 0 1,0 -2.90,0M444.05,144.82a1.45,1.45 0 1,0 2.90,0a1.45,1.45 0 1,0 -2.90,0M446.51,142.36a1.45,1.45 0 1,0 2.90,0a1.45,1.45 0 1,0 -2.90,0M448.97,139.90a1.45,1.45 0 1,0 2.90,0a1.45,1.45 0 1,0 -2.90,0M451.43,137.44a1.45,1.45 0 1,0 2.90,0a1.45,1.45 0 1,0 -2.90,0M453.89,134.98a1.45,1.45 0 1,0 2.90,0a1.45,1.45 0 1,0 -2.90,0M456.35,132.52a1.45,1.45 0 1,0 2.90,0a1.45,1.45 0 1,0 -2.90,0M458.81,130.06a1.45,1.45 0 1,0 2.90,0a1.45,1.45 0 1,0 -2.90,0M461.27,127.60a1.45,1.45 0 1,0 2.90,0a1.45,1.45 0 1,0 -2.90,0M463.73,125.14a1.45,1.45 0 1,0 2.90,0a1.45,1.45 0 1,0 -2.90,0M466.19,122.68a1.45,1.45 0 1,0 2.90,0a1.45,1.45 0 1,0 -2.90,0M468.65,120.22a1.45,1.45 0 1,0 2.90,0a1.45,1.45 0 1,0 -2.90,0M471.11,117.76a1.45,1.45 0 1,0 2.90,0a1.45,1.45 0 1,0 -2.90,0M473.57,115.30a1.45,1.45 0 1,0 2.90,0a1.45,1.45 0 1,0 -2.90,0M476.03,112.84a1.45,1.45 0 1,0 2.90,0a1.45,1.45 0 1,0 -2.90,0M478.49,110.38a1.45,1.45 0 1,0 2.90,0a1.45,1.45 0 1,0 -2.90,0M480.95,107.92a1.45,1.45 0 1,0 2.90,0a1.45,1.45 0 1,0 -2.90,0M483.41,105.46a1.45,1.45 0 1,0 2.90,0a1.45,1.45 0 1,0 -2.90,0M485.87,103.00a1.45,1.45 0 1,0 2.90,0a1.45,1.45 0 1,0 -2.90,0M488.33,100.54a1.45,1.45 0 1,0 2.90,0a1.45,1.45 0 1,0 -2.90,0M490.79,98.08a1.45,1.45 0 1,0 2.90,0a1.45,1.45 0 1,0 -2.90,0M493.25,95.62a1.45,1.45 0 1,0 2.90,0a1.45,1.45 0 1,0 -2.90,0M495.71,93.16a1.45,1.45 0 1,0 2.90,0a1.45,1.45 0 1,0 -2.90,0M498.17,90.70a1.45,1.45 0 1,0 2.90,0a1.45,1.45 0 1,0 -2.90,0M500.63,88.24a1.45,1.45 0 1,0 2.90,0a1.45,1.45 0 1,0 -2.90,0M503.09,85.78a1.45,1.45 0 1,0 2.90,0a1.45,1.45 0 1,0 -2.90,0M505.55,83.32a1.45,1.45 0 1,0 2.90,0a1.45,1.45 0 1,0 -2.90,0M508.01,80.86a1.45,1.45 0 1,0 2.90,0a1.45,1.45 0 1,0 -2.90,0M510.47,78.40a1.45,1.45 0 1,0 2.90,0a1.45,1.45 0 1,0 -2.90,0M512.93,75.94a1.45,1.45 0 1,0 2.90,0a1.45,1.45 0 1,0 -2.90,0M515.39,73.48a1.45,1.45 0 1,0 2.90,0a1.45,1.45 0 1,0 -2.90,0M517.85,71.02a1.45,1.45 0 1,0 2.90,0a1.45,1.45 0 1,0 -2.90,0M520.31,68.56a1.45,1.45 0 1,0 2.90,0a1.45,1.45 0 1,0 -2.90,0M522.77,66.10a1.45,1.45 0 1,0 2.90,0a1.45,1.45 0 1,0 -2.90,0M525.23,63.64a1.45,1.45 0 1,0 2.90,0a1.45,1.45 0 1,0 -2.90,0M527.69,61.18a1.45,1.45 0 1,0 2.90,0a1.45,1.45 0 1,0 -2.90,0M530.15,58.72a1.45,1.45 0 1,0 2.90,0a1.45,1.45 0 1,0 -2.90,0M532.61,56.26a1.45,1.45 0 1,0 2.90,0a1.45,1.45 0 1,0 -2.90,0M431.75,162.04a1.45,1.45 0 1,0 2.90,0a1.45,1.45 0 1,0 -2.90,0M434.21,159.58a1.45,1.45 0 1,0 2.90,0a1.45,1.45 0 1,0 -2.90,0M436.67,157.12a1.45,1.45 0 1,0 2.90,0a1.45,1.45 0 1,0 -2.90,0M439.13,154.66a1.45,1.45 0 1,0 2.90,0a1.45,1.45 0 1,0 -2.90,0M441.59,152.20a1.45,1.45 0 1,0 2.90,0a1.45,1.45 0 1,0 -2.90,0M444.05,149.74a1.45,1.45 0 1,0 2.90,0a1.45,1.45 0 1,0 -2.90,0M446.51,147.28a1.45,1.45 0 1,0 2.90,0a1.45,1.45 0 1,0 -2.90,0M448.97,144.82a1.45,1.45 0 1,0 2.90,0a1.45,1.45 0 1,0 -2.90,0M451.43,142.36a1.45,1.45 0 1,0 2.90,0a1.45,1.45 0 1,0 -2.90,0M453.89,139.90a1.45,1.45 0 1,0 2.90,0a1.45,1.45 0 1,0 -2.90,0M456.35,137.44a1.45,1.45 0 1,0 2.90,0a1.45,1.45 0 1,0 -2.90,0M458.81,134.98a1.45,1.45 0 1,0 2.90,0a1.45,1.45 0 1,0 -2.90,0M461.27,132.52a1.45,1.45 0 1,0 2.90,0a1.45,1.45 0 1,0 -2.90,0M463.73,130.06a1.45,1.45 0 1,0 2.90,0a1.45,1.45 0 1,0 -2.90,0M466.19,127.60a1.45,1.45 0 1,0 2.90,0a1.45,1.45 0 1,0 -2.90,0M468.65,125.14a1.45,1.45 0 1,0 2.90,0a1.45,1.45 0 1,0 -2.90,0M471.11,122.68a1.45,1.45 0 1,0 2.90,0a1.45,1.45 0 1,0 -2.90,0M473.57,120.22a1.45,1.45 0 1,0 2.90,0a1.45,1.45 0 1,0 -2.90,0M476.03,117.76a1.45,1.45 0 1,0 2.90,0a1.45,1.45 0 1,0 -2.90,0M478.49,115.30a1.45,1.45 0 1,0 2.90,0a1.45,1.45 0 1,0 -2.90,0M480.95,112.84a1.45,1.45 0 1,0 2.90,0a1.45,1.45 0 1,0 -2.90,0M483.41,110.38a1.45,1.45 0 1,0 2.90,0a1.45,1.45 0 1,0 -2.90,0M485.87,107.92a1.45,1.45 0 1,0 2.90,0a1.45,1.45 0 1,0 -2.90,0M488.33,105.46a1.45,1.45 0 1,0 2.90,0a1.45,1.45 0 1,0 -2.90,0M490.79,103.00a1.45,1.45 0 1,0 2.90,0a1.45,1.45 0 1,0 -2.90,0M493.25,100.54a1.45,1.45 0 1,0 2.90,0a1.45,1.45 0 1,0 -2.90,0M495.71,98.08a1.45,1.45 0 1,0 2.90,0a1.45,1.45 0 1,0 -2.90,0M498.17,95.62a1.45,1.45 0 1,0 2.90,0a1.45,1.45 0 1,0 -2.90,0M500.63,93.16a1.45,1.45 0 1,0 2.90,0a1.45,1.45 0 1,0 -2.90,0M503.09,90.70a1.45,1.45 0 1,0 2.90,0a1.45,1.45 0 1,0 -2.90,0M505.55,88.24a1.45,1.45 0 1,0 2.90,0a1.45,1.45 0 1,0 -2.90,0M508.01,85.78a1.45,1.45 0 1,0 2.90,0a1.45,1.45 0 1,0 -2.90,0M510.47,83.32a1.45,1.45 0 1,0 2.90,0a1.45,1.45 0 1,0 -2.90,0M512.93,80.86a1.45,1.45 0 1,0 2.90,0a1.45,1.45 0 1,0 -2.90,0M515.39,78.40a1.45,1.45 0 1,0 2.90,0a1.45,1.45 0 1,0 -2.90,0M517.85,75.94a1.45,1.45 0 1,0 2.90,0a1.45,1.45 0 1,0 -2.90,0M520.31,73.48a1.45,1.45 0 1,0 2.90,0a1.45,1.45 0 1,0 -2.90,0M522.77,71.02a1.45,1.45 0 1,0 2.90,0a1.45,1.45 0 1,0 -2.90,0M525.23,68.56a1.45,1.45 0 1,0 2.90,0a1.45,1.45 0 1,0 -2.90,0M527.69,66.10a1.45,1.45 0 1,0 2.90,0a1.45,1.45 0 1,0 -2.90,0M530.15,63.64a1.45,1.45 0 1,0 2.90,0a1.45,1.45 0 1,0 -2.90,0M532.61,61.18a1.45,1.45 0 1,0 2.90,0a1.45,1.45 0 1,0 -2.90,0M431.75,166.96a1.45,1.45 0 1,0 2.90,0a1.45,1.45 0 1,0 -2.90,0M434.21,164.50a1.45,1.45 0 1,0 2.90,0a1.45,1.45 0 1,0 -2.90,0M436.67,162.04a1.45,1.45 0 1,0 2.90,0a1.45,1.45 0 1,0 -2.90,0M439.13,159.58a1.45,1.45 0 1,0 2.90,0a1.45,1.45 0 1,0 -2.90,0M441.59,157.12a1.45,1.45 0 1,0 2.90,0a1.45,1.45 0 1,0 -2.90,0M444.05,154.66a1.45,1.45 0 1,0 2.90,0a1.45,1.45 0 1,0 -2.90,0M446.51,152.20a1.45,1.45 0 1,0 2.90,0a1.45,1.45 0 1,0 -2.90,0M448.97,149.74a1.45,1.45 0 1,0 2.90,0a1.45,1.45 0 1,0 -2.90,0M451.43,147.28a1.45,1.45 0 1,0 2.90,0a1.45,1.45 0 1,0 -2.90,0M453.89,144.82a1.45,1.45 0 1,0 2.90,0a1.45,1.45 0 1,0 -2.90,0M456.35,142.36a1.45,1.45 0 1,0 2.90,0a1.45,1.45 0 1,0 -2.90,0M458.81,139.90a1.45,1.45 0 1,0 2.90,0a1.45,1.45 0 1,0 -2.90,0M461.27,137.44a1.45,1.45 0 1,0 2.90,0a1.45,1.45 0 1,0 -2.90,0M463.73,134.98a1.45,1.45 0 1,0 2.90,0a1.45,1.45 0 1,0 -2.90,0M466.19,132.52a1.45,1.45 0 1,0 2.90,0a1.45,1.45 0 1,0 -2.90,0M468.65,130.06a1.45,1.45 0 1,0 2.90,0a1.45,1.45 0 1,0 -2.90,0M471.11,127.60a1.45,1.45 0 1,0 2.90,0a1.45,1.45 0 1,0 -2.90,0M473.57,125.14a1.45,1.45 0 1,0 2.90,0a1.45,1.45 0 1,0 -2.90,0M476.03,122.68a1.45,1.45 0 1,0 2.90,0a1.45,1.45 0 1,0 -2.90,0M478.49,120.22a1.45,1.45 0 1,0 2.90,0a1.45,1.45 0 1,0 -2.90,0M480.95,117.76a1.45,1.45 0 1,0 2.90,0a1.45,1.45 0 1,0 -2.90,0M483.41,115.30a1.45,1.45 0 1,0 2.90,0a1.45,1.45 0 1,0 -2.90,0M485.87,112.84a1.45,1.45 0 1,0 2.90,0a1.45,1.45 0 1,0 -2.90,0M488.33,110.38a1.45,1.45 0 1,0 2.90,0a1.45,1.45 0 1,0 -2.90,0M490.79,107.92a1.45,1.45 0 1,0 2.90,0a1.45,1.45 0 1,0 -2.90,0M493.25,105.46a1.45,1.45 0 1,0 2.90,0a1.45,1.45 0 1,0 -2.90,0M495.71,103.00a1.45,1.45 0 1,0 2.90,0a1.45,1.45 0 1,0 -2.90,0M498.17,100.54a1.45,1.45 0 1,0 2.90,0a1.45,1.45 0 1,0 -2.90,0M500.63,98.08a1.45,1.45 0 1,0 2.90,0a1.45,1.45 0 1,0 -2.90,0M503.09,95.62a1.45,1.45 0 1,0 2.90,0a1.45,1.45 0 1,0 -2.90,0M505.55,93.16a1.45,1.45 0 1,0 2.90,0a1.45,1.45 0 1,0 -2.90,0M508.01,90.70a1.45,1.45 0 1,0 2.90,0a1.45,1.45 0 1,0 -2.90,0M510.47,88.24a1.45,1.45 0 1,0 2.90,0a1.45,1.45 0 1,0 -2.90,0M512.93,85.78a1.45,1.45 0 1,0 2.90,0a1.45,1.45 0 1,0 -2.90,0M515.39,83.32a1.45,1.45 0 1,0 2.90,0a1.45,1.45 0 1,0 -2.90,0M517.85,80.86a1.45,1.45 0 1,0 2.90,0a1.45,1.45 0 1,0 -2.90,0M520.31,78.40a1.45,1.45 0 1,0 2.90,0a1.45,1.45 0 1,0 -2.90,0M522.77,75.94a1.45,1.45 0 1,0 2.90,0a1.45,1.45 0 1,0 -2.90,0M525.23,73.48a1.45,1.45 0 1,0 2.90,0a1.45,1.45 0 1,0 -2.90,0M527.69,71.02a1.45,1.45 0 1,0 2.90,0a1.45,1.45 0 1,0 -2.90,0M530.15,68.56a1.45,1.45 0 1,0 2.90,0a1.45,1.45 0 1,0 -2.90,0M532.61,66.10a1.45,1.45 0 1,0 2.90,0a1.45,1.45 0 1,0 -2.90,0M431.75,171.88a1.45,1.45 0 1,0 2.90,0a1.45,1.45 0 1,0 -2.90,0M434.21,169.42a1.45,1.45 0 1,0 2.90,0a1.45,1.45 0 1,0 -2.90,0M436.67,166.96a1.45,1.45 0 1,0 2.90,0a1.45,1.45 0 1,0 -2.90,0M439.13,164.50a1.45,1.45 0 1,0 2.90,0a1.45,1.45 0 1,0 -2.90,0M441.59,162.04a1.45,1.45 0 1,0 2.90,0a1.45,1.45 0 1,0 -2.90,0M444.05,159.58a1.45,1.45 0 1,0 2.90,0a1.45,1.45 0 1,0 -2.90,0M446.51,157.12a1.45,1.45 0 1,0 2.90,0a1.45,1.45 0 1,0 -2.90,0M448.97,154.66a1.45,1.45 0 1,0 2.90,0a1.45,1.45 0 1,0 -2.90,0M451.43,152.20a1.45,1.45 0 1,0 2.90,0a1.45,1.45 0 1,0 -2.90,0M453.89,149.74a1.45,1.45 0 1,0 2.90,0a1.45,1.45 0 1,0 -2.90,0M456.35,147.28a1.45,1.45 0 1,0 2.90,0a1.45,1.45 0 1,0 -2.90,0M458.81,144.82a1.45,1.45 0 1,0 2.90,0a1.45,1.45 0 1,0 -2.90,0M461.27,142.36a1.45,1.45 0 1,0 2.90,0a1.45,1.45 0 1,0 -2.90,0M463.73,139.90a1.45,1.45 0 1,0 2.90,0a1.45,1.45 0 1,0 -2.90,0M466.19,137.44a1.45,1.45 0 1,0 2.90,0a1.45,1.45 0 1,0 -2.90,0M468.65,134.98a1.45,1.45 0 1,0 2.90,0a1.45,1.45 0 1,0 -2.90,0M471.11,132.52a1.45,1.45 0 1,0 2.90,0a1.45,1.45 0 1,0 -2.90,0M473.57,130.06a1.45,1.45 0 1,0 2.90,0a1.45,1.45 0 1,0 -2.90,0M476.03,127.60a1.45,1.45 0 1,0 2.90,0a1.45,1.45 0 1,0 -2.90,0M478.49,125.14a1.45,1.45 0 1,0 2.90,0a1.45,1.45 0 1,0 -2.90,0M480.95,122.68a1.45,1.45 0 1,0 2.90,0a1.45,1.45 0 1,0 -2.90,0M483.41,120.22a1.45,1.45 0 1,0 2.90,0a1.45,1.45 0 1,0 -2.90,0M485.87,117.76a1.45,1.45 0 1,0 2.90,0a1.45,1.45 0 1,0 -2.90,0M488.33,115.30a1.45,1.45 0 1,0 2.90,0a1.45,1.45 0 1,0 -2.90,0M490.79,112.84a1.45,1.45 0 1,0 2.90,0a1.45,1.45 0 1,0 -2.90,0M493.25,110.38a1.45,1.45 0 1,0 2.90,0a1.45,1.45 0 1,0 -2.90,0M495.71,107.92a1.45,1.45 0 1,0 2.90,0a1.45,1.45 0 1,0 -2.90,0M498.17,105.46a1.45,1.45 0 1,0 2.90,0a1.45,1.45 0 1,0 -2.90,0M500.63,103.00a1.45,1.45 0 1,0 2.90,0a1.45,1.45 0 1,0 -2.90,0M503.09,100.54a1.45,1.45 0 1,0 2.90,0a1.45,1.45 0 1,0 -2.90,0M505.55,98.08a1.45,1.45 0 1,0 2.90,0a1.45,1.45 0 1,0 -2.90,0M508.01,95.62a1.45,1.45 0 1,0 2.90,0a1.45,1.45 0 1,0 -2.90,0M510.47,93.16a1.45,1.45 0 1,0 2.90,0a1.45,1.45 0 1,0 -2.90,0M512.93,90.70a1.45,1.45 0 1,0 2.90,0a1.45,1.45 0 1,0 -2.90,0M515.39,88.24a1.45,1.45 0 1,0 2.90,0a1.45,1.45 0 1,0 -2.90,0M517.85,85.78a1.45,1.45 0 1,0 2.90,0a1.45,1.45 0 1,0 -2.90,0M520.31,83.32a1.45,1.45 0 1,0 2.90,0a1.45,1.45 0 1,0 -2.90,0M522.77,80.86a1.45,1.45 0 1,0 2.90,0a1.45,1.45 0 1,0 -2.90,0M525.23,78.40a1.45,1.45 0 1,0 2.90,0a1.45,1.45 0 1,0 -2.90,0M527.69,75.94a1.45,1.45 0 1,0 2.90,0a1.45,1.45 0 1,0 -2.90,0M530.15,73.48a1.45,1.45 0 1,0 2.90,0a1.45,1.45 0 1,0 -2.90,0M532.61,71.02a1.45,1.45 0 1,0 2.90,0a1.45,1.45 0 1,0 -2.90,0M431.75,176.80a1.45,1.45 0 1,0 2.90,0a1.45,1.45 0 1,0 -2.90,0M434.21,174.34a1.45,1.45 0 1,0 2.90,0a1.45,1.45 0 1,0 -2.90,0M436.67,171.88a1.45,1.45 0 1,0 2.90,0a1.45,1.45 0 1,0 -2.90,0M439.13,169.42a1.45,1.45 0 1,0 2.90,0a1.45,1.45 0 1,0 -2.90,0M441.59,166.96a1.45,1.45 0 1,0 2.90,0a1.45,1.45 0 1,0 -2.90,0M444.05,164.50a1.45,1.45 0 1,0 2.90,0a1.45,1.45 0 1,0 -2.90,0M446.51,162.04a1.45,1.45 0 1,0 2.90,0a1.45,1.45 0 1,0 -2.90,0M448.97,159.58a1.45,1.45 0 1,0 2.90,0a1.45,1.45 0 1,0 -2.90,0M451.43,157.12a1.45,1.45 0 1,0 2.90,0a1.45,1.45 0 1,0 -2.90,0M453.89,154.66a1.45,1.45 0 1,0 2.90,0a1.45,1.45 0 1,0 -2.90,0M456.35,152.20a1.45,1.45 0 1,0 2.90,0a1.45,1.45 0 1,0 -2.90,0M458.81,149.74a1.45,1.45 0 1,0 2.90,0a1.45,1.45 0 1,0 -2.90,0M461.27,147.28a1.45,1.45 0 1,0 2.90,0a1.45,1.45 0 1,0 -2.90,0M463.73,144.82a1.45,1.45 0 1,0 2.90,0a1.45,1.45 0 1,0 -2.90,0M466.19,142.36a1.45,1.45 0 1,0 2.90,0a1.45,1.45 0 1,0 -2.90,0M468.65,139.90a1.45,1.45 0 1,0 2.90,0a1.45,1.45 0 1,0 -2.90,0M471.11,137.44a1.45,1.45 0 1,0 2.90,0a1.45,1.45 0 1,0 -2.90,0M473.57,134.98a1.45,1.45 0 1,0 2.90,0a1.45,1.45 0 1,0 -2.90,0M476.03,132.52a1.45,1.45 0 1,0 2.90,0a1.45,1.45 0 1,0 -2.90,0M478.49,130.06a1.45,1.45 0 1,0 2.90,0a1.45,1.45 0 1,0 -2.90,0M480.95,127.60a1.45,1.45 0 1,0 2.90,0a1.45,1.45 0 1,0 -2.90,0M483.41,125.14a1.45,1.45 0 1,0 2.90,0a1.45,1.45 0 1,0 -2.90,0M485.87,122.68a1.45,1.45 0 1,0 2.90,0a1.45,1.45 0 1,0 -2.90,0M488.33,120.22a1.45,1.45 0 1,0 2.90,0a1.45,1.45 0 1,0 -2.90,0M490.79,117.76a1.45,1.45 0 1,0 2.90,0a1.45,1.45 0 1,0 -2.90,0M493.25,115.30a1.45,1.45 0 1,0 2.90,0a1.45,1.45 0 1,0 -2.90,0M495.71,112.84a1.45,1.45 0 1,0 2.90,0a1.45,1.45 0 1,0 -2.90,0M498.17,110.38a1.45,1.45 0 1,0 2.90,0a1.45,1.45 0 1,0 -2.90,0M500.63,107.92a1.45,1.45 0 1,0 2.90,0a1.45,1.45 0 1,0 -2.90,0M503.09,105.46a1.45,1.45 0 1,0 2.90,0a1.45,1.45 0 1,0 -2.90,0M505.55,103.00a1.45,1.45 0 1,0 2.90,0a1.45,1.45 0 1,0 -2.90,0M508.01,100.54a1.45,1.45 0 1,0 2.90,0a1.45,1.45 0 1,0 -2.90,0M510.47,98.08a1.45,1.45 0 1,0 2.90,0a1.45,1.45 0 1,0 -2.90,0M512.93,95.62a1.45,1.45 0 1,0 2.90,0a1.45,1.45 0 1,0 -2.90,0M515.39,93.16a1.45,1.45 0 1,0 2.90,0a1.45,1.45 0 1,0 -2.90,0M517.85,90.70a1.45,1.45 0 1,0 2.90,0a1.45,1.45 0 1,0 -2.90,0M520.31,88.24a1.45,1.45 0 1,0 2.90,0a1.45,1.45 0 1,0 -2.90,0M522.77,85.78a1.45,1.45 0 1,0 2.90,0a1.45,1.45 0 1,0 -2.90,0M525.23,83.32a1.45,1.45 0 1,0 2.90,0a1.45,1.45 0 1,0 -2.90,0M527.69,80.86a1.45,1.45 0 1,0 2.90,0a1.45,1.45 0 1,0 -2.90,0M530.15,78.40a1.45,1.45 0 1,0 2.90,0a1.45,1.45 0 1,0 -2.90,0M532.61,75.94a1.45,1.45 0 1,0 2.90,0a1.45,1.45 0 1,0 -2.90,0M434.21,179.26a1.45,1.45 0 1,0 2.90,0a1.45,1.45 0 1,0 -2.90,0M436.67,176.80a1.45,1.45 0 1,0 2.90,0a1.45,1.45 0 1,0 -2.90,0M439.13,174.34a1.45,1.45 0 1,0 2.90,0a1.45,1.45 0 1,0 -2.90,0M441.59,171.88a1.45,1.45 0 1,0 2.90,0a1.45,1.45 0 1,0 -2.90,0M444.05,169.42a1.45,1.45 0 1,0 2.90,0a1.45,1.45 0 1,0 -2.90,0M446.51,166.96a1.45,1.45 0 1,0 2.90,0a1.45,1.45 0 1,0 -2.90,0M448.97,164.50a1.45,1.45 0 1,0 2.90,0a1.45,1.45 0 1,0 -2.90,0M451.43,162.04a1.45,1.45 0 1,0 2.90,0a1.45,1.45 0 1,0 -2.90,0M453.89,159.58a1.45,1.45 0 1,0 2.90,0a1.45,1.45 0 1,0 -2.90,0M456.35,157.12a1.45,1.45 0 1,0 2.90,0a1.45,1.45 0 1,0 -2.90,0M458.81,154.66a1.45,1.45 0 1,0 2.90,0a1.45,1.45 0 1,0 -2.90,0M461.27,152.20a1.45,1.45 0 1,0 2.90,0a1.45,1.45 0 1,0 -2.90,0M463.73,149.74a1.45,1.45 0 1,0 2.90,0a1.45,1.45 0 1,0 -2.90,0M466.19,147.28a1.45,1.45 0 1,0 2.90,0a1.45,1.45 0 1,0 -2.90,0M468.65,144.82a1.45,1.45 0 1,0 2.90,0a1.45,1.45 0 1,0 -2.90,0M471.11,142.36a1.45,1.45 0 1,0 2.90,0a1.45,1.45 0 1,0 -2.90,0M473.57,139.90a1.45,1.45 0 1,0 2.90,0a1.45,1.45 0 1,0 -2.90,0M476.03,137.44a1.45,1.45 0 1,0 2.90,0a1.45,1.45 0 1,0 -2.90,0M478.49,134.98a1.45,1.45 0 1,0 2.90,0a1.45,1.45 0 1,0 -2.90,0M480.95,132.52a1.45,1.45 0 1,0 2.90,0a1.45,1.45 0 1,0 -2.90,0M483.41,130.06a1.45,1.45 0 1,0 2.90,0a1.45,1.45 0 1,0 -2.90,0M485.87,127.60a1.45,1.45 0 1,0 2.90,0a1.45,1.45 0 1,0 -2.90,0M488.33,125.14a1.45,1.45 0 1,0 2.90,0a1.45,1.45 0 1,0 -2.90,0M490.79,122.68a1.45,1.45 0 1,0 2.90,0a1.45,1.45 0 1,0 -2.90,0M493.25,120.22a1.45,1.45 0 1,0 2.90,0a1.45,1.45 0 1,0 -2.90,0M495.71,117.76a1.45,1.45 0 1,0 2.90,0a1.45,1.45 0 1,0 -2.90,0M498.17,115.30a1.45,1.45 0 1,0 2.90,0a1.45,1.45 0 1,0 -2.90,0M500.63,112.84a1.45,1.45 0 1,0 2.90,0a1.45,1.45 0 1,0 -2.90,0M503.09,110.38a1.45,1.45 0 1,0 2.90,0a1.45,1.45 0 1,0 -2.90,0M505.55,107.92a1.45,1.45 0 1,0 2.90,0a1.45,1.45 0 1,0 -2.90,0M508.01,105.46a1.45,1.45 0 1,0 2.90,0a1.45,1.45 0 1,0 -2.90,0M510.47,103.00a1.45,1.45 0 1,0 2.90,0a1.45,1.45 0 1,0 -2.90,0M512.93,100.54a1.45,1.45 0 1,0 2.90,0a1.45,1.45 0 1,0 -2.90,0M515.39,98.08a1.45,1.45 0 1,0 2.90,0a1.45,1.45 0 1,0 -2.90,0M517.85,95.62a1.45,1.45 0 1,0 2.90,0a1.45,1.45 0 1,0 -2.90,0M520.31,93.16a1.45,1.45 0 1,0 2.90,0a1.45,1.45 0 1,0 -2.90,0M522.77,90.70a1.45,1.45 0 1,0 2.90,0a1.45,1.45 0 1,0 -2.90,0M525.23,88.24a1.45,1.45 0 1,0 2.90,0a1.45,1.45 0 1,0 -2.90,0M527.69,85.78a1.45,1.45 0 1,0 2.90,0a1.45,1.45 0 1,0 -2.90,0M530.15,83.32a1.45,1.45 0 1,0 2.90,0a1.45,1.45 0 1,0 -2.90,0M532.61,80.86a1.45,1.45 0 1,0 2.90,0a1.45,1.45 0 1,0 -2.90,0M439.13,179.26a1.45,1.45 0 1,0 2.90,0a1.45,1.45 0 1,0 -2.90,0M441.59,176.80a1.45,1.45 0 1,0 2.90,0a1.45,1.45 0 1,0 -2.90,0M444.05,174.34a1.45,1.45 0 1,0 2.90,0a1.45,1.45 0 1,0 -2.90,0M446.51,171.88a1.45,1.45 0 1,0 2.90,0a1.45,1.45 0 1,0 -2.90,0M448.97,169.42a1.45,1.45 0 1,0 2.90,0a1.45,1.45 0 1,0 -2.90,0M451.43,166.96a1.45,1.45 0 1,0 2.90,0a1.45,1.45 0 1,0 -2.90,0M453.89,164.50a1.45,1.45 0 1,0 2.90,0a1.45,1.45 0 1,0 -2.90,0M456.35,162.04a1.45,1.45 0 1,0 2.90,0a1.45,1.45 0 1,0 -2.90,0M458.81,159.58a1.45,1.45 0 1,0 2.90,0a1.45,1.45 0 1,0 -2.90,0M461.27,157.12a1.45,1.45 0 1,0 2.90,0a1.45,1.45 0 1,0 -2.90,0M463.73,154.66a1.45,1.45 0 1,0 2.90,0a1.45,1.45 0 1,0 -2.90,0M466.19,152.20a1.45,1.45 0 1,0 2.90,0a1.45,1.45 0 1,0 -2.90,0M468.65,149.74a1.45,1.45 0 1,0 2.90,0a1.45,1.45 0 1,0 -2.90,0M471.11,147.28a1.45,1.45 0 1,0 2.90,0a1.45,1.45 0 1,0 -2.90,0M473.57,144.82a1.45,1.45 0 1,0 2.90,0a1.45,1.45 0 1,0 -2.90,0M476.03,142.36a1.45,1.45 0 1,0 2.90,0a1.45,1.45 0 1,0 -2.90,0M478.49,139.90a1.45,1.45 0 1,0 2.90,0a1.45,1.45 0 1,0 -2.90,0M480.95,137.44a1.45,1.45 0 1,0 2.90,0a1.45,1.45 0 1,0 -2.90,0M483.41,134.98a1.45,1.45 0 1,0 2.90,0a1.45,1.45 0 1,0 -2.90,0M485.87,132.52a1.45,1.45 0 1,0 2.90,0a1.45,1.45 0 1,0 -2.90,0M488.33,130.06a1.45,1.45 0 1,0 2.90,0a1.45,1.45 0 1,0 -2.90,0M490.79,127.60a1.45,1.45 0 1,0 2.90,0a1.45,1.45 0 1,0 -2.90,0M493.25,125.14a1.45,1.45 0 1,0 2.90,0a1.45,1.45 0 1,0 -2.90,0M495.71,122.68a1.45,1.45 0 1,0 2.90,0a1.45,1.45 0 1,0 -2.90,0M498.17,120.22a1.45,1.45 0 1,0 2.90,0a1.45,1.45 0 1,0 -2.90,0M500.63,117.76a1.45,1.45 0 1,0 2.90,0a1.45,1.45 0 1,0 -2.90,0M503.09,115.30a1.45,1.45 0 1,0 2.90,0a1.45,1.45 0 1,0 -2.90,0M505.55,112.84a1.45,1.45 0 1,0 2.90,0a1.45,1.45 0 1,0 -2.90,0M508.01,110.38a1.45,1.45 0 1,0 2.90,0a1.45,1.45 0 1,0 -2.90,0M510.47,107.92a1.45,1.45 0 1,0 2.90,0a1.45,1.45 0 1,0 -2.90,0M512.93,105.46a1.45,1.45 0 1,0 2.90,0a1.45,1.45 0 1,0 -2.90,0M515.39,103.00a1.45,1.45 0 1,0 2.90,0a1.45,1.45 0 1,0 -2.90,0M517.85,100.54a1.45,1.45 0 1,0 2.90,0a1.45,1.45 0 1,0 -2.90,0M520.31,98.08a1.45,1.45 0 1,0 2.90,0a1.45,1.45 0 1,0 -2.90,0M522.77,95.62a1.45,1.45 0 1,0 2.90,0a1.45,1.45 0 1,0 -2.90,0M525.23,93.16a1.45,1.45 0 1,0 2.90,0a1.45,1.45 0 1,0 -2.90,0M527.69,90.70a1.45,1.45 0 1,0 2.90,0a1.45,1.45 0 1,0 -2.90,0M530.15,88.24a1.45,1.45 0 1,0 2.90,0a1.45,1.45 0 1,0 -2.90,0M532.61,85.78a1.45,1.45 0 1,0 2.90,0a1.45,1.45 0 1,0 -2.90,0M444.05,179.26a1.45,1.45 0 1,0 2.90,0a1.45,1.45 0 1,0 -2.90,0M446.51,176.80a1.45,1.45 0 1,0 2.90,0a1.45,1.45 0 1,0 -2.90,0M448.97,174.34a1.45,1.45 0 1,0 2.90,0a1.45,1.45 0 1,0 -2.90,0M451.43,171.88a1.45,1.45 0 1,0 2.90,0a1.45,1.45 0 1,0 -2.90,0M453.89,169.42a1.45,1.45 0 1,0 2.90,0a1.45,1.45 0 1,0 -2.90,0M456.35,166.96a1.45,1.45 0 1,0 2.90,0a1.45,1.45 0 1,0 -2.90,0M458.81,164.50a1.45,1.45 0 1,0 2.90,0a1.45,1.45 0 1,0 -2.90,0M461.27,162.04a1.45,1.45 0 1,0 2.90,0a1.45,1.45 0 1,0 -2.90,0M463.73,159.58a1.45,1.45 0 1,0 2.90,0a1.45,1.45 0 1,0 -2.90,0M466.19,157.12a1.45,1.45 0 1,0 2.90,0a1.45,1.45 0 1,0 -2.90,0M468.65,154.66a1.45,1.45 0 1,0 2.90,0a1.45,1.45 0 1,0 -2.90,0M471.11,152.20a1.45,1.45 0 1,0 2.90,0a1.45,1.45 0 1,0 -2.90,0M473.57,149.74a1.45,1.45 0 1,0 2.90,0a1.45,1.45 0 1,0 -2.90,0M476.03,147.28a1.45,1.45 0 1,0 2.90,0a1.45,1.45 0 1,0 -2.90,0M478.49,144.82a1.45,1.45 0 1,0 2.90,0a1.45,1.45 0 1,0 -2.90,0M480.95,142.36a1.45,1.45 0 1,0 2.90,0a1.45,1.45 0 1,0 -2.90,0M483.41,139.90a1.45,1.45 0 1,0 2.90,0a1.45,1.45 0 1,0 -2.90,0M485.87,137.44a1.45,1.45 0 1,0 2.90,0a1.45,1.45 0 1,0 -2.90,0M488.33,134.98a1.45,1.45 0 1,0 2.90,0a1.45,1.45 0 1,0 -2.90,0M490.79,132.52a1.45,1.45 0 1,0 2.90,0a1.45,1.45 0 1,0 -2.90,0M493.25,130.06a1.45,1.45 0 1,0 2.90,0a1.45,1.45 0 1,0 -2.90,0M495.71,127.60a1.45,1.45 0 1,0 2.90,0a1.45,1.45 0 1,0 -2.90,0M498.17,125.14a1.45,1.45 0 1,0 2.90,0a1.45,1.45 0 1,0 -2.90,0M500.63,122.68a1.45,1.45 0 1,0 2.90,0a1.45,1.45 0 1,0 -2.90,0M503.09,120.22a1.45,1.45 0 1,0 2.90,0a1.45,1.45 0 1,0 -2.90,0M505.55,117.76a1.45,1.45 0 1,0 2.90,0a1.45,1.45 0 1,0 -2.90,0M508.01,115.30a1.45,1.45 0 1,0 2.90,0a1.45,1.45 0 1,0 -2.90,0M510.47,112.84a1.45,1.45 0 1,0 2.90,0a1.45,1.45 0 1,0 -2.90,0M512.93,110.38a1.45,1.45 0 1,0 2.90,0a1.45,1.45 0 1,0 -2.90,0M515.39,107.92a1.45,1.45 0 1,0 2.90,0a1.45,1.45 0 1,0 -2.90,0M517.85,105.46a1.45,1.45 0 1,0 2.90,0a1.45,1.45 0 1,0 -2.90,0M520.31,103.00a1.45,1.45 0 1,0 2.90,0a1.45,1.45 0 1,0 -2.90,0M522.77,100.54a1.45,1.45 0 1,0 2.90,0a1.45,1.45 0 1,0 -2.90,0M525.23,98.08a1.45,1.45 0 1,0 2.90,0a1.45,1.45 0 1,0 -2.90,0M527.69,95.62a1.45,1.45 0 1,0 2.90,0a1.45,1.45 0 1,0 -2.90,0M530.15,93.16a1.45,1.45 0 1,0 2.90,0a1.45,1.45 0 1,0 -2.90,0M532.61,90.70a1.45,1.45 0 1,0 2.90,0a1.45,1.45 0 1,0 -2.90,0M448.97,179.26a1.45,1.45 0 1,0 2.90,0a1.45,1.45 0 1,0 -2.90,0M451.43,176.80a1.45,1.45 0 1,0 2.90,0a1.45,1.45 0 1,0 -2.90,0M453.89,174.34a1.45,1.45 0 1,0 2.90,0a1.45,1.45 0 1,0 -2.90,0M456.35,171.88a1.45,1.45 0 1,0 2.90,0a1.45,1.45 0 1,0 -2.90,0M458.81,169.42a1.45,1.45 0 1,0 2.90,0a1.45,1.45 0 1,0 -2.90,0M461.27,166.96a1.45,1.45 0 1,0 2.90,0a1.45,1.45 0 1,0 -2.90,0M463.73,164.50a1.45,1.45 0 1,0 2.90,0a1.45,1.45 0 1,0 -2.90,0M466.19,162.04a1.45,1.45 0 1,0 2.90,0a1.45,1.45 0 1,0 -2.90,0M468.65,159.58a1.45,1.45 0 1,0 2.90,0a1.45,1.45 0 1,0 -2.90,0M471.11,157.12a1.45,1.45 0 1,0 2.90,0a1.45,1.45 0 1,0 -2.90,0M473.57,154.66a1.45,1.45 0 1,0 2.90,0a1.45,1.45 0 1,0 -2.90,0M476.03,152.20a1.45,1.45 0 1,0 2.90,0a1.45,1.45 0 1,0 -2.90,0M478.49,149.74a1.45,1.45 0 1,0 2.90,0a1.45,1.45 0 1,0 -2.90,0M480.95,147.28a1.45,1.45 0 1,0 2.90,0a1.45,1.45 0 1,0 -2.90,0M483.41,144.82a1.45,1.45 0 1,0 2.90,0a1.45,1.45 0 1,0 -2.90,0M485.87,142.36a1.45,1.45 0 1,0 2.90,0a1.45,1.45 0 1,0 -2.90,0M488.33,139.90a1.45,1.45 0 1,0 2.90,0a1.45,1.45 0 1,0 -2.90,0M490.79,137.44a1.45,1.45 0 1,0 2.90,0a1.45,1.45 0 1,0 -2.90,0M493.25,134.98a1.45,1.45 0 1,0 2.90,0a1.45,1.45 0 1,0 -2.90,0M495.71,132.52a1.45,1.45 0 1,0 2.90,0a1.45,1.45 0 1,0 -2.90,0M498.17,130.06a1.45,1.45 0 1,0 2.90,0a1.45,1.45 0 1,0 -2.90,0M500.63,127.60a1.45,1.45 0 1,0 2.90,0a1.45,1.45 0 1,0 -2.90,0M503.09,125.14a1.45,1.45 0 1,0 2.90,0a1.45,1.45 0 1,0 -2.90,0M505.55,122.68a1.45,1.45 0 1,0 2.90,0a1.45,1.45 0 1,0 -2.90,0M508.01,120.22a1.45,1.45 0 1,0 2.90,0a1.45,1.45 0 1,0 -2.90,0M510.47,117.76a1.45,1.45 0 1,0 2.90,0a1.45,1.45 0 1,0 -2.90,0M512.93,115.30a1.45,1.45 0 1,0 2.90,0a1.45,1.45 0 1,0 -2.90,0M515.39,112.84a1.45,1.45 0 1,0 2.90,0a1.45,1.45 0 1,0 -2.90,0M517.85,110.38a1.45,1.45 0 1,0 2.90,0a1.45,1.45 0 1,0 -2.90,0M520.31,107.92a1.45,1.45 0 1,0 2.90,0a1.45,1.45 0 1,0 -2.90,0M522.77,105.46a1.45,1.45 0 1,0 2.90,0a1.45,1.45 0 1,0 -2.90,0M525.23,103.00a1.45,1.45 0 1,0 2.90,0a1.45,1.45 0 1,0 -2.90,0M527.69,100.54a1.45,1.45 0 1,0 2.90,0a1.45,1.45 0 1,0 -2.90,0M530.15,98.08a1.45,1.45 0 1,0 2.90,0a1.45,1.45 0 1,0 -2.90,0M532.61,95.62a1.45,1.45 0 1,0 2.90,0a1.45,1.45 0 1,0 -2.90,0M453.89,179.26a1.45,1.45 0 1,0 2.90,0a1.45,1.45 0 1,0 -2.90,0M456.35,176.80a1.45,1.45 0 1,0 2.90,0a1.45,1.45 0 1,0 -2.90,0M458.81,174.34a1.45,1.45 0 1,0 2.90,0a1.45,1.45 0 1,0 -2.90,0M461.27,171.88a1.45,1.45 0 1,0 2.90,0a1.45,1.45 0 1,0 -2.90,0M463.73,169.42a1.45,1.45 0 1,0 2.90,0a1.45,1.45 0 1,0 -2.90,0M466.19,166.96a1.45,1.45 0 1,0 2.90,0a1.45,1.45 0 1,0 -2.90,0M468.65,164.50a1.45,1.45 0 1,0 2.90,0a1.45,1.45 0 1,0 -2.90,0M471.11,162.04a1.45,1.45 0 1,0 2.90,0a1.45,1.45 0 1,0 -2.90,0M473.57,159.58a1.45,1.45 0 1,0 2.90,0a1.45,1.45 0 1,0 -2.90,0M476.03,157.12a1.45,1.45 0 1,0 2.90,0a1.45,1.45 0 1,0 -2.90,0M478.49,154.66a1.45,1.45 0 1,0 2.90,0a1.45,1.45 0 1,0 -2.90,0M480.95,152.20a1.45,1.45 0 1,0 2.90,0a1.45,1.45 0 1,0 -2.90,0M483.41,149.74a1.45,1.45 0 1,0 2.90,0a1.45,1.45 0 1,0 -2.90,0M485.87,147.28a1.45,1.45 0 1,0 2.90,0a1.45,1.45 0 1,0 -2.90,0M488.33,144.82a1.45,1.45 0 1,0 2.90,0a1.45,1.45 0 1,0 -2.90,0M490.79,142.36a1.45,1.45 0 1,0 2.90,0a1.45,1.45 0 1,0 -2.90,0M493.25,139.90a1.45,1.45 0 1,0 2.90,0a1.45,1.45 0 1,0 -2.90,0M495.71,137.44a1.45,1.45 0 1,0 2.90,0a1.45,1.45 0 1,0 -2.90,0M498.17,134.98a1.45,1.45 0 1,0 2.90,0a1.45,1.45 0 1,0 -2.90,0M500.63,132.52a1.45,1.45 0 1,0 2.90,0a1.45,1.45 0 1,0 -2.90,0M503.09,130.06a1.45,1.45 0 1,0 2.90,0a1.45,1.45 0 1,0 -2.90,0M505.55,127.60a1.45,1.45 0 1,0 2.90,0a1.45,1.45 0 1,0 -2.90,0M508.01,125.14a1.45,1.45 0 1,0 2.90,0a1.45,1.45 0 1,0 -2.90,0M510.47,122.68a1.45,1.45 0 1,0 2.90,0a1.45,1.45 0 1,0 -2.90,0M512.93,120.22a1.45,1.45 0 1,0 2.90,0a1.45,1.45 0 1,0 -2.90,0M515.39,117.76a1.45,1.45 0 1,0 2.90,0a1.45,1.45 0 1,0 -2.90,0M517.85,115.30a1.45,1.45 0 1,0 2.90,0a1.45,1.45 0 1,0 -2.90,0M520.31,112.84a1.45,1.45 0 1,0 2.90,0a1.45,1.45 0 1,0 -2.90,0M522.77,110.38a1.45,1.45 0 1,0 2.90,0a1.45,1.45 0 1,0 -2.90,0M525.23,107.92a1.45,1.45 0 1,0 2.90,0a1.45,1.45 0 1,0 -2.90,0M527.69,105.46a1.45,1.45 0 1,0 2.90,0a1.45,1.45 0 1,0 -2.90,0M530.15,103.00a1.45,1.45 0 1,0 2.90,0a1.45,1.45 0 1,0 -2.90,0M532.61,100.54a1.45,1.45 0 1,0 2.90,0a1.45,1.45 0 1,0 -2.90,0M458.81,179.26a1.45,1.45 0 1,0 2.90,0a1.45,1.45 0 1,0 -2.90,0M461.27,176.80a1.45,1.45 0 1,0 2.90,0a1.45,1.45 0 1,0 -2.90,0M463.73,174.34a1.45,1.45 0 1,0 2.90,0a1.45,1.45 0 1,0 -2.90,0M466.19,171.88a1.45,1.45 0 1,0 2.90,0a1.45,1.45 0 1,0 -2.90,0M468.65,169.42a1.45,1.45 0 1,0 2.90,0a1.45,1.45 0 1,0 -2.90,0M471.11,166.96a1.45,1.45 0 1,0 2.90,0a1.45,1.45 0 1,0 -2.90,0M473.57,164.50a1.45,1.45 0 1,0 2.90,0a1.45,1.45 0 1,0 -2.90,0M476.03,162.04a1.45,1.45 0 1,0 2.90,0a1.45,1.45 0 1,0 -2.90,0M478.49,159.58a1.45,1.45 0 1,0 2.90,0a1.45,1.45 0 1,0 -2.90,0M480.95,157.12a1.45,1.45 0 1,0 2.90,0a1.45,1.45 0 1,0 -2.90,0M483.41,154.66a1.45,1.45 0 1,0 2.90,0a1.45,1.45 0 1,0 -2.90,0M485.87,152.20a1.45,1.45 0 1,0 2.90,0a1.45,1.45 0 1,0 -2.90,0M488.33,149.74a1.45,1.45 0 1,0 2.90,0a1.45,1.45 0 1,0 -2.90,0M490.79,147.28a1.45,1.45 0 1,0 2.90,0a1.45,1.45 0 1,0 -2.90,0M493.25,144.82a1.45,1.45 0 1,0 2.90,0a1.45,1.45 0 1,0 -2.90,0M495.71,142.36a1.45,1.45 0 1,0 2.90,0a1.45,1.45 0 1,0 -2.90,0M498.17,139.90a1.45,1.45 0 1,0 2.90,0a1.45,1.45 0 1,0 -2.90,0M500.63,137.44a1.45,1.45 0 1,0 2.90,0a1.45,1.45 0 1,0 -2.90,0M503.09,134.98a1.45,1.45 0 1,0 2.90,0a1.45,1.45 0 1,0 -2.90,0M505.55,132.52a1.45,1.45 0 1,0 2.90,0a1.45,1.45 0 1,0 -2.90,0M508.01,130.06a1.45,1.45 0 1,0 2.90,0a1.45,1.45 0 1,0 -2.90,0M510.47,127.60a1.45,1.45 0 1,0 2.90,0a1.45,1.45 0 1,0 -2.90,0M512.93,125.14a1.45,1.45 0 1,0 2.90,0a1.45,1.45 0 1,0 -2.90,0M515.39,122.68a1.45,1.45 0 1,0 2.90,0a1.45,1.45 0 1,0 -2.90,0M517.85,120.22a1.45,1.45 0 1,0 2.90,0a1.45,1.45 0 1,0 -2.90,0M520.31,117.76a1.45,1.45 0 1,0 2.90,0a1.45,1.45 0 1,0 -2.90,0M522.77,115.30a1.45,1.45 0 1,0 2.90,0a1.45,1.45 0 1,0 -2.90,0M525.23,112.84a1.45,1.45 0 1,0 2.90,0a1.45,1.45 0 1,0 -2.90,0M527.69,110.38a1.45,1.45 0 1,0 2.90,0a1.45,1.45 0 1,0 -2.90,0M530.15,107.92a1.45,1.45 0 1,0 2.90,0a1.45,1.45 0 1,0 -2.90,0M532.61,105.46a1.45,1.45 0 1,0 2.90,0a1.45,1.45 0 1,0 -2.90,0M463.73,179.26a1.45,1.45 0 1,0 2.90,0a1.45,1.45 0 1,0 -2.90,0M466.19,176.80a1.45,1.45 0 1,0 2.90,0a1.45,1.45 0 1,0 -2.90,0M468.65,174.34a1.45,1.45 0 1,0 2.90,0a1.45,1.45 0 1,0 -2.90,0M471.11,171.88a1.45,1.45 0 1,0 2.90,0a1.45,1.45 0 1,0 -2.90,0M473.57,169.42a1.45,1.45 0 1,0 2.90,0a1.45,1.45 0 1,0 -2.90,0M476.03,166.96a1.45,1.45 0 1,0 2.90,0a1.45,1.45 0 1,0 -2.90,0M478.49,164.50a1.45,1.45 0 1,0 2.90,0a1.45,1.45 0 1,0 -2.90,0M480.95,162.04a1.45,1.45 0 1,0 2.90,0a1.45,1.45 0 1,0 -2.90,0M483.41,159.58a1.45,1.45 0 1,0 2.90,0a1.45,1.45 0 1,0 -2.90,0M485.87,157.12a1.45,1.45 0 1,0 2.90,0a1.45,1.45 0 1,0 -2.90,0M488.33,154.66a1.45,1.45 0 1,0 2.90,0a1.45,1.45 0 1,0 -2.90,0M490.79,152.20a1.45,1.45 0 1,0 2.90,0a1.45,1.45 0 1,0 -2.90,0M493.25,149.74a1.45,1.45 0 1,0 2.90,0a1.45,1.45 0 1,0 -2.90,0M495.71,147.28a1.45,1.45 0 1,0 2.90,0a1.45,1.45 0 1,0 -2.90,0M498.17,144.82a1.45,1.45 0 1,0 2.90,0a1.45,1.45 0 1,0 -2.90,0M500.63,142.36a1.45,1.45 0 1,0 2.90,0a1.45,1.45 0 1,0 -2.90,0M503.09,139.90a1.45,1.45 0 1,0 2.90,0a1.45,1.45 0 1,0 -2.90,0M505.55,137.44a1.45,1.45 0 1,0 2.90,0a1.45,1.45 0 1,0 -2.90,0M508.01,134.98a1.45,1.45 0 1,0 2.90,0a1.45,1.45 0 1,0 -2.90,0M510.47,132.52a1.45,1.45 0 1,0 2.90,0a1.45,1.45 0 1,0 -2.90,0M512.93,130.06a1.45,1.45 0 1,0 2.90,0a1.45,1.45 0 1,0 -2.90,0M515.39,127.60a1.45,1.45 0 1,0 2.90,0a1.45,1.45 0 1,0 -2.90,0M517.85,125.14a1.45,1.45 0 1,0 2.90,0a1.45,1.45 0 1,0 -2.90,0M520.31,122.68a1.45,1.45 0 1,0 2.90,0a1.45,1.45 0 1,0 -2.90,0M522.77,120.22a1.45,1.45 0 1,0 2.90,0a1.45,1.45 0 1,0 -2.90,0M525.23,117.76a1.45,1.45 0 1,0 2.90,0a1.45,1.45 0 1,0 -2.90,0M527.69,115.30a1.45,1.45 0 1,0 2.90,0a1.45,1.45 0 1,0 -2.90,0M530.15,112.84a1.45,1.45 0 1,0 2.90,0a1.45,1.45 0 1,0 -2.90,0M532.61,110.38a1.45,1.45 0 1,0 2.90,0a1.45,1.45 0 1,0 -2.90,0M468.65,179.26a1.45,1.45 0 1,0 2.90,0a1.45,1.45 0 1,0 -2.90,0M471.11,176.80a1.45,1.45 0 1,0 2.90,0a1.45,1.45 0 1,0 -2.90,0M473.57,174.34a1.45,1.45 0 1,0 2.90,0a1.45,1.45 0 1,0 -2.90,0M476.03,171.88a1.45,1.45 0 1,0 2.90,0a1.45,1.45 0 1,0 -2.90,0M478.49,169.42a1.45,1.45 0 1,0 2.90,0a1.45,1.45 0 1,0 -2.90,0M480.95,166.96a1.45,1.45 0 1,0 2.90,0a1.45,1.45 0 1,0 -2.90,0M483.41,164.50a1.45,1.45 0 1,0 2.90,0a1.45,1.45 0 1,0 -2.90,0M485.87,162.04a1.45,1.45 0 1,0 2.90,0a1.45,1.45 0 1,0 -2.90,0M488.33,159.58a1.45,1.45 0 1,0 2.90,0a1.45,1.45 0 1,0 -2.90,0M490.79,157.12a1.45,1.45 0 1,0 2.90,0a1.45,1.45 0 1,0 -2.90,0M493.25,154.66a1.45,1.45 0 1,0 2.90,0a1.45,1.45 0 1,0 -2.90,0M495.71,152.20a1.45,1.45 0 1,0 2.90,0a1.45,1.45 0 1,0 -2.90,0M498.17,149.74a1.45,1.45 0 1,0 2.90,0a1.45,1.45 0 1,0 -2.90,0M500.63,147.28a1.45,1.45 0 1,0 2.90,0a1.45,1.45 0 1,0 -2.90,0M503.09,144.82a1.45,1.45 0 1,0 2.90,0a1.45,1.45 0 1,0 -2.90,0M505.55,142.36a1.45,1.45 0 1,0 2.90,0a1.45,1.45 0 1,0 -2.90,0M508.01,139.90a1.45,1.45 0 1,0 2.90,0a1.45,1.45 0 1,0 -2.90,0M510.47,137.44a1.45,1.45 0 1,0 2.90,0a1.45,1.45 0 1,0 -2.90,0M512.93,134.98a1.45,1.45 0 1,0 2.90,0a1.45,1.45 0 1,0 -2.90,0M515.39,132.52a1.45,1.45 0 1,0 2.90,0a1.45,1.45 0 1,0 -2.90,0M517.85,130.06a1.45,1.45 0 1,0 2.90,0a1.45,1.45 0 1,0 -2.90,0M520.31,127.60a1.45,1.45 0 1,0 2.90,0a1.45,1.45 0 1,0 -2.90,0M522.77,125.14a1.45,1.45 0 1,0 2.90,0a1.45,1.45 0 1,0 -2.90,0M525.23,122.68a1.45,1.45 0 1,0 2.90,0a1.45,1.45 0 1,0 -2.90,0M527.69,120.22a1.45,1.45 0 1,0 2.90,0a1.45,1.45 0 1,0 -2.90,0M530.15,117.76a1.45,1.45 0 1,0 2.90,0a1.45,1.45 0 1,0 -2.90,0M532.61,115.30a1.45,1.45 0 1,0 2.90,0a1.45,1.45 0 1,0 -2.90,0M473.57,179.26a1.45,1.45 0 1,0 2.90,0a1.45,1.45 0 1,0 -2.90,0M476.03,176.80a1.45,1.45 0 1,0 2.90,0a1.45,1.45 0 1,0 -2.90,0M478.49,174.34a1.45,1.45 0 1,0 2.90,0a1.45,1.45 0 1,0 -2.90,0M480.95,171.88a1.45,1.45 0 1,0 2.90,0a1.45,1.45 0 1,0 -2.90,0M483.41,169.42a1.45,1.45 0 1,0 2.90,0a1.45,1.45 0 1,0 -2.90,0M485.87,166.96a1.45,1.45 0 1,0 2.90,0a1.45,1.45 0 1,0 -2.90,0M488.33,164.50a1.45,1.45 0 1,0 2.90,0a1.45,1.45 0 1,0 -2.90,0M490.79,162.04a1.45,1.45 0 1,0 2.90,0a1.45,1.45 0 1,0 -2.90,0M493.25,159.58a1.45,1.45 0 1,0 2.90,0a1.45,1.45 0 1,0 -2.90,0M495.71,157.12a1.45,1.45 0 1,0 2.90,0a1.45,1.45 0 1,0 -2.90,0M498.17,154.66a1.45,1.45 0 1,0 2.90,0a1.45,1.45 0 1,0 -2.90,0M500.63,152.20a1.45,1.45 0 1,0 2.90,0a1.45,1.45 0 1,0 -2.90,0M503.09,149.74a1.45,1.45 0 1,0 2.90,0a1.45,1.45 0 1,0 -2.90,0M505.55,147.28a1.45,1.45 0 1,0 2.90,0a1.45,1.45 0 1,0 -2.90,0M508.01,144.82a1.45,1.45 0 1,0 2.90,0a1.45,1.45 0 1,0 -2.90,0M510.47,142.36a1.45,1.45 0 1,0 2.90,0a1.45,1.45 0 1,0 -2.90,0M512.93,139.90a1.45,1.45 0 1,0 2.90,0a1.45,1.45 0 1,0 -2.90,0M515.39,137.44a1.45,1.45 0 1,0 2.90,0a1.45,1.45 0 1,0 -2.90,0M517.85,134.98a1.45,1.45 0 1,0 2.90,0a1.45,1.45 0 1,0 -2.90,0M520.31,132.52a1.45,1.45 0 1,0 2.90,0a1.45,1.45 0 1,0 -2.90,0M522.77,130.06a1.45,1.45 0 1,0 2.90,0a1.45,1.45 0 1,0 -2.90,0M525.23,127.60a1.45,1.45 0 1,0 2.90,0a1.45,1.45 0 1,0 -2.90,0M527.69,125.14a1.45,1.45 0 1,0 2.90,0a1.45,1.45 0 1,0 -2.90,0M530.15,122.68a1.45,1.45 0 1,0 2.90,0a1.45,1.45 0 1,0 -2.90,0M532.61,120.22a1.45,1.45 0 1,0 2.90,0a1.45,1.45 0 1,0 -2.90,0M478.49,179.26a1.45,1.45 0 1,0 2.90,0a1.45,1.45 0 1,0 -2.90,0M480.95,176.80a1.45,1.45 0 1,0 2.90,0a1.45,1.45 0 1,0 -2.90,0M483.41,174.34a1.45,1.45 0 1,0 2.90,0a1.45,1.45 0 1,0 -2.90,0M485.87,171.88a1.45,1.45 0 1,0 2.90,0a1.45,1.45 0 1,0 -2.90,0M488.33,169.42a1.45,1.45 0 1,0 2.90,0a1.45,1.45 0 1,0 -2.90,0M490.79,166.96a1.45,1.45 0 1,0 2.90,0a1.45,1.45 0 1,0 -2.90,0M493.25,164.50a1.45,1.45 0 1,0 2.90,0a1.45,1.45 0 1,0 -2.90,0M495.71,162.04a1.45,1.45 0 1,0 2.90,0a1.45,1.45 0 1,0 -2.90,0M498.17,159.58a1.45,1.45 0 1,0 2.90,0a1.45,1.45 0 1,0 -2.90,0M500.63,157.12a1.45,1.45 0 1,0 2.90,0a1.45,1.45 0 1,0 -2.90,0M503.09,154.66a1.45,1.45 0 1,0 2.90,0a1.45,1.45 0 1,0 -2.90,0M505.55,152.20a1.45,1.45 0 1,0 2.90,0a1.45,1.45 0 1,0 -2.90,0M508.01,149.74a1.45,1.45 0 1,0 2.90,0a1.45,1.45 0 1,0 -2.90,0M510.47,147.28a1.45,1.45 0 1,0 2.90,0a1.45,1.45 0 1,0 -2.90,0M512.93,144.82a1.45,1.45 0 1,0 2.90,0a1.45,1.45 0 1,0 -2.90,0M515.39,142.36a1.45,1.45 0 1,0 2.90,0a1.45,1.45 0 1,0 -2.90,0M517.85,139.90a1.45,1.45 0 1,0 2.90,0a1.45,1.45 0 1,0 -2.90,0M520.31,137.44a1.45,1.45 0 1,0 2.90,0a1.45,1.45 0 1,0 -2.90,0M522.77,134.98a1.45,1.45 0 1,0 2.90,0a1.45,1.45 0 1,0 -2.90,0M525.23,132.52a1.45,1.45 0 1,0 2.90,0a1.45,1.45 0 1,0 -2.90,0M527.69,130.06a1.45,1.45 0 1,0 2.90,0a1.45,1.45 0 1,0 -2.90,0M530.15,127.60a1.45,1.45 0 1,0 2.90,0a1.45,1.45 0 1,0 -2.90,0M532.61,125.14a1.45,1.45 0 1,0 2.90,0a1.45,1.45 0 1,0 -2.90,0M483.41,179.26a1.45,1.45 0 1,0 2.90,0a1.45,1.45 0 1,0 -2.90,0M485.87,176.80a1.45,1.45 0 1,0 2.90,0a1.45,1.45 0 1,0 -2.90,0M488.33,174.34a1.45,1.45 0 1,0 2.90,0a1.45,1.45 0 1,0 -2.90,0M490.79,171.88a1.45,1.45 0 1,0 2.90,0a1.45,1.45 0 1,0 -2.90,0M493.25,169.42a1.45,1.45 0 1,0 2.90,0a1.45,1.45 0 1,0 -2.90,0M495.71,166.96a1.45,1.45 0 1,0 2.90,0a1.45,1.45 0 1,0 -2.90,0M498.17,164.50a1.45,1.45 0 1,0 2.90,0a1.45,1.45 0 1,0 -2.90,0M500.63,162.04a1.45,1.45 0 1,0 2.90,0a1.45,1.45 0 1,0 -2.90,0M503.09,159.58a1.45,1.45 0 1,0 2.90,0a1.45,1.45 0 1,0 -2.90,0M505.55,157.12a1.45,1.45 0 1,0 2.90,0a1.45,1.45 0 1,0 -2.90,0M508.01,154.66a1.45,1.45 0 1,0 2.90,0a1.45,1.45 0 1,0 -2.90,0M510.47,152.20a1.45,1.45 0 1,0 2.90,0a1.45,1.45 0 1,0 -2.90,0M512.93,149.74a1.45,1.45 0 1,0 2.90,0a1.45,1.45 0 1,0 -2.90,0M515.39,147.28a1.45,1.45 0 1,0 2.90,0a1.45,1.45 0 1,0 -2.90,0M517.85,144.82a1.45,1.45 0 1,0 2.90,0a1.45,1.45 0 1,0 -2.90,0M520.31,142.36a1.45,1.45 0 1,0 2.90,0a1.45,1.45 0 1,0 -2.90,0M522.77,139.90a1.45,1.45 0 1,0 2.90,0a1.45,1.45 0 1,0 -2.90,0M525.23,137.44a1.45,1.45 0 1,0 2.90,0a1.45,1.45 0 1,0 -2.90,0M527.69,134.98a1.45,1.45 0 1,0 2.90,0a1.45,1.45 0 1,0 -2.90,0M530.15,132.52a1.45,1.45 0 1,0 2.90,0a1.45,1.45 0 1,0 -2.90,0M532.61,130.06a1.45,1.45 0 1,0 2.90,0a1.45,1.45 0 1,0 -2.90,0M488.33,179.26a1.45,1.45 0 1,0 2.90,0a1.45,1.45 0 1,0 -2.90,0M490.79,176.80a1.45,1.45 0 1,0 2.90,0a1.45,1.45 0 1,0 -2.90,0M493.25,174.34a1.45,1.45 0 1,0 2.90,0a1.45,1.45 0 1,0 -2.90,0M495.71,171.88a1.45,1.45 0 1,0 2.90,0a1.45,1.45 0 1,0 -2.90,0M498.17,169.42a1.45,1.45 0 1,0 2.90,0a1.45,1.45 0 1,0 -2.90,0M500.63,166.96a1.45,1.45 0 1,0 2.90,0a1.45,1.45 0 1,0 -2.90,0M503.09,164.50a1.45,1.45 0 1,0 2.90,0a1.45,1.45 0 1,0 -2.90,0M505.55,162.04a1.45,1.45 0 1,0 2.90,0a1.45,1.45 0 1,0 -2.90,0M508.01,159.58a1.45,1.45 0 1,0 2.90,0a1.45,1.45 0 1,0 -2.90,0M510.47,157.12a1.45,1.45 0 1,0 2.90,0a1.45,1.45 0 1,0 -2.90,0M512.93,154.66a1.45,1.45 0 1,0 2.90,0a1.45,1.45 0 1,0 -2.90,0M515.39,152.20a1.45,1.45 0 1,0 2.90,0a1.45,1.45 0 1,0 -2.90,0M517.85,149.74a1.45,1.45 0 1,0 2.90,0a1.45,1.45 0 1,0 -2.90,0M520.31,147.28a1.45,1.45 0 1,0 2.90,0a1.45,1.45 0 1,0 -2.90,0M522.77,144.82a1.45,1.45 0 1,0 2.90,0a1.45,1.45 0 1,0 -2.90,0M525.23,142.36a1.45,1.45 0 1,0 2.90,0a1.45,1.45 0 1,0 -2.90,0M527.69,139.90a1.45,1.45 0 1,0 2.90,0a1.45,1.45 0 1,0 -2.90,0M530.15,137.44a1.45,1.45 0 1,0 2.90,0a1.45,1.45 0 1,0 -2.90,0M532.61,134.98a1.45,1.45 0 1,0 2.90,0a1.45,1.45 0 1,0 -2.90,0M493.25,179.26a1.45,1.45 0 1,0 2.90,0a1.45,1.45 0 1,0 -2.90,0M495.71,176.80a1.45,1.45 0 1,0 2.90,0a1.45,1.45 0 1,0 -2.90,0M498.17,174.34a1.45,1.45 0 1,0 2.90,0a1.45,1.45 0 1,0 -2.90,0M500.63,171.88a1.45,1.45 0 1,0 2.90,0a1.45,1.45 0 1,0 -2.90,0M503.09,169.42a1.45,1.45 0 1,0 2.90,0a1.45,1.45 0 1,0 -2.90,0M505.55,166.96a1.45,1.45 0 1,0 2.90,0a1.45,1.45 0 1,0 -2.90,0M508.01,164.50a1.45,1.45 0 1,0 2.90,0a1.45,1.45 0 1,0 -2.90,0M510.47,162.04a1.45,1.45 0 1,0 2.90,0a1.45,1.45 0 1,0 -2.90,0M512.93,159.58a1.45,1.45 0 1,0 2.90,0a1.45,1.45 0 1,0 -2.90,0M515.39,157.12a1.45,1.45 0 1,0 2.90,0a1.45,1.45 0 1,0 -2.90,0M517.85,154.66a1.45,1.45 0 1,0 2.90,0a1.45,1.45 0 1,0 -2.90,0M520.31,152.20a1.45,1.45 0 1,0 2.90,0a1.45,1.45 0 1,0 -2.90,0M522.77,149.74a1.45,1.45 0 1,0 2.90,0a1.45,1.45 0 1,0 -2.90,0M525.23,147.28a1.45,1.45 0 1,0 2.90,0a1.45,1.45 0 1,0 -2.90,0M527.69,144.82a1.45,1.45 0 1,0 2.90,0a1.45,1.45 0 1,0 -2.90,0M530.15,142.36a1.45,1.45 0 1,0 2.90,0a1.45,1.45 0 1,0 -2.90,0M532.61,139.90a1.45,1.45 0 1,0 2.90,0a1.45,1.45 0 1,0 -2.90,0M498.17,179.26a1.45,1.45 0 1,0 2.90,0a1.45,1.45 0 1,0 -2.90,0M500.63,176.80a1.45,1.45 0 1,0 2.90,0a1.45,1.45 0 1,0 -2.90,0M503.09,174.34a1.45,1.45 0 1,0 2.90,0a1.45,1.45 0 1,0 -2.90,0M505.55,171.88a1.45,1.45 0 1,0 2.90,0a1.45,1.45 0 1,0 -2.90,0M508.01,169.42a1.45,1.45 0 1,0 2.90,0a1.45,1.45 0 1,0 -2.90,0M510.47,166.96a1.45,1.45 0 1,0 2.90,0a1.45,1.45 0 1,0 -2.90,0M512.93,164.50a1.45,1.45 0 1,0 2.90,0a1.45,1.45 0 1,0 -2.90,0M515.39,162.04a1.45,1.45 0 1,0 2.90,0a1.45,1.45 0 1,0 -2.90,0M517.85,159.58a1.45,1.45 0 1,0 2.90,0a1.45,1.45 0 1,0 -2.90,0M520.31,157.12a1.45,1.45 0 1,0 2.90,0a1.45,1.45 0 1,0 -2.90,0M522.77,154.66a1.45,1.45 0 1,0 2.90,0a1.45,1.45 0 1,0 -2.90,0M525.23,152.20a1.45,1.45 0 1,0 2.90,0a1.45,1.45 0 1,0 -2.90,0M527.69,149.74a1.45,1.45 0 1,0 2.90,0a1.45,1.45 0 1,0 -2.90,0M530.15,147.28a1.45,1.45 0 1,0 2.90,0a1.45,1.45 0 1,0 -2.90,0M532.61,144.82a1.45,1.45 0 1,0 2.90,0a1.45,1.45 0 1,0 -2.90,0M503.09,179.26a1.45,1.45 0 1,0 2.90,0a1.45,1.45 0 1,0 -2.90,0M505.55,176.80a1.45,1.45 0 1,0 2.90,0a1.45,1.45 0 1,0 -2.90,0M508.01,174.34a1.45,1.45 0 1,0 2.90,0a1.45,1.45 0 1,0 -2.90,0M510.47,171.88a1.45,1.45 0 1,0 2.90,0a1.45,1.45 0 1,0 -2.90,0M512.93,169.42a1.45,1.45 0 1,0 2.90,0a1.45,1.45 0 1,0 -2.90,0M515.39,166.96a1.45,1.45 0 1,0 2.90,0a1.45,1.45 0 1,0 -2.90,0M517.85,164.50a1.45,1.45 0 1,0 2.90,0a1.45,1.45 0 1,0 -2.90,0M520.31,162.04a1.45,1.45 0 1,0 2.90,0a1.45,1.45 0 1,0 -2.90,0M522.77,159.58a1.45,1.45 0 1,0 2.90,0a1.45,1.45 0 1,0 -2.90,0M525.23,157.12a1.45,1.45 0 1,0 2.90,0a1.45,1.45 0 1,0 -2.90,0M527.69,154.66a1.45,1.45 0 1,0 2.90,0a1.45,1.45 0 1,0 -2.90,0M530.15,152.20a1.45,1.45 0 1,0 2.90,0a1.45,1.45 0 1,0 -2.90,0M532.61,149.74a1.45,1.45 0 1,0 2.90,0a1.45,1.45 0 1,0 -2.90,0M508.01,179.26a1.45,1.45 0 1,0 2.90,0a1.45,1.45 0 1,0 -2.90,0M510.47,176.80a1.45,1.45 0 1,0 2.90,0a1.45,1.45 0 1,0 -2.90,0M512.93,174.34a1.45,1.45 0 1,0 2.90,0a1.45,1.45 0 1,0 -2.90,0M515.39,171.88a1.45,1.45 0 1,0 2.90,0a1.45,1.45 0 1,0 -2.90,0M517.85,169.42a1.45,1.45 0 1,0 2.90,0a1.45,1.45 0 1,0 -2.90,0M520.31,166.96a1.45,1.45 0 1,0 2.90,0a1.45,1.45 0 1,0 -2.90,0M522.77,164.50a1.45,1.45 0 1,0 2.90,0a1.45,1.45 0 1,0 -2.90,0M525.23,162.04a1.45,1.45 0 1,0 2.90,0a1.45,1.45 0 1,0 -2.90,0M527.69,159.58a1.45,1.45 0 1,0 2.90,0a1.45,1.45 0 1,0 -2.90,0M530.15,157.12a1.45,1.45 0 1,0 2.90,0a1.45,1.45 0 1,0 -2.90,0M532.61,154.66a1.45,1.45 0 1,0 2.90,0a1.45,1.45 0 1,0 -2.90,0M512.93,179.26a1.45,1.45 0 1,0 2.90,0a1.45,1.45 0 1,0 -2.90,0M515.39,176.80a1.45,1.45 0 1,0 2.90,0a1.45,1.45 0 1,0 -2.90,0M517.85,174.34a1.45,1.45 0 1,0 2.90,0a1.45,1.45 0 1,0 -2.90,0M520.31,171.88a1.45,1.45 0 1,0 2.90,0a1.45,1.45 0 1,0 -2.90,0M522.77,169.42a1.45,1.45 0 1,0 2.90,0a1.45,1.45 0 1,0 -2.90,0M525.23,166.96a1.45,1.45 0 1,0 2.90,0a1.45,1.45 0 1,0 -2.90,0M527.69,164.50a1.45,1.45 0 1,0 2.90,0a1.45,1.45 0 1,0 -2.90,0M530.15,162.04a1.45,1.45 0 1,0 2.90,0a1.45,1.45 0 1,0 -2.90,0M532.61,159.58a1.45,1.45 0 1,0 2.90,0a1.45,1.45 0 1,0 -2.90,0M517.85,179.26a1.45,1.45 0 1,0 2.90,0a1.45,1.45 0 1,0 -2.90,0M520.31,176.80a1.45,1.45 0 1,0 2.90,0a1.45,1.45 0 1,0 -2.90,0M522.77,174.34a1.45,1.45 0 1,0 2.90,0a1.45,1.45 0 1,0 -2.90,0M525.23,171.88a1.45,1.45 0 1,0 2.90,0a1.45,1.45 0 1,0 -2.90,0M527.69,169.42a1.45,1.45 0 1,0 2.90,0a1.45,1.45 0 1,0 -2.90,0M530.15,166.96a1.45,1.45 0 1,0 2.90,0a1.45,1.45 0 1,0 -2.90,0M532.61,164.50a1.45,1.45 0 1,0 2.90,0a1.45,1.45 0 1,0 -2.90,0M522.77,179.26a1.45,1.45 0 1,0 2.90,0a1.45,1.45 0 1,0 -2.90,0M525.23,176.80a1.45,1.45 0 1,0 2.90,0a1.45,1.45 0 1,0 -2.90,0M527.69,174.34a1.45,1.45 0 1,0 2.90,0a1.45,1.45 0 1,0 -2.90,0M530.15,171.88a1.45,1.45 0 1,0 2.90,0a1.45,1.45 0 1,0 -2.90,0M532.61,169.42a1.45,1.45 0 1,0 2.90,0a1.45,1.45 0 1,0 -2.90,0M527.69,179.26a1.45,1.45 0 1,0 2.90,0a1.45,1.45 0 1,0 -2.90,0M530.15,176.80a1.45,1.45 0 1,0 2.90,0a1.45,1.45 0 1,0 -2.90,0M532.61,174.34a1.45,1.45 0 1,0 2.90,0a1.45,1.45 0 1,0 -2.90,0M532.61,179.26a1.45,1.45 0 1,0 2.90,0a1.45,1.45 0 1,0 -2.90,0" fill="#fff" clip-path="url(#cc)"/>
<line x1="433.3" y1="175.5" x2="524.0" y2="178.4" stroke="#f00" stroke-width="2" stroke-dasharray="13 5.5" stroke-dashoffset="-1.7"/>
<path d="M49.0,127.5 L49.0,286.5 L534.0,286.5" stroke="#000" stroke-width="2.2" fill="none"/>
<path d="M433.3,12.0 L534.0,12.0 L534.0,286.5" stroke="#000" stroke-width="2.2" fill="none"/>
<path d="M49.0,127.5 L49.0,12.0 L433.6,12.0 L433.6,175.3" stroke="#f00" stroke-width="2.4" fill="none"/>
<path d="M50.0,259.1L54.0,259.1M50.0,231.6L54.0,231.6M50.0,204.2L54.0,204.2M50.0,176.7L54.0,176.7M50.0,149.2L54.0,149.2M50.0,121.8L54.0,121.8M50.0,94.3L54.0,94.3M50.0,66.9L54.0,66.9M50.0,39.4L54.0,39.4M67.3,285.5L67.3,281.5M103.9,285.5L103.9,281.5M140.5,285.5L140.5,281.5M177.1,285.5L177.1,281.5M213.7,285.5L213.7,281.5M250.3,285.5L250.3,281.5M286.9,285.5L286.9,281.5M323.5,285.5L323.5,281.5M360.1,285.5L360.1,281.5M396.7,285.5L396.7,281.5M433.3,285.5L433.3,281.5M469.9,285.5L469.9,281.5M506.5,285.5L506.5,281.5" stroke="#000" stroke-width="1.6" fill="none"/>
<g fill="#0000ff"><circle cx="273.8" cy="80.6" r="2.35"/><circle cx="269.2" cy="82.7" r="2.35"/><circle cx="276.8" cy="83.1" r="2.35"/><circle cx="268.8" cy="85.6" r="2.35"/><circle cx="271.3" cy="87.7" r="2.35"/><circle cx="277.6" cy="85.2" r="2.35"/><circle cx="280.1" cy="86.9" r="2.35"/><circle cx="286.8" cy="83.9" r="2.35"/><circle cx="283.4" cy="87.7" r="2.35"/><circle cx="289.3" cy="87.7" r="2.35"/><circle cx="291.8" cy="89.8" r="2.35"/><circle cx="281.8" cy="90.6" r="2.35"/><circle cx="286.8" cy="91.5" r="2.35"/><circle cx="291.0" cy="93.6" r="2.35"/><circle cx="274.2" cy="93.6" r="2.35"/><circle cx="276.8" cy="94.0" r="2.35"/><circle cx="265.0" cy="91.0" r="2.35"/><circle cx="260.5" cy="94.0" r="2.35"/><circle cx="267.6" cy="96.5" r="2.35"/><circle cx="271.3" cy="98.2" r="2.35"/><circle cx="263.4" cy="100.7" r="2.35"/><circle cx="255.9" cy="102.8" r="2.35"/><circle cx="287.6" cy="95.2" r="2.35"/><circle cx="291.8" cy="96.9" r="2.35"/><circle cx="286.0" cy="98.6" r="2.35"/><circle cx="290.1" cy="100.2" r="2.35"/><circle cx="285.1" cy="101.9" r="2.35"/><circle cx="291.8" cy="102.8" r="2.35"/><circle cx="256.0" cy="104.0" r="2.35"/><circle cx="259.0" cy="103.5" r="2.35"/><circle cx="255.5" cy="107.0" r="2.35"/><circle cx="258.5" cy="107.5" r="2.35"/><circle cx="265.0" cy="108.9" r="2.35"/><circle cx="265.0" cy="111.4" r="2.35"/><circle cx="263.0" cy="101.0" r="2.35"/><circle cx="266.5" cy="100.0" r="2.35"/><circle cx="270.0" cy="101.0" r="2.35"/><circle cx="273.5" cy="102.5" r="2.35"/><circle cx="273.5" cy="106.0" r="2.35"/><circle cx="272.5" cy="110.0" r="2.35"/><circle cx="273.0" cy="113.5" r="2.35"/><circle cx="255.5" cy="114.0" r="2.35"/><circle cx="257.5" cy="111.5" r="2.35"/><circle cx="258.4" cy="118.9" r="2.35"/><circle cx="262.0" cy="117.5" r="2.35"/><circle cx="265.0" cy="120.6" r="2.35"/><circle cx="268.0" cy="120.0" r="2.35"/><circle cx="270.9" cy="123.1" r="2.35"/><circle cx="270.0" cy="118.9" r="2.35"/><circle cx="267.0" cy="116.0" r="2.35"/><circle cx="261.0" cy="115.0" r="2.35"/><circle cx="275.1" cy="114.7" r="2.35"/><circle cx="278.0" cy="112.0" r="2.35"/><circle cx="281.0" cy="110.0" r="2.35"/><circle cx="283.4" cy="107.2" r="2.35"/><circle cx="285.5" cy="105.0" r="2.35"/><circle cx="287.6" cy="102.2" r="2.35"/><circle cx="289.5" cy="100.5" r="2.35"/><circle cx="291.8" cy="98.8" r="2.35"/><circle cx="277.0" cy="116.0" r="2.35"/><circle cx="280.0" cy="113.5" r="2.35"/><circle cx="270.0" cy="116.0" r="2.35"/><circle cx="271.0" cy="115.5" r="2.35"/><circle cx="265.0" cy="117.0" r="2.35"/><circle cx="259.5" cy="114.5" r="2.35"/><circle cx="258.0" cy="111.0" r="2.35"/><circle cx="279.0" cy="109.0" r="2.35"/><circle cx="282.0" cy="106.0" r="2.35"/><circle cx="284.5" cy="103.0" r="2.35"/><circle cx="287.0" cy="100.0" r="2.35"/><circle cx="289.0" cy="97.5" r="2.35"/><circle cx="276.0" cy="112.5" r="2.35"/><circle cx="273.5" cy="119.0" r="2.35"/><circle cx="276.5" cy="117.5" r="2.35"/></g>
<g fill="#ff00ff"><circle cx="396.5" cy="61.8" r="2.4"/><circle cx="398.5" cy="62.6" r="2.4"/><circle cx="400.5" cy="61.9" r="2.4"/><circle cx="402.5" cy="62.8" r="2.4"/><circle cx="404.0" cy="64.2" r="2.4"/><circle cx="406.0" cy="64.6" r="2.4"/><circle cx="407.5" cy="66.3" r="2.4"/><circle cx="409.5" cy="66.9" r="2.4"/><circle cx="411.0" cy="68.4" r="2.4"/><circle cx="413.0" cy="68.6" r="2.4"/><circle cx="414.5" cy="70.3" r="2.4"/><circle cx="416.5" cy="70.4" r="2.4"/><circle cx="418.0" cy="71.9" r="2.4"/><circle cx="420.0" cy="71.9" r="2.4"/><circle cx="421.5" cy="73.6" r="2.4"/><circle cx="423.5" cy="73.3" r="2.4"/><circle cx="425.0" cy="75.2" r="2.4"/><circle cx="426.8" cy="74.6" r="2.4"/><circle cx="427.5" cy="77.2" r="2.4"/><circle cx="428.2" cy="79.3" r="2.4"/><circle cx="427.3" cy="80.6" r="2.4"/><circle cx="429.3" cy="76.8" r="2.4"/><circle cx="404.5" cy="62.2" r="2.4"/><circle cx="417.5" cy="69.4" r="2.4"/><circle cx="422.0" cy="75.4" r="2.4"/></g>
<g fill="#11ee11"><circle cx="368.5" cy="142.8" r="2.25"/><circle cx="375.7" cy="142.2" r="2.25"/><circle cx="376.8" cy="146.4" r="2.25"/><circle cx="384.0" cy="145.8" r="2.25"/><circle cx="388.2" cy="147.5" r="2.25"/><circle cx="366.7" cy="149.3" r="2.25"/><circle cx="360.1" cy="151.1" r="2.25"/><circle cx="371.5" cy="150.5" r="2.25"/><circle cx="379.8" cy="149.9" r="2.25"/><circle cx="385.8" cy="151.1" r="2.25"/><circle cx="391.8" cy="152.3" r="2.25"/><circle cx="396.0" cy="152.9" r="2.25"/><circle cx="357.2" cy="157.1" r="2.25"/><circle cx="365.5" cy="157.7" r="2.25"/><circle cx="370.9" cy="158.9" r="2.25"/><circle cx="375.7" cy="157.1" r="2.25"/><circle cx="378.6" cy="160.7" r="2.25"/><circle cx="382.2" cy="155.9" r="2.25"/><circle cx="386.4" cy="160.1" r="2.25"/><circle cx="385.8" cy="163.1" r="2.25"/><circle cx="394.2" cy="160.7" r="2.25"/><circle cx="393.6" cy="165.4" r="2.25"/><circle cx="355.4" cy="159.5" r="2.25"/><circle cx="363.1" cy="164.8" r="2.25"/><circle cx="364.3" cy="166.6" r="2.25"/><circle cx="373.9" cy="152.9" r="2.25"/><circle cx="369.0" cy="154.7" r="2.25"/><circle cx="387.7" cy="147.7" r="2.25"/><circle cx="391.7" cy="150.4" r="2.25"/><circle cx="395.8" cy="152.4" r="2.25"/><circle cx="387.7" cy="153.0" r="2.25"/><circle cx="390.4" cy="155.8" r="2.25"/><circle cx="386.3" cy="158.4" r="2.25"/><circle cx="386.3" cy="162.5" r="2.25"/><circle cx="397.1" cy="157.8" r="2.25"/><circle cx="398.4" cy="161.1" r="2.25"/><circle cx="394.4" cy="163.8" r="2.25"/><circle cx="395.8" cy="167.2" r="2.25"/><circle cx="402.5" cy="163.8" r="2.25"/><circle cx="406.5" cy="162.5" r="2.25"/><circle cx="409.2" cy="165.2" r="2.25"/><circle cx="403.8" cy="168.5" r="2.25"/><circle cx="411.9" cy="167.8" r="2.25"/><circle cx="417.3" cy="165.2" r="2.25"/><circle cx="420.0" cy="166.5" r="2.25"/><circle cx="422.6" cy="168.5" r="2.25"/><circle cx="426.7" cy="167.8" r="2.25"/><circle cx="429.4" cy="169.9" r="2.25"/><circle cx="425.3" cy="170.5" r="2.25"/><circle cx="418.6" cy="169.9" r="2.25"/><circle cx="407.8" cy="170.5" r="2.25"/><circle cx="401.1" cy="170.5" r="2.25"/><circle cx="414.6" cy="178.6" r="2.25"/><circle cx="417.3" cy="180.6" r="2.25"/><circle cx="424.0" cy="178.0" r="2.25"/><circle cx="425.3" cy="181.3" r="2.25"/><circle cx="428.0" cy="177.3" r="2.25"/><circle cx="422.6" cy="184.0" r="2.25"/><circle cx="415.9" cy="182.6" r="2.25"/><circle cx="398.0" cy="164.0" r="2.25"/><circle cx="401.0" cy="167.0" r="2.25"/><circle cx="405.0" cy="165.0" r="2.25"/><circle cx="408.0" cy="168.0" r="2.25"/><circle cx="412.0" cy="165.0" r="2.25"/><circle cx="415.0" cy="168.0" r="2.25"/><circle cx="419.0" cy="168.0" r="2.25"/><circle cx="422.0" cy="171.0" r="2.25"/><circle cx="427.0" cy="171.0" r="2.25"/><circle cx="430.0" cy="172.0" r="2.25"/><circle cx="413.0" cy="171.0" r="2.25"/><circle cx="404.0" cy="171.0" r="2.25"/><circle cx="396.0" cy="170.0" r="2.25"/><circle cx="392.0" cy="168.0" r="2.25"/><circle cx="390.0" cy="162.0" r="2.25"/><circle cx="389.0" cy="158.0" r="2.25"/><circle cx="393.0" cy="157.0" r="2.25"/><circle cx="414.0" cy="180.0" r="2.25"/><circle cx="418.0" cy="183.0" r="2.25"/><circle cx="421.0" cy="181.0" r="2.25"/><circle cx="424.0" cy="184.0" r="2.25"/><circle cx="427.0" cy="180.0" r="2.25"/><circle cx="420.0" cy="178.0" r="2.25"/><circle cx="426.0" cy="177.0" r="2.25"/><circle cx="417.0" cy="176.0" r="2.25"/></g>
<g fill="#ff0000" stroke="#a00000" stroke-width="0.8"><circle cx="49.0" cy="127.5" r="3.6"/><circle cx="67.3" cy="130.4" r="3.6"/><circle cx="85.6" cy="134.8" r="3.6"/><circle cx="103.9" cy="138.2" r="3.6"/><circle cx="122.2" cy="140.8" r="3.6"/><circle cx="140.5" cy="142.9" r="3.6"/><circle cx="158.8" cy="146.0" r="3.6"/><circle cx="177.1" cy="148.2" r="3.6"/><circle cx="195.4" cy="150.8" r="3.6"/><circle cx="213.7" cy="153.1" r="3.6"/><circle cx="232.0" cy="154.4" r="3.6"/><circle cx="250.3" cy="156.4" r="3.6"/><circle cx="268.6" cy="158.0" r="3.6"/><circle cx="286.9" cy="160.6" r="3.6"/><circle cx="305.2" cy="162.9" r="3.6"/><circle cx="323.5" cy="165.2" r="3.6"/><circle cx="341.8" cy="168.1" r="3.6"/><circle cx="360.1" cy="170.1" r="3.6"/><circle cx="378.4" cy="170.8" r="3.6"/><circle cx="396.7" cy="172.3" r="3.6"/><circle cx="415.0" cy="173.2" r="3.6"/><circle cx="433.3" cy="175.3" r="3.6"/></g>
<rect x="76.7" y="191.8" width="152.6" height="56.9" fill="#fff" stroke="#b4b4b4" stroke-width="1"/>
<rect x="80.8" y="196.3" width="28" height="13" fill="#fff" stroke="#999" stroke-width="1"/>
<rect x="80.6" y="212.9" width="28.3" height="13.7" fill="#ec2a3c"/>
<clipPath id="sc"><rect x="80.6" y="212.9" width="28.3" height="13.7"/></clipPath>
<path d="M77.77,213.24a1.45,1.45 0 1,0 2.90,0a1.45,1.45 0 1,0 -2.90,0M77.77,218.16a1.45,1.45 0 1,0 2.90,0a1.45,1.45 0 1,0 -2.90,0M80.23,215.70a1.45,1.45 0 1,0 2.90,0a1.45,1.45 0 1,0 -2.90,0M82.69,213.24a1.45,1.45 0 1,0 2.90,0a1.45,1.45 0 1,0 -2.90,0M77.77,223.08a1.45,1.45 0 1,0 2.90,0a1.45,1.45 0 1,0 -2.90,0M80.23,220.62a1.45,1.45 0 1,0 2.90,0a1.45,1.45 0 1,0 -2.90,0M82.69,218.16a1.45,1.45 0 1,0 2.90,0a1.45,1.45 0 1,0 -2.90,0M85.15,215.70a1.45,1.45 0 1,0 2.90,0a1.45,1.45 0 1,0 -2.90,0M87.61,213.24a1.45,1.45 0 1,0 2.90,0a1.45,1.45 0 1,0 -2.90,0M77.77,228.00a1.45,1.45 0 1,0 2.90,0a1.45,1.45 0 1,0 -2.90,0M80.23,225.54a1.45,1.45 0 1,0 2.90,0a1.45,1.45 0 1,0 -2.90,0M82.69,223.08a1.45,1.45 0 1,0 2.90,0a1.45,1.45 0 1,0 -2.90,0M85.15,220.62a1.45,1.45 0 1,0 2.90,0a1.45,1.45 0 1,0 -2.90,0M87.61,218.16a1.45,1.45 0 1,0 2.90,0a1.45,1.45 0 1,0 -2.90,0M90.07,215.70a1.45,1.45 0 1,0 2.90,0a1.45,1.45 0 1,0 -2.90,0M92.53,213.24a1.45,1.45 0 1,0 2.90,0a1.45,1.45 0 1,0 -2.90,0M82.69,228.00a1.45,1.45 0 1,0 2.90,0a1.45,1.45 0 1,0 -2.90,0M85.15,225.54a1.45,1.45 0 1,0 2.90,0a1.45,1.45 0 1,0 -2.90,0M87.61,223.08a1.45,1.45 0 1,0 2.90,0a1.45,1.45 0 1,0 -2.90,0M90.07,220.62a1.45,1.45 0 1,0 2.90,0a1.45,1.45 0 1,0 -2.90,0M92.53,218.16a1.45,1.45 0 1,0 2.90,0a1.45,1.45 0 1,0 -2.90,0M94.99,215.70a1.45,1.45 0 1,0 2.90,0a1.45,1.45 0 1,0 -2.90,0M97.45,213.24a1.45,1.45 0 1,0 2.90,0a1.45,1.45 0 1,0 -2.90,0M87.61,228.00a1.45,1.45 0 1,0 2.90,0a1.45,1.45 0 1,0 -2.90,0M90.07,225.54a1.45,1.45 0 1,0 2.90,0a1.45,1.45 0 1,0 -2.90,0M92.53,223.08a1.45,1.45 0 1,0 2.90,0a1.45,1.45 0 1,0 -2.90,0M94.99,220.62a1.45,1.45 0 1,0 2.90,0a1.45,1.45 0 1,0 -2.90,0M97.45,218.16a1.45,1.45 0 1,0 2.90,0a1.45,1.45 0 1,0 -2.90,0M99.91,215.70a1.45,1.45 0 1,0 2.90,0a1.45,1.45 0 1,0 -2.90,0M102.37,213.24a1.45,1.45 0 1,0 2.90,0a1.45,1.45 0 1,0 -2.90,0M92.53,228.00a1.45,1.45 0 1,0 2.90,0a1.45,1.45 0 1,0 -2.90,0M94.99,225.54a1.45,1.45 0 1,0 2.90,0a1.45,1.45 0 1,0 -2.90,0M97.45,223.08a1.45,1.45 0 1,0 2.90,0a1.45,1.45 0 1,0 -2.90,0M99.91,220.62a1.45,1.45 0 1,0 2.90,0a1.45,1.45 0 1,0 -2.90,0M102.37,218.16a1.45,1.45 0 1,0 2.90,0a1.45,1.45 0 1,0 -2.90,0M104.83,215.70a1.45,1.45 0 1,0 2.90,0a1.45,1.45 0 1,0 -2.90,0M107.29,213.24a1.45,1.45 0 1,0 2.90,0a1.45,1.45 0 1,0 -2.90,0M97.45,228.00a1.45,1.45 0 1,0 2.90,0a1.45,1.45 0 1,0 -2.90,0M99.91,225.54a1.45,1.45 0 1,0 2.90,0a1.45,1.45 0 1,0 -2.90,0M102.37,223.08a1.45,1.45 0 1,0 2.90,0a1.45,1.45 0 1,0 -2.90,0M104.83,220.62a1.45,1.45 0 1,0 2.90,0a1.45,1.45 0 1,0 -2.90,0M107.29,218.16a1.45,1.45 0 1,0 2.90,0a1.45,1.45 0 1,0 -2.90,0M102.37,228.00a1.45,1.45 0 1,0 2.90,0a1.45,1.45 0 1,0 -2.90,0M104.83,225.54a1.45,1.45 0 1,0 2.90,0a1.45,1.45 0 1,0 -2.90,0M107.29,223.08a1.45,1.45 0 1,0 2.90,0a1.45,1.45 0 1,0 -2.90,0M107.29,228.00a1.45,1.45 0 1,0 2.90,0a1.45,1.45 0 1,0 -2.90,0" fill="#fff" clip-path="url(#sc)"/>
<rect x="80.8" y="231" width="28" height="13" fill="#fff" stroke="#999" stroke-width="1"/>
<path d="M43.05,270.00L83.05,230.00M50.50,270.00L90.50,230.00M57.95,270.00L97.95,230.00M65.40,270.00L105.40,230.00M72.85,270.00L112.85,230.00M80.30,270.00L120.30,230.00M87.75,270.00L127.75,230.00M95.20,270.00L135.20,230.00M102.65,270.00L142.65,230.00M110.10,270.00L150.10,230.00M117.55,270.00L157.55,230.00" stroke="#454545" stroke-width="1.2" clip-path="url(#lc)"/>
<text x="115.3" y="207.7" font-size="13.5" textLength="78.3" lengthAdjust="spacingAndGlyphs">Frosting region</text>
<text x="113.6" y="224.6" font-size="13.5" textLength="97.0" lengthAdjust="spacingAndGlyphs">Condensing region</text>
<text x="113.6" y="243.8" font-size="13.5" textLength="113.2" lengthAdjust="spacingAndGlyphs">Non-frosting region</text>
<text x="291.5" y="39.2" font-size="13.9" textLength="116.0" lengthAdjust="spacingAndGlyphs">Severe frosting zone</text>
<text x="114.5" y="61.9" font-size="13.9" textLength="132.9" lengthAdjust="spacingAndGlyphs">Moderate frosting zone</text>
<text x="82.0" y="118.5" font-size="13.8" textLength="96.0" lengthAdjust="spacingAndGlyphs">Mild frosting zone</text>
<text x="395.0" y="55.3" font-size="13.8" textLength="32.7" lengthAdjust="spacingAndGlyphs">Case 1</text>
<text x="291.4" y="116.8" font-size="13.8" textLength="34.1" lengthAdjust="spacingAndGlyphs">Case 2</text>
<text x="378.6" y="189.8" font-size="13.5" textLength="33.7" lengthAdjust="spacingAndGlyphs">Case 3</text>
<text x="42.3" y="290.0" font-size="14.2" text-anchor="end" style="stroke-width:0.12px">0</text>
<text x="42.3" y="262.6" font-size="14.2" text-anchor="end" style="stroke-width:0.12px">10</text>
<text x="42.3" y="235.1" font-size="14.2" text-anchor="end" style="stroke-width:0.12px">20</text>
<text x="42.3" y="207.7" font-size="14.2" text-anchor="end" style="stroke-width:0.12px">30</text>
<text x="42.3" y="180.2" font-size="14.2" text-anchor="end" style="stroke-width:0.12px">40</text>
<text x="42.3" y="152.8" font-size="14.2" text-anchor="end" style="stroke-width:0.12px">50</text>
<text x="42.3" y="125.3" font-size="14.2" text-anchor="end" style="stroke-width:0.12px">60</text>
<text x="42.3" y="97.8" font-size="14.2" text-anchor="end" style="stroke-width:0.12px">70</text>
<text x="42.3" y="70.4" font-size="14.2" text-anchor="end" style="stroke-width:0.12px">80</text>
<text x="42.3" y="42.9" font-size="14.2" text-anchor="end" style="stroke-width:0.12px">90</text>
<text x="42.3" y="15.5" font-size="14.2" text-anchor="end" style="stroke-width:0.12px">100</text>
<text x="67.3" y="302.5" font-size="14.2" text-anchor="middle" style="stroke-width:0.12px">-14</text>
<text x="103.9" y="302.5" font-size="14.2" text-anchor="middle" style="stroke-width:0.12px">-12</text>
<text x="140.5" y="302.5" font-size="14.2" text-anchor="middle" style="stroke-width:0.12px">-10</text>
<text x="177.1" y="302.5" font-size="14.2" text-anchor="middle" style="stroke-width:0.12px">-8</text>
<text x="213.7" y="302.5" font-size="14.2" text-anchor="middle" style="stroke-width:0.12px">-6</text>
<text x="250.3" y="302.5" font-size="14.2" text-anchor="middle" style="stroke-width:0.12px">-4</text>
<text x="286.9" y="302.5" font-size="14.2" text-anchor="middle" style="stroke-width:0.12px">-2</text>
<text x="323.5" y="302.5" font-size="14.2" text-anchor="middle" style="stroke-width:0.12px">0</text>
<text x="360.1" y="302.5" font-size="14.2" text-anchor="middle" style="stroke-width:0.12px">2</text>
<text x="396.7" y="302.5" font-size="14.2" text-anchor="middle" style="stroke-width:0.12px">4</text>
<text x="433.3" y="302.5" font-size="14.2" text-anchor="middle" style="stroke-width:0.12px">6</text>
<text x="469.9" y="302.5" font-size="14.2" text-anchor="middle" style="stroke-width:0.12px">8</text>
<text x="506.5" y="302.5" font-size="14.2" text-anchor="middle" style="stroke-width:0.12px">10</text>
<text x="534.0" y="302.5" font-size="14.2" text-anchor="middle" style="stroke-width:0.12px">11.5</text>
<text x="285.5" y="325.4" font-size="15.5" font-weight="bold"><tspan font-style="italic">T</tspan><tspan font-size="11" dy="3">a</tspan><tspan dy="-3" dx="-0.5"> (</tspan><tspan font-size="10" dy="-6" dx="0.8">0</tspan><tspan dy="6" dx="1.3">C)</tspan></text>
<text transform="translate(16.5,172.5) rotate(-90) scale(0.94,1)" font-size="14.2" font-weight="bold"><tspan font-style="italic">RH</tspan> (%)</text>
</svg></body></html>
